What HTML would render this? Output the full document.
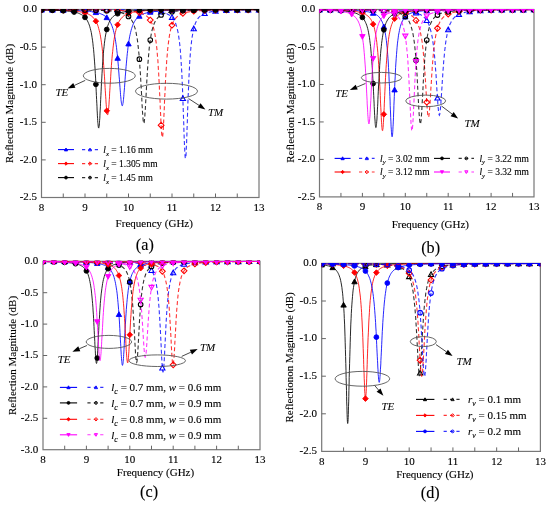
<!DOCTYPE html>
<html><head><meta charset="utf-8"><style>
html,body{margin:0;padding:0;background:#fff;}
svg{display:block;filter:blur(0.3px);}
text{stroke:#000;stroke-width:0.12px;}
</style></head><body>
<svg width="550" height="505" viewBox="0 0 550 505" font-family="'Liberation Serif','Times New Roman',serif">
<rect width="550" height="505" fill="#fff"/>
<rect x="41.5" y="9.5" width="217.5" height="188" fill="none" stroke="#777777" stroke-width="1.2"/>
<clipPath id="clipa"><rect x="41.5" y="9" width="217.5" height="188.5"/></clipPath>
<g clip-path="url(#clipa)">
<path d="M41.5,9.8 L41.8,9.8 L45.8,9.9 L49.5,9.9 L53.0,9.9 L56.4,10.0 L59.6,10.0 L62.7,10.1 L65.6,10.1 L68.4,10.2 L71.0,10.3 L73.6,10.4 L76.0,10.5 L78.2,10.6 L80.4,10.7 L82.5,10.8 L84.5,10.9 L86.4,11.1 L88.1,11.3 L89.8,11.4 L91.5,11.7 L93.0,11.9 L94.5,12.1 L95.9,12.4 L97.2,12.7 L98.5,13.1 L99.7,13.4 L100.9,13.9 L102.0,14.3 L103.0,14.8 L104.0,15.4 L105.0,16.0 L105.9,16.7 L106.7,17.5 L107.6,18.3 L108.3,19.2 L109.1,20.2 L109.8,21.3 L110.5,22.5 L111.1,23.9 L111.7,25.3 L112.3,26.9 L112.9,28.6 L113.4,30.4 L113.9,32.4 L114.4,34.5 L114.8,36.8 L115.3,39.2 L115.7,41.8 L116.1,44.5 L116.5,47.4 L116.8,50.4 L117.2,53.5 L117.5,56.6 L117.8,59.9 L118.1,63.1 L118.4,66.4 L118.6,69.7 L118.9,73.0 L119.1,76.1 L119.4,79.2 L119.6,82.2 L119.8,85.0 L120.0,87.6 L120.2,90.1 L120.4,92.3 L120.5,94.4 L120.7,96.3 L120.9,98.0 L121.0,99.5 L121.1,100.8 L121.3,101.9 L121.4,102.9 L121.5,103.6 L121.6,104.3 L121.8,104.8 L121.9,105.2 L122.0,105.5 L122.1,105.7 L122.1,105.8 L122.2,105.8 L122.2,105.8 L122.3,105.8 L122.4,105.7 L122.5,105.5 L122.6,105.2 L122.7,104.8 L122.8,104.3 L122.9,103.6 L123.1,102.9 L123.2,101.9 L123.3,100.8 L123.5,99.5 L123.6,98.0 L123.8,96.3 L123.9,94.4 L124.1,92.3 L124.3,90.1 L124.5,87.6 L124.7,85.0 L124.9,82.2 L125.1,79.2 L125.3,76.1 L125.6,73.0 L125.8,69.7 L126.1,66.4 L126.4,63.1 L126.7,59.9 L127.0,56.6 L127.3,53.5 L127.7,50.4 L128.0,47.4 L128.4,44.5 L128.8,41.8 L129.2,39.2 L129.6,36.8 L130.1,34.5 L130.6,32.4 L131.1,30.4 L131.6,28.6 L132.2,26.9 L132.7,25.3 L133.4,23.9 L134.0,22.5 L134.7,21.3 L135.4,20.2 L136.1,19.2 L136.9,18.3 L137.7,17.5 L138.6,16.7 L139.5,16.0 L140.4,15.4 L141.4,14.8 L142.5,14.3 L143.6,13.9 L144.7,13.4 L146.0,13.1 L147.2,12.7 L148.6,12.4 L150.0,12.1 L151.5,11.9 L153.0,11.7 L154.6,11.4 L156.3,11.3 L158.1,11.1 L160.0,10.9 L162.0,10.8 L164.1,10.7 L166.2,10.6 L168.5,10.5 L170.9,10.4 L173.4,10.3 L176.1,10.2 L178.9,10.1 L181.8,10.1 L184.8,10.0 L188.1,10.0 L191.4,9.9 L195.0,9.9 L198.7,9.9 L202.6,9.8 L206.7,9.8 L211.0,9.8 L215.4,9.7 L219.7,9.7 L224.1,9.7 L228.4,9.7 L232.8,9.7 L237.1,9.7 L241.5,9.6 L245.8,9.6 L250.2,9.6 L254.5,9.6 L258.9,9.6 L259.0,9.6" fill="none" stroke="#0000ff" stroke-width="1.0" opacity="0.85"/>
<polygon points="41.5,7.18 44.2,11.98 38.8,11.98" fill="#0000ff" stroke="#0000ff" stroke-width="0.90" stroke-linejoin="miter"/>
<polygon points="52.38,7.29 55.08,12.09 49.67,12.09" fill="#0000ff" stroke="#0000ff" stroke-width="0.90" stroke-linejoin="miter"/>
<polygon points="63.25,7.46 65.95,12.26 60.55,12.26" fill="#0000ff" stroke="#0000ff" stroke-width="0.90" stroke-linejoin="miter"/>
<polygon points="74.12,7.75 76.83,12.55 71.42,12.55" fill="#0000ff" stroke="#0000ff" stroke-width="0.90" stroke-linejoin="miter"/>
<polygon points="85,8.34 87.7,13.14 82.3,13.14" fill="#0000ff" stroke="#0000ff" stroke-width="0.90" stroke-linejoin="miter"/>
<polygon points="95.88,9.77 98.58,14.57 93.17,14.57" fill="#0000ff" stroke="#0000ff" stroke-width="0.90" stroke-linejoin="miter"/>
<polygon points="106.75,14.84 109.45,19.64 104.05,19.64" fill="#0000ff" stroke="#0000ff" stroke-width="0.90" stroke-linejoin="miter"/>
<polygon points="117.62,55.47 120.33,60.27 114.92,60.27" fill="#0000ff" stroke="#0000ff" stroke-width="0.90" stroke-linejoin="miter"/>
<polygon points="128.5,41.13 131.2,45.93 125.8,45.93" fill="#0000ff" stroke="#0000ff" stroke-width="0.90" stroke-linejoin="miter"/>
<polygon points="139.38,13.48 142.07,18.28 136.68,18.28" fill="#0000ff" stroke="#0000ff" stroke-width="0.90" stroke-linejoin="miter"/>
<polygon points="150.25,9.45 152.95,14.25 147.55,14.25" fill="#0000ff" stroke="#0000ff" stroke-width="0.90" stroke-linejoin="miter"/>
<polygon points="161.12,8.22 163.82,13.02 158.43,13.02" fill="#0000ff" stroke="#0000ff" stroke-width="0.90" stroke-linejoin="miter"/>
<polygon points="172,7.7 174.7,12.5 169.3,12.5" fill="#0000ff" stroke="#0000ff" stroke-width="0.90" stroke-linejoin="miter"/>
<polygon points="182.88,7.42 185.57,12.22 180.18,12.22" fill="#0000ff" stroke="#0000ff" stroke-width="0.90" stroke-linejoin="miter"/>
<polygon points="193.75,7.27 196.45,12.07 191.05,12.07" fill="#0000ff" stroke="#0000ff" stroke-width="0.90" stroke-linejoin="miter"/>
<polygon points="204.62,7.17 207.32,11.97 201.93,11.97" fill="#0000ff" stroke="#0000ff" stroke-width="0.90" stroke-linejoin="miter"/>
<polygon points="215.5,7.1 218.2,11.9 212.8,11.9" fill="#0000ff" stroke="#0000ff" stroke-width="0.90" stroke-linejoin="miter"/>
<polygon points="226.38,7.05 229.07,11.85 223.68,11.85" fill="#0000ff" stroke="#0000ff" stroke-width="0.90" stroke-linejoin="miter"/>
<polygon points="237.25,7.02 239.95,11.82 234.55,11.82" fill="#0000ff" stroke="#0000ff" stroke-width="0.90" stroke-linejoin="miter"/>
<polygon points="248.12,6.99 250.82,11.79 245.43,11.79" fill="#0000ff" stroke="#0000ff" stroke-width="0.90" stroke-linejoin="miter"/>
<polygon points="259,6.97 261.7,11.77 256.3,11.77" fill="#0000ff" stroke="#0000ff" stroke-width="0.90" stroke-linejoin="miter"/>
<path d="M41.5,9.6 L44.5,9.6 L48.8,9.6 L53.2,9.6 L57.5,9.6 L61.9,9.6 L66.2,9.6 L70.6,9.6 L74.9,9.6 L79.3,9.6 L83.6,9.6 L88.0,9.7 L92.3,9.7 L96.7,9.7 L101.0,9.7 L105.1,9.7 L109.0,9.8 L112.7,9.8 L116.3,9.8 L119.7,9.8 L122.9,9.9 L125.9,9.9 L128.9,10.0 L131.6,10.0 L134.3,10.1 L136.8,10.1 L139.2,10.2 L141.5,10.3 L143.7,10.4 L145.7,10.4 L147.7,10.5 L149.6,10.7 L151.4,10.8 L153.1,10.9 L154.7,11.1 L156.3,11.2 L157.7,11.4 L159.1,11.6 L160.5,11.9 L161.8,12.1 L163.0,12.4 L164.1,12.7 L165.2,13.1 L166.3,13.5 L167.3,13.9 L168.2,14.4 L169.1,14.9 L170.0,15.5 L170.8,16.2 L171.6,16.9 L172.3,17.7 L173.0,18.6 L173.7,19.6 L174.4,20.7 L175.0,22.0 L175.6,23.3 L176.1,24.8 L176.6,26.5 L177.1,28.4 L177.6,30.4 L178.1,32.7 L178.5,35.1 L178.9,37.8 L179.3,40.8 L179.7,44.0 L180.1,47.5 L180.4,51.3 L180.7,55.4 L181.0,59.8 L181.3,64.5 L181.6,69.4 L181.9,74.6 L182.1,80.0 L182.4,85.6 L182.6,91.3 L182.8,97.1 L183.0,103.0 L183.2,108.7 L183.4,114.4 L183.6,119.9 L183.8,125.1 L183.9,130.1 L184.1,134.7 L184.2,138.9 L184.4,142.7 L184.5,146.0 L184.7,148.9 L184.8,151.4 L184.9,153.5 L185.0,155.1 L185.1,156.4 L185.2,157.4 L185.3,158.0 L185.4,158.4 L185.5,158.5 L185.5,158.5 L185.6,158.4 L185.7,158.0 L185.8,157.4 L185.9,156.4 L186.0,155.1 L186.1,153.5 L186.2,151.4 L186.3,148.9 L186.4,146.0 L186.6,142.7 L186.7,138.9 L186.9,134.7 L187.0,130.1 L187.2,125.1 L187.4,119.9 L187.5,114.4 L187.7,108.7 L187.9,103.0 L188.1,97.1 L188.4,91.3 L188.6,85.6 L188.8,80.0 L189.1,74.6 L189.4,69.4 L189.6,64.5 L189.9,59.8 L190.2,55.4 L190.6,51.3 L190.9,47.5 L191.3,44.0 L191.6,40.8 L192.0,37.8 L192.5,35.1 L192.9,32.7 L193.3,30.4 L193.8,28.4 L194.3,26.5 L194.9,24.8 L195.4,23.3 L196.0,22.0 L196.6,20.7 L197.3,19.6 L197.9,18.6 L198.6,17.7 L199.4,16.9 L200.2,16.2 L201.0,15.5 L201.8,14.9 L202.7,14.4 L203.7,13.9 L204.7,13.5 L205.7,13.1 L206.8,12.7 L208.0,12.4 L209.2,12.1 L210.5,11.9 L211.8,11.6 L213.2,11.4 L214.7,11.2 L216.2,11.1 L217.9,10.9 L219.6,10.8 L221.4,10.7 L223.3,10.5 L225.2,10.4 L227.3,10.4 L229.5,10.3 L231.8,10.2 L234.2,10.1 L236.7,10.1 L239.3,10.0 L242.1,10.0 L245.0,9.9 L248.1,9.9 L251.3,9.8 L254.7,9.8 L258.2,9.8 L259.0,9.8" fill="none" stroke="#0000ff" stroke-width="1.1" stroke-dasharray="4 2.6" opacity="0.8"/>
<polygon points="41.5,7.04 44.1,11.64 38.9,11.64" fill="none" stroke="#0000ff" stroke-width="1.08" stroke-linejoin="miter"/>
<polygon points="52.38,7.05 54.98,11.65 49.77,11.65" fill="none" stroke="#0000ff" stroke-width="1.08" stroke-linejoin="miter"/>
<polygon points="63.25,7.07 65.85,11.67 60.65,11.67" fill="none" stroke="#0000ff" stroke-width="1.08" stroke-linejoin="miter"/>
<polygon points="74.12,7.09 76.72,11.69 71.53,11.69" fill="none" stroke="#0000ff" stroke-width="1.08" stroke-linejoin="miter"/>
<polygon points="85,7.12 87.6,11.72 82.4,11.72" fill="none" stroke="#0000ff" stroke-width="1.08" stroke-linejoin="miter"/>
<polygon points="95.88,7.16 98.47,11.76 93.28,11.76" fill="none" stroke="#0000ff" stroke-width="1.08" stroke-linejoin="miter"/>
<polygon points="106.75,7.21 109.35,11.81 104.15,11.81" fill="none" stroke="#0000ff" stroke-width="1.08" stroke-linejoin="miter"/>
<polygon points="117.62,7.3 120.22,11.9 115.03,11.9" fill="none" stroke="#0000ff" stroke-width="1.08" stroke-linejoin="miter"/>
<polygon points="128.5,7.43 131.1,12.03 125.9,12.03" fill="none" stroke="#0000ff" stroke-width="1.08" stroke-linejoin="miter"/>
<polygon points="139.38,7.67 141.97,12.27 136.78,12.27" fill="none" stroke="#0000ff" stroke-width="1.08" stroke-linejoin="miter"/>
<polygon points="150.25,8.17 152.85,12.77 147.65,12.77" fill="none" stroke="#0000ff" stroke-width="1.08" stroke-linejoin="miter"/>
<polygon points="161.12,9.46 163.72,14.06 158.53,14.06" fill="none" stroke="#0000ff" stroke-width="1.08" stroke-linejoin="miter"/>
<polygon points="172,14.8 174.6,19.4 169.4,19.4" fill="none" stroke="#0000ff" stroke-width="1.08" stroke-linejoin="miter"/>
<polygon points="182.88,95.88 185.47,100.48 180.28,100.48" fill="none" stroke="#0000ff" stroke-width="1.08" stroke-linejoin="miter"/>
<polygon points="193.75,26.13 196.35,30.73 191.15,30.73" fill="none" stroke="#0000ff" stroke-width="1.08" stroke-linejoin="miter"/>
<polygon points="204.62,10.96 207.22,15.56 202.03,15.56" fill="none" stroke="#0000ff" stroke-width="1.08" stroke-linejoin="miter"/>
<polygon points="215.5,8.62 218.1,13.22 212.9,13.22" fill="none" stroke="#0000ff" stroke-width="1.08" stroke-linejoin="miter"/>
<polygon points="226.38,7.86 228.97,12.46 223.78,12.46" fill="none" stroke="#0000ff" stroke-width="1.08" stroke-linejoin="miter"/>
<polygon points="237.25,7.53 239.85,12.13 234.65,12.13" fill="none" stroke="#0000ff" stroke-width="1.08" stroke-linejoin="miter"/>
<polygon points="248.12,7.35 250.72,11.95 245.53,11.95" fill="none" stroke="#0000ff" stroke-width="1.08" stroke-linejoin="miter"/>
<polygon points="259,7.25 261.6,11.85 256.4,11.85" fill="none" stroke="#0000ff" stroke-width="1.08" stroke-linejoin="miter"/>
<path d="M41.5,9.9 L41.7,9.9 L45.0,10.0 L48.0,10.0 L50.9,10.1 L53.7,10.1 L56.4,10.2 L58.9,10.3 L61.3,10.3 L63.6,10.4 L65.8,10.5 L67.8,10.6 L69.8,10.7 L71.7,10.9 L73.5,11.0 L75.2,11.2 L76.8,11.4 L78.4,11.6 L79.8,11.8 L81.2,12.0 L82.6,12.3 L83.9,12.6 L85.1,12.9 L86.2,13.3 L87.3,13.7 L88.4,14.2 L89.4,14.7 L90.3,15.2 L91.2,15.8 L92.1,16.5 L92.9,17.2 L93.7,18.1 L94.4,19.0 L95.1,20.0 L95.8,21.1 L96.5,22.3 L97.1,23.6 L97.7,25.1 L98.2,26.6 L98.7,28.4 L99.2,30.3 L99.7,32.3 L100.2,34.5 L100.6,36.9 L101.0,39.5 L101.4,42.2 L101.8,45.1 L102.2,48.2 L102.5,51.4 L102.8,54.8 L103.1,58.3 L103.4,61.9 L103.7,65.6 L104.0,69.3 L104.2,73.1 L104.5,76.8 L104.7,80.4 L104.9,84.0 L105.1,87.5 L105.3,90.8 L105.5,93.9 L105.7,96.8 L105.9,99.5 L106.0,102.0 L106.2,104.2 L106.3,106.2 L106.5,107.9 L106.6,109.4 L106.7,110.7 L106.9,111.8 L107.0,112.7 L107.1,113.4 L107.2,114.0 L107.3,114.4 L107.4,114.6 L107.5,114.8 L107.6,114.8 L107.6,114.8 L107.7,114.8 L107.8,114.6 L107.9,114.4 L108.0,114.0 L108.1,113.4 L108.2,112.7 L108.3,111.8 L108.4,110.7 L108.5,109.4 L108.7,107.9 L108.8,106.2 L109.0,104.2 L109.1,102.0 L109.3,99.5 L109.5,96.8 L109.6,93.9 L109.8,90.8 L110.0,87.5 L110.2,84.0 L110.5,80.4 L110.7,76.8 L110.9,73.1 L111.2,69.3 L111.4,65.6 L111.7,61.9 L112.0,58.3 L112.3,54.8 L112.7,51.4 L113.0,48.2 L113.4,45.1 L113.7,42.2 L114.1,39.5 L114.5,36.9 L115.0,34.5 L115.4,32.3 L115.9,30.3 L116.4,28.4 L116.9,26.6 L117.5,25.1 L118.1,23.6 L118.7,22.3 L119.3,21.1 L120.0,20.0 L120.7,19.0 L121.5,18.1 L122.3,17.2 L123.1,16.5 L123.9,15.8 L124.8,15.2 L125.8,14.7 L126.8,14.2 L127.8,13.7 L128.9,13.3 L130.1,12.9 L131.3,12.6 L132.6,12.3 L133.9,12.0 L135.3,11.8 L136.8,11.6 L138.3,11.4 L140.0,11.2 L141.7,11.0 L143.5,10.9 L145.3,10.7 L147.3,10.6 L149.4,10.5 L151.6,10.4 L153.9,10.3 L156.3,10.3 L158.8,10.2 L161.4,10.1 L164.2,10.1 L167.1,10.0 L170.2,10.0 L173.4,9.9 L176.8,9.9 L180.3,9.8 L184.1,9.8 L188.0,9.8 L192.1,9.8 L196.4,9.7 L200.7,9.7 L205.1,9.7 L209.4,9.7 L213.8,9.7 L218.1,9.6 L222.5,9.6 L226.8,9.6 L231.2,9.6 L235.5,9.6 L239.9,9.6 L244.2,9.6 L248.6,9.6 L252.9,9.6 L257.3,9.6 L259.0,9.6" fill="none" stroke="#ff0000" stroke-width="1.0" opacity="0.85"/>
<polygon points="41.5,7.11 44.3,9.91 41.5,12.71 38.7,9.91" fill="#ff0000" stroke="#ff0000" stroke-width="0.90" stroke-linejoin="miter"/>
<polygon points="52.38,7.29 55.17,10.09 52.38,12.89 49.58,10.09" fill="#ff0000" stroke="#ff0000" stroke-width="0.90" stroke-linejoin="miter"/>
<polygon points="63.25,7.61 66.05,10.41 63.25,13.21 60.45,10.41" fill="#ff0000" stroke="#ff0000" stroke-width="0.90" stroke-linejoin="miter"/>
<polygon points="74.12,8.28 76.92,11.08 74.12,13.88 71.33,11.08" fill="#ff0000" stroke="#ff0000" stroke-width="0.90" stroke-linejoin="miter"/>
<polygon points="85,10.11 87.8,12.91 85,15.71 82.2,12.91" fill="#ff0000" stroke="#ff0000" stroke-width="0.90" stroke-linejoin="miter"/>
<polygon points="95.88,18.38 98.67,21.18 95.88,23.98 93.08,21.18" fill="#ff0000" stroke="#ff0000" stroke-width="0.90" stroke-linejoin="miter"/>
<polygon points="106.75,107.97 109.55,110.77 106.75,113.57 103.95,110.77" fill="#ff0000" stroke="#ff0000" stroke-width="0.90" stroke-linejoin="miter"/>
<polygon points="117.62,21.94 120.42,24.74 117.62,27.54 114.83,24.74" fill="#ff0000" stroke="#ff0000" stroke-width="0.90" stroke-linejoin="miter"/>
<polygon points="128.5,10.65 131.3,13.45 128.5,16.25 125.7,13.45" fill="#ff0000" stroke="#ff0000" stroke-width="0.90" stroke-linejoin="miter"/>
<polygon points="139.38,8.45 142.18,11.25 139.38,14.05 136.57,11.25" fill="#ff0000" stroke="#ff0000" stroke-width="0.90" stroke-linejoin="miter"/>
<polygon points="150.25,7.68 153.05,10.48 150.25,13.28 147.45,10.48" fill="#ff0000" stroke="#ff0000" stroke-width="0.90" stroke-linejoin="miter"/>
<polygon points="161.12,7.32 163.93,10.12 161.12,12.92 158.32,10.12" fill="#ff0000" stroke="#ff0000" stroke-width="0.90" stroke-linejoin="miter"/>
<polygon points="172,7.13 174.8,9.93 172,12.73 169.2,9.93" fill="#ff0000" stroke="#ff0000" stroke-width="0.90" stroke-linejoin="miter"/>
<polygon points="182.88,7.02 185.68,9.82 182.88,12.62 180.07,9.82" fill="#ff0000" stroke="#ff0000" stroke-width="0.90" stroke-linejoin="miter"/>
<polygon points="193.75,6.94 196.55,9.74 193.75,12.54 190.95,9.74" fill="#ff0000" stroke="#ff0000" stroke-width="0.90" stroke-linejoin="miter"/>
<polygon points="204.62,6.89 207.43,9.69 204.62,12.49 201.82,9.69" fill="#ff0000" stroke="#ff0000" stroke-width="0.90" stroke-linejoin="miter"/>
<polygon points="215.5,6.85 218.3,9.65 215.5,12.45 212.7,9.65" fill="#ff0000" stroke="#ff0000" stroke-width="0.90" stroke-linejoin="miter"/>
<polygon points="226.38,6.83 229.18,9.63 226.38,12.43 223.57,9.63" fill="#ff0000" stroke="#ff0000" stroke-width="0.90" stroke-linejoin="miter"/>
<polygon points="237.25,6.81 240.05,9.61 237.25,12.41 234.45,9.61" fill="#ff0000" stroke="#ff0000" stroke-width="0.90" stroke-linejoin="miter"/>
<polygon points="248.12,6.79 250.93,9.59 248.12,12.39 245.32,9.59" fill="#ff0000" stroke="#ff0000" stroke-width="0.90" stroke-linejoin="miter"/>
<polygon points="259,6.78 261.8,9.58 259,12.38 256.2,9.58" fill="#ff0000" stroke="#ff0000" stroke-width="0.90" stroke-linejoin="miter"/>
<path d="M41.5,9.6 L43.0,9.6 L47.4,9.6 L51.7,9.6 L56.1,9.6 L60.4,9.7 L64.8,9.7 L69.1,9.7 L73.5,9.7 L77.8,9.7 L81.9,9.8 L85.8,9.8 L89.5,9.8 L93.1,9.8 L96.5,9.9 L99.7,9.9 L102.8,10.0 L105.7,10.0 L108.5,10.1 L111.1,10.1 L113.6,10.2 L116.0,10.3 L118.3,10.4 L120.5,10.5 L122.6,10.6 L124.5,10.7 L126.4,10.8 L128.2,10.9 L129.9,11.1 L131.5,11.3 L133.1,11.4 L134.6,11.6 L136.0,11.9 L137.3,12.1 L138.6,12.4 L139.8,12.7 L140.9,13.1 L142.0,13.5 L143.1,13.9 L144.1,14.4 L145.0,14.9 L145.9,15.5 L146.8,16.1 L147.6,16.8 L148.4,17.6 L149.2,18.5 L149.9,19.5 L150.5,20.6 L151.2,21.8 L151.8,23.1 L152.4,24.5 L152.9,26.1 L153.5,27.9 L154.0,29.8 L154.4,31.9 L154.9,34.2 L155.3,36.7 L155.7,39.5 L156.1,42.4 L156.5,45.6 L156.9,49.0 L157.2,52.6 L157.5,56.5 L157.9,60.5 L158.1,64.8 L158.4,69.2 L158.7,73.8 L158.9,78.5 L159.2,83.2 L159.4,88.0 L159.6,92.7 L159.9,97.3 L160.1,101.9 L160.2,106.2 L160.4,110.3 L160.6,114.2 L160.8,117.8 L160.9,121.1 L161.1,124.1 L161.2,126.7 L161.3,129.0 L161.5,131.0 L161.6,132.7 L161.7,134.1 L161.8,135.2 L161.9,136.0 L162.0,136.7 L162.1,137.1 L162.2,137.3 L162.3,137.4 L162.3,137.4 L162.4,137.3 L162.5,137.1 L162.6,136.7 L162.7,136.0 L162.8,135.2 L162.9,134.1 L163.0,132.7 L163.1,131.0 L163.3,129.0 L163.4,126.7 L163.5,124.1 L163.7,121.1 L163.8,117.8 L164.0,114.2 L164.2,110.3 L164.4,106.2 L164.5,101.9 L164.7,97.3 L165.0,92.7 L165.2,88.0 L165.4,83.2 L165.6,78.5 L165.9,73.8 L166.2,69.2 L166.5,64.8 L166.7,60.5 L167.1,56.5 L167.4,52.6 L167.7,49.0 L168.1,45.6 L168.5,42.4 L168.9,39.5 L169.3,36.7 L169.7,34.2 L170.2,31.9 L170.6,29.8 L171.1,27.9 L171.7,26.1 L172.2,24.5 L172.8,23.1 L173.4,21.8 L174.1,20.6 L174.7,19.5 L175.4,18.5 L176.2,17.6 L177.0,16.8 L177.8,16.1 L178.7,15.5 L179.6,14.9 L180.5,14.4 L181.5,13.9 L182.6,13.5 L183.7,13.1 L184.8,12.7 L186.0,12.4 L187.3,12.1 L188.6,11.9 L190.0,11.6 L191.5,11.4 L193.1,11.3 L194.7,11.1 L196.4,10.9 L198.2,10.8 L200.1,10.7 L202.0,10.6 L204.1,10.5 L206.3,10.4 L208.6,10.3 L211.0,10.2 L213.5,10.1 L216.1,10.1 L218.9,10.0 L221.8,10.0 L224.9,9.9 L228.1,9.9 L231.5,9.8 L235.1,9.8 L238.8,9.8 L242.7,9.8 L246.8,9.7 L251.1,9.7 L255.5,9.7 L259.0,9.7" fill="none" stroke="#ff0000" stroke-width="1.1" stroke-dasharray="4 2.6" opacity="0.8"/>
<polygon points="41.5,6.71 44.4,9.61 41.5,12.51 38.6,9.61" fill="none" stroke="#ff0000" stroke-width="1.08" stroke-linejoin="miter"/>
<polygon points="52.38,6.74 55.27,9.64 52.38,12.54 49.48,9.64" fill="none" stroke="#ff0000" stroke-width="1.08" stroke-linejoin="miter"/>
<polygon points="63.25,6.77 66.15,9.67 63.25,12.57 60.35,9.67" fill="none" stroke="#ff0000" stroke-width="1.08" stroke-linejoin="miter"/>
<polygon points="74.12,6.82 77.03,9.72 74.12,12.62 71.22,9.72" fill="none" stroke="#ff0000" stroke-width="1.08" stroke-linejoin="miter"/>
<polygon points="85,6.88 87.9,9.78 85,12.68 82.1,9.78" fill="none" stroke="#ff0000" stroke-width="1.08" stroke-linejoin="miter"/>
<polygon points="95.88,6.98 98.78,9.88 95.88,12.78 92.97,9.88" fill="none" stroke="#ff0000" stroke-width="1.08" stroke-linejoin="miter"/>
<polygon points="106.75,7.14 109.65,10.04 106.75,12.94 103.85,10.04" fill="none" stroke="#ff0000" stroke-width="1.08" stroke-linejoin="miter"/>
<polygon points="117.62,7.44 120.53,10.34 117.62,13.24 114.72,10.34" fill="none" stroke="#ff0000" stroke-width="1.08" stroke-linejoin="miter"/>
<polygon points="128.5,8.05 131.4,10.95 128.5,13.85 125.6,10.95" fill="none" stroke="#ff0000" stroke-width="1.08" stroke-linejoin="miter"/>
<polygon points="139.38,9.72 142.28,12.62 139.38,15.52 136.47,12.62" fill="none" stroke="#ff0000" stroke-width="1.08" stroke-linejoin="miter"/>
<polygon points="150.25,17.21 153.15,20.11 150.25,23.01 147.35,20.11" fill="none" stroke="#ff0000" stroke-width="1.08" stroke-linejoin="miter"/>
<polygon points="161.12,122.34 164.03,125.24 161.12,128.14 158.22,125.24" fill="none" stroke="#ff0000" stroke-width="1.08" stroke-linejoin="miter"/>
<polygon points="172,22.26 174.9,25.16 172,28.06 169.1,25.16" fill="none" stroke="#ff0000" stroke-width="1.08" stroke-linejoin="miter"/>
<polygon points="182.88,10.45 185.78,13.35 182.88,16.25 179.97,13.35" fill="none" stroke="#ff0000" stroke-width="1.08" stroke-linejoin="miter"/>
<polygon points="193.75,8.28 196.65,11.18 193.75,14.08 190.85,11.18" fill="none" stroke="#ff0000" stroke-width="1.08" stroke-linejoin="miter"/>
<polygon points="204.62,7.53 207.53,10.43 204.62,13.33 201.72,10.43" fill="none" stroke="#ff0000" stroke-width="1.08" stroke-linejoin="miter"/>
<polygon points="215.5,7.19 218.4,10.09 215.5,12.99 212.6,10.09" fill="none" stroke="#ff0000" stroke-width="1.08" stroke-linejoin="miter"/>
<polygon points="226.38,7.01 229.28,9.91 226.38,12.81 223.47,9.91" fill="none" stroke="#ff0000" stroke-width="1.08" stroke-linejoin="miter"/>
<polygon points="237.25,6.9 240.15,9.8 237.25,12.7 234.35,9.8" fill="none" stroke="#ff0000" stroke-width="1.08" stroke-linejoin="miter"/>
<polygon points="248.12,6.83 251.03,9.73 248.12,12.63 245.22,9.73" fill="none" stroke="#ff0000" stroke-width="1.08" stroke-linejoin="miter"/>
<polygon points="259,6.78 261.9,9.68 259,12.58 256.1,9.68" fill="none" stroke="#ff0000" stroke-width="1.08" stroke-linejoin="miter"/>
<path d="M41.5,10.0 L42.0,10.0 L44.8,10.0 L47.5,10.1 L50.0,10.2 L52.4,10.2 L54.7,10.3 L56.8,10.4 L58.9,10.5 L60.9,10.6 L62.8,10.7 L64.6,10.8 L66.3,11.0 L67.9,11.1 L69.4,11.3 L70.9,11.5 L72.3,11.7 L73.7,12.0 L74.9,12.2 L76.1,12.5 L77.3,12.8 L78.4,13.2 L79.4,13.6 L80.4,14.1 L81.4,14.6 L82.3,15.1 L83.2,15.7 L84.0,16.4 L84.8,17.1 L85.5,17.9 L86.2,18.9 L86.9,19.9 L87.5,21.0 L88.1,22.2 L88.7,23.6 L89.3,25.1 L89.8,26.7 L90.3,28.5 L90.8,30.5 L91.3,32.6 L91.7,35.0 L92.1,37.5 L92.5,40.2 L92.9,43.2 L93.2,46.4 L93.6,49.7 L93.9,53.3 L94.2,57.1 L94.5,61.1 L94.8,65.2 L95.1,69.4 L95.3,73.7 L95.6,78.1 L95.8,82.5 L96.0,86.9 L96.2,91.2 L96.4,95.4 L96.6,99.4 L96.8,103.2 L97.0,106.8 L97.1,110.1 L97.3,113.1 L97.4,115.8 L97.6,118.3 L97.7,120.4 L97.8,122.2 L98.0,123.8 L98.1,125.0 L98.2,126.1 L98.3,126.9 L98.4,127.4 L98.5,127.8 L98.6,128.0 L98.7,128.1 L98.7,128.1 L98.7,128.0 L98.8,127.8 L98.9,127.4 L99.0,126.9 L99.1,126.1 L99.3,125.0 L99.4,123.8 L99.5,122.2 L99.6,120.4 L99.8,118.3 L99.9,115.8 L100.0,113.1 L100.2,110.1 L100.4,106.8 L100.5,103.2 L100.7,99.4 L100.9,95.4 L101.1,91.2 L101.3,86.9 L101.5,82.5 L101.8,78.1 L102.0,73.7 L102.3,69.4 L102.5,65.2 L102.8,61.1 L103.1,57.1 L103.4,53.3 L103.7,49.7 L104.1,46.4 L104.4,43.2 L104.8,40.2 L105.2,37.5 L105.6,35.0 L106.1,32.6 L106.5,30.5 L107.0,28.5 L107.5,26.7 L108.0,25.1 L108.6,23.6 L109.2,22.2 L109.8,21.0 L110.4,19.9 L111.1,18.9 L111.8,17.9 L112.6,17.1 L113.3,16.4 L114.2,15.7 L115.0,15.1 L115.9,14.6 L116.9,14.1 L117.9,13.6 L118.9,13.2 L120.0,12.8 L121.2,12.5 L122.4,12.2 L123.7,12.0 L125.0,11.7 L126.4,11.5 L127.9,11.3 L129.4,11.1 L131.0,11.0 L132.8,10.8 L134.5,10.7 L136.4,10.6 L138.4,10.5 L140.5,10.4 L142.7,10.3 L144.9,10.2 L147.3,10.2 L149.9,10.1 L152.5,10.0 L155.3,10.0 L158.2,9.9 L161.3,9.9 L164.5,9.9 L167.9,9.8 L171.4,9.8 L175.1,9.8 L179.0,9.7 L183.2,9.7 L187.5,9.7 L191.8,9.7 L196.2,9.7 L200.5,9.7 L204.9,9.6 L209.2,9.6 L213.6,9.6 L217.9,9.6 L222.3,9.6 L226.6,9.6 L231.0,9.6 L235.3,9.6 L239.7,9.6 L244.0,9.6 L248.4,9.6 L252.7,9.6 L257.1,9.6 L259.0,9.6" fill="none" stroke="#000000" stroke-width="1.0" opacity="0.85"/>
<circle cx="41.5" cy="9.98" r="2.4" fill="#000000" stroke="#000000" stroke-width="0.90"/>
<circle cx="52.38" cy="10.23" r="2.4" fill="#000000" stroke="#000000" stroke-width="0.90"/>
<circle cx="63.25" cy="10.74" r="2.4" fill="#000000" stroke="#000000" stroke-width="0.90"/>
<circle cx="74.12" cy="12.06" r="2.4" fill="#000000" stroke="#000000" stroke-width="0.90"/>
<circle cx="85" cy="17.37" r="2.4" fill="#000000" stroke="#000000" stroke-width="0.90"/>
<circle cx="95.88" cy="84.34" r="2.4" fill="#000000" stroke="#000000" stroke-width="0.90"/>
<circle cx="106.75" cy="29.47" r="2.4" fill="#000000" stroke="#000000" stroke-width="0.90"/>
<circle cx="117.62" cy="13.72" r="2.4" fill="#000000" stroke="#000000" stroke-width="0.90"/>
<circle cx="128.5" cy="11.24" r="2.4" fill="#000000" stroke="#000000" stroke-width="0.90"/>
<circle cx="139.38" cy="10.44" r="2.4" fill="#000000" stroke="#000000" stroke-width="0.90"/>
<circle cx="150.25" cy="10.09" r="2.4" fill="#000000" stroke="#000000" stroke-width="0.90"/>
<circle cx="161.12" cy="9.9" r="2.4" fill="#000000" stroke="#000000" stroke-width="0.90"/>
<circle cx="172" cy="9.79" r="2.4" fill="#000000" stroke="#000000" stroke-width="0.90"/>
<circle cx="182.88" cy="9.72" r="2.4" fill="#000000" stroke="#000000" stroke-width="0.90"/>
<circle cx="193.75" cy="9.67" r="2.4" fill="#000000" stroke="#000000" stroke-width="0.90"/>
<circle cx="204.62" cy="9.64" r="2.4" fill="#000000" stroke="#000000" stroke-width="0.90"/>
<circle cx="215.5" cy="9.62" r="2.4" fill="#000000" stroke="#000000" stroke-width="0.90"/>
<circle cx="226.38" cy="9.6" r="2.4" fill="#000000" stroke="#000000" stroke-width="0.90"/>
<circle cx="237.25" cy="9.58" r="2.4" fill="#000000" stroke="#000000" stroke-width="0.90"/>
<circle cx="248.12" cy="9.57" r="2.4" fill="#000000" stroke="#000000" stroke-width="0.90"/>
<circle cx="259" cy="9.56" r="2.4" fill="#000000" stroke="#000000" stroke-width="0.90"/>
<path d="M41.5,9.7 L42.0,9.7 L46.3,9.7 L50.7,9.7 L55.0,9.7 L59.3,9.7 L63.4,9.8 L67.3,9.8 L71.1,9.8 L74.6,9.9 L78.0,9.9 L81.2,9.9 L84.3,10.0 L87.2,10.0 L90.0,10.1 L92.6,10.2 L95.1,10.2 L97.5,10.3 L99.8,10.4 L102.0,10.5 L104.1,10.6 L106.0,10.7 L107.9,10.8 L109.7,11.0 L111.4,11.1 L113.1,11.3 L114.6,11.5 L116.1,11.7 L117.5,11.9 L118.8,12.2 L120.1,12.5 L121.3,12.8 L122.5,13.2 L123.6,13.6 L124.6,14.0 L125.6,14.5 L126.5,15.0 L127.5,15.6 L128.3,16.3 L129.1,17.0 L129.9,17.8 L130.7,18.7 L131.4,19.7 L132.0,20.8 L132.7,22.0 L133.3,23.3 L133.9,24.7 L134.4,26.3 L135.0,28.1 L135.5,30.0 L136.0,32.0 L136.4,34.3 L136.8,36.7 L137.3,39.3 L137.7,42.1 L138.0,45.1 L138.4,48.4 L138.7,51.7 L139.1,55.3 L139.4,59.0 L139.7,62.9 L139.9,66.9 L140.2,70.9 L140.5,75.1 L140.7,79.2 L140.9,83.3 L141.2,87.3 L141.4,91.2 L141.6,95.0 L141.8,98.6 L141.9,102.0 L142.1,105.1 L142.3,108.0 L142.4,110.6 L142.6,113.0 L142.7,115.1 L142.9,116.9 L143.0,118.4 L143.1,119.7 L143.2,120.8 L143.3,121.7 L143.4,122.3 L143.5,122.8 L143.6,123.1 L143.7,123.3 L143.8,123.4 L143.8,123.4 L143.9,123.3 L144.0,123.1 L144.1,122.8 L144.2,122.3 L144.3,121.7 L144.4,120.8 L144.5,119.7 L144.6,118.4 L144.8,116.9 L144.9,115.1 L145.0,113.0 L145.2,110.6 L145.4,108.0 L145.5,105.1 L145.7,102.0 L145.9,98.6 L146.1,95.0 L146.3,91.2 L146.5,87.3 L146.7,83.3 L146.9,79.2 L147.2,75.1 L147.4,70.9 L147.7,66.9 L148.0,62.9 L148.3,59.0 L148.6,55.3 L148.9,51.7 L149.2,48.4 L149.6,45.1 L150.0,42.1 L150.4,39.3 L150.8,36.7 L151.2,34.3 L151.7,32.0 L152.1,30.0 L152.7,28.1 L153.2,26.3 L153.7,24.7 L154.3,23.3 L154.9,22.0 L155.6,20.8 L156.3,19.7 L157.0,18.7 L157.7,17.8 L158.5,17.0 L159.3,16.3 L160.2,15.6 L161.1,15.0 L162.0,14.5 L163.0,14.0 L164.1,13.6 L165.2,13.2 L166.3,12.8 L167.5,12.5 L168.8,12.2 L170.1,11.9 L171.6,11.7 L173.0,11.5 L174.6,11.3 L176.2,11.1 L177.9,11.0 L179.7,10.8 L181.6,10.7 L183.6,10.6 L185.6,10.5 L187.8,10.4 L190.1,10.3 L192.5,10.2 L195.0,10.2 L197.7,10.1 L200.4,10.0 L203.4,10.0 L206.4,9.9 L209.6,9.9 L213.0,9.9 L216.6,9.8 L220.3,9.8 L224.2,9.8 L228.3,9.7 L232.6,9.7 L237.0,9.7 L241.3,9.7 L245.7,9.7 L250.0,9.7 L254.4,9.6 L258.7,9.6 L259.0,9.6" fill="none" stroke="#000000" stroke-width="1.1" stroke-dasharray="4 2.6" opacity="0.8"/>
<circle cx="41.5" cy="9.67" r="2.3" fill="none" stroke="#000000" stroke-width="1.08"/>
<circle cx="52.38" cy="9.71" r="2.3" fill="none" stroke="#000000" stroke-width="1.08"/>
<circle cx="63.25" cy="9.77" r="2.3" fill="none" stroke="#000000" stroke-width="1.08"/>
<circle cx="74.12" cy="9.86" r="2.3" fill="none" stroke="#000000" stroke-width="1.08"/>
<circle cx="85" cy="10" r="2.3" fill="none" stroke="#000000" stroke-width="1.08"/>
<circle cx="95.88" cy="10.25" r="2.3" fill="none" stroke="#000000" stroke-width="1.08"/>
<circle cx="106.75" cy="10.75" r="2.3" fill="none" stroke="#000000" stroke-width="1.08"/>
<circle cx="117.62" cy="11.97" r="2.3" fill="none" stroke="#000000" stroke-width="1.08"/>
<circle cx="128.5" cy="16.44" r="2.3" fill="none" stroke="#000000" stroke-width="1.08"/>
<circle cx="139.38" cy="59.16" r="2.3" fill="none" stroke="#000000" stroke-width="1.08"/>
<circle cx="150.25" cy="40.09" r="2.3" fill="none" stroke="#000000" stroke-width="1.08"/>
<circle cx="161.12" cy="15" r="2.3" fill="none" stroke="#000000" stroke-width="1.08"/>
<circle cx="172" cy="11.64" r="2.3" fill="none" stroke="#000000" stroke-width="1.08"/>
<circle cx="182.88" cy="10.62" r="2.3" fill="none" stroke="#000000" stroke-width="1.08"/>
<circle cx="193.75" cy="10.19" r="2.3" fill="none" stroke="#000000" stroke-width="1.08"/>
<circle cx="204.62" cy="9.97" r="2.3" fill="none" stroke="#000000" stroke-width="1.08"/>
<circle cx="215.5" cy="9.84" r="2.3" fill="none" stroke="#000000" stroke-width="1.08"/>
<circle cx="226.38" cy="9.75" r="2.3" fill="none" stroke="#000000" stroke-width="1.08"/>
<circle cx="237.25" cy="9.7" r="2.3" fill="none" stroke="#000000" stroke-width="1.08"/>
<circle cx="248.12" cy="9.66" r="2.3" fill="none" stroke="#000000" stroke-width="1.08"/>
<circle cx="259" cy="9.63" r="2.3" fill="none" stroke="#000000" stroke-width="1.08"/>
</g>
<text x="41.5" y="210.6" font-size="11" text-anchor="middle" fill="#000">8</text>
<line x1="63.25" y1="197.5" x2="63.25" y2="193.5" stroke="#666" stroke-width="1"/>
<line x1="85" y1="197.5" x2="85" y2="193.5" stroke="#666" stroke-width="1"/>
<text x="85" y="210.6" font-size="11" text-anchor="middle" fill="#000">9</text>
<line x1="106.75" y1="197.5" x2="106.75" y2="193.5" stroke="#666" stroke-width="1"/>
<line x1="128.5" y1="197.5" x2="128.5" y2="193.5" stroke="#666" stroke-width="1"/>
<text x="128.5" y="210.6" font-size="11" text-anchor="middle" fill="#000">10</text>
<line x1="150.25" y1="197.5" x2="150.25" y2="193.5" stroke="#666" stroke-width="1"/>
<line x1="172" y1="197.5" x2="172" y2="193.5" stroke="#666" stroke-width="1"/>
<text x="172" y="210.6" font-size="11" text-anchor="middle" fill="#000">11</text>
<line x1="193.75" y1="197.5" x2="193.75" y2="193.5" stroke="#666" stroke-width="1"/>
<line x1="215.5" y1="197.5" x2="215.5" y2="193.5" stroke="#666" stroke-width="1"/>
<text x="215.5" y="210.6" font-size="11" text-anchor="middle" fill="#000">12</text>
<line x1="237.25" y1="197.5" x2="237.25" y2="193.5" stroke="#666" stroke-width="1"/>
<text x="259" y="210.6" font-size="11" text-anchor="middle" fill="#000">13</text>
<text x="37.1" y="12.3" font-size="11" text-anchor="end" fill="#000">0.0</text>
<line x1="41.5" y1="47.1" x2="45.7" y2="47.1" stroke="#666" stroke-width="1"/>
<text x="37.1" y="49.9" font-size="11" text-anchor="end" fill="#000">-0.5</text>
<line x1="41.5" y1="84.7" x2="45.7" y2="84.7" stroke="#666" stroke-width="1"/>
<text x="37.1" y="87.5" font-size="11" text-anchor="end" fill="#000">-1.0</text>
<line x1="41.5" y1="122.3" x2="45.7" y2="122.3" stroke="#666" stroke-width="1"/>
<text x="37.1" y="125.1" font-size="11" text-anchor="end" fill="#000">-1.5</text>
<line x1="41.5" y1="159.9" x2="45.7" y2="159.9" stroke="#666" stroke-width="1"/>
<text x="37.1" y="162.7" font-size="11" text-anchor="end" fill="#000">-2.0</text>
<text x="37.1" y="200.3" font-size="11" text-anchor="end" fill="#000">-2.5</text>
<text x="154.25" y="227.4" font-size="11" text-anchor="middle" fill="#000">Frequency (GHz)</text>
<text transform="translate(12.9,103.5) rotate(-90)" font-size="11" text-anchor="middle" fill="#000">Reflection Magnitude (dB)</text>
<text x="144.8" y="249.5" font-size="16.2" text-anchor="middle" fill="#000">(a)</text>
<ellipse cx="109.3" cy="75.8" rx="26" ry="7.4" fill="none" stroke="#555" stroke-width="0.9"/>
<line x1="85.2" y1="80.4" x2="74.31" y2="85.45" stroke="#333" stroke-width="0.9"/><polygon points="67.5,88.6 73.21,83.09 75.4,87.81" fill="#000"/>
<text x="55.5" y="96.4" font-size="11" font-style="italic" text-anchor="start" fill="#000" style="stroke-width:0.05px">TE</text>
<ellipse cx="166.5" cy="91.2" rx="31" ry="7.9" fill="none" stroke="#555" stroke-width="0.9"/>
<line x1="188.6" y1="98.6" x2="199.11" y2="105.42" stroke="#333" stroke-width="0.9"/><polygon points="205.4,109.5 197.69,107.6 200.52,103.24" fill="#000"/>
<text x="208" y="115.8" font-size="11" font-style="italic" text-anchor="start" fill="#000" style="stroke-width:0.05px">TM</text>
<line x1="58" y1="149.6" x2="74" y2="149.6" stroke="#0000ff" stroke-width="1.1"/>
<polygon points="66,148.02 67.62,150.9 64.38,150.9" fill="#0000ff" stroke="#0000ff" stroke-width="0.90" stroke-linejoin="miter"/>
<line x1="82" y1="149.6" x2="98" y2="149.6" stroke="#0000ff" stroke-width="1.1" stroke-dasharray="3.2 3.2" opacity="0.8"/>
<polygon points="90,148.08 91.56,150.84 88.44,150.84" fill="none" stroke="#0000ff" stroke-width="0.96" stroke-linejoin="miter"/>
<text x="103.3" y="152.83" font-size="9.5" fill="#000"><tspan font-style="italic">l</tspan><tspan font-style="italic" font-size="6.84" dy="2.85">x</tspan><tspan dy="-2.85"> = 1.16 mm</tspan></text>
<line x1="58" y1="163.6" x2="74" y2="163.6" stroke="#ff0000" stroke-width="1.1"/>
<polygon points="66,161.92 67.68,163.6 66,165.28 64.32,163.6" fill="#ff0000" stroke="#ff0000" stroke-width="0.90" stroke-linejoin="miter"/>
<line x1="82" y1="163.6" x2="98" y2="163.6" stroke="#ff0000" stroke-width="1.1" stroke-dasharray="3.2 3.2" opacity="0.8"/>
<polygon points="90,161.86 91.74,163.6 90,165.34 88.26,163.6" fill="none" stroke="#ff0000" stroke-width="0.96" stroke-linejoin="miter"/>
<text x="103.3" y="166.83" font-size="9.5" fill="#000"><tspan font-style="italic">l</tspan><tspan font-style="italic" font-size="6.84" dy="2.85">x</tspan><tspan dy="-2.85"> = 1.305 mm</tspan></text>
<line x1="58" y1="177.6" x2="74" y2="177.6" stroke="#000000" stroke-width="1.1"/>
<circle cx="66" cy="177.6" r="1.44" fill="#000000" stroke="#000000" stroke-width="0.90"/>
<line x1="82" y1="177.6" x2="98" y2="177.6" stroke="#000000" stroke-width="1.1" stroke-dasharray="3.2 3.2" opacity="0.8"/>
<circle cx="90" cy="177.6" r="1.38" fill="none" stroke="#000000" stroke-width="0.96"/>
<text x="103.3" y="180.83" font-size="9.5" fill="#000"><tspan font-style="italic">l</tspan><tspan font-style="italic" font-size="6.84" dy="2.85">x</tspan><tspan dy="-2.85"> = 1.45 mm</tspan></text>
<rect x="319.5" y="9.5" width="214.5" height="187.4" fill="none" stroke="#777777" stroke-width="1.2"/>
<clipPath id="clipb"><rect x="319.5" y="9" width="214.5" height="187.9"/></clipPath>
<g clip-path="url(#clipb)">
<path d="M319.5,9.8 L320.3,9.8 L323.8,9.8 L327.2,9.8 L330.3,9.9 L333.4,9.9 L336.2,9.9 L339.0,10.0 L341.6,10.0 L344.1,10.1 L346.4,10.1 L348.7,10.2 L350.8,10.3 L352.9,10.4 L354.8,10.5 L356.7,10.6 L358.5,10.7 L360.1,10.8 L361.7,10.9 L363.3,11.1 L364.7,11.3 L366.1,11.5 L367.4,11.7 L368.7,11.9 L369.9,12.2 L371.0,12.5 L372.1,12.8 L373.1,13.1 L374.1,13.5 L375.1,14.0 L376.0,14.5 L376.8,15.0 L377.6,15.6 L378.4,16.3 L379.1,17.0 L379.8,17.9 L380.5,18.8 L381.1,19.8 L381.7,20.9 L382.3,22.1 L382.8,23.5 L383.4,25.0 L383.9,26.7 L384.3,28.6 L384.8,30.6 L385.2,32.8 L385.6,35.2 L386.0,37.9 L386.4,40.7 L386.7,43.9 L387.1,47.2 L387.4,50.8 L387.7,54.6 L388.0,58.7 L388.3,63.0 L388.5,67.5 L388.8,72.1 L389.0,76.9 L389.2,81.8 L389.5,86.7 L389.7,91.6 L389.9,96.4 L390.1,101.1 L390.2,105.6 L390.4,109.9 L390.6,114.0 L390.7,117.7 L390.9,121.1 L391.0,124.1 L391.1,126.8 L391.3,129.2 L391.4,131.2 L391.5,132.8 L391.6,134.1 L391.7,135.1 L391.8,135.9 L391.9,136.4 L392.0,136.7 L392.1,136.8 L392.1,136.8 L392.2,136.7 L392.3,136.4 L392.4,135.9 L392.5,135.1 L392.6,134.1 L392.7,132.8 L392.8,131.2 L392.9,129.2 L393.0,126.8 L393.2,124.1 L393.3,121.1 L393.5,117.7 L393.6,114.0 L393.8,109.9 L393.9,105.6 L394.1,101.1 L394.3,96.4 L394.5,91.6 L394.7,86.7 L394.9,81.8 L395.2,76.9 L395.4,72.1 L395.6,67.5 L395.9,63.0 L396.2,58.7 L396.5,54.6 L396.8,50.8 L397.1,47.2 L397.4,43.9 L397.8,40.7 L398.2,37.9 L398.5,35.2 L399.0,32.8 L399.4,30.6 L399.8,28.6 L400.3,26.7 L400.8,25.0 L401.3,23.5 L401.9,22.1 L402.5,20.9 L403.1,19.8 L403.7,18.8 L404.4,17.9 L405.1,17.0 L405.8,16.3 L406.6,15.6 L407.4,15.0 L408.2,14.5 L409.1,14.0 L410.0,13.5 L411.0,13.1 L412.1,12.8 L413.2,12.5 L414.3,12.2 L415.5,11.9 L416.7,11.7 L418.1,11.5 L419.4,11.3 L420.9,11.1 L422.4,10.9 L424.0,10.8 L425.7,10.7 L427.5,10.6 L429.3,10.5 L431.3,10.4 L433.3,10.3 L435.5,10.2 L437.7,10.1 L440.1,10.1 L442.6,10.0 L445.2,10.0 L447.9,9.9 L450.8,9.9 L453.8,9.9 L457.0,9.8 L460.3,9.8 L463.8,9.8 L467.5,9.7 L471.4,9.7 L475.4,9.7 L479.7,9.7 L484.0,9.7 L488.3,9.6 L492.5,9.6 L496.8,9.6 L501.1,9.6 L505.4,9.6 L509.7,9.6 L514.0,9.6 L518.3,9.6 L522.6,9.6 L526.9,9.6 L531.2,9.6 L534.0,9.6" fill="none" stroke="#0000ff" stroke-width="1.0" opacity="0.85"/>
<polygon points="319.5,7.11 322.2,11.91 316.8,11.91" fill="#0000ff" stroke="#0000ff" stroke-width="0.90" stroke-linejoin="miter"/>
<polygon points="330.23,7.21 332.93,12.01 327.53,12.01" fill="#0000ff" stroke="#0000ff" stroke-width="0.90" stroke-linejoin="miter"/>
<polygon points="340.95,7.37 343.65,12.17 338.25,12.17" fill="#0000ff" stroke="#0000ff" stroke-width="0.90" stroke-linejoin="miter"/>
<polygon points="351.68,7.68 354.38,12.48 348.98,12.48" fill="#0000ff" stroke="#0000ff" stroke-width="0.90" stroke-linejoin="miter"/>
<polygon points="362.4,8.37 365.1,13.17 359.7,13.17" fill="#0000ff" stroke="#0000ff" stroke-width="0.90" stroke-linejoin="miter"/>
<polygon points="373.12,10.5 375.82,15.3 370.43,15.3" fill="#0000ff" stroke="#0000ff" stroke-width="0.90" stroke-linejoin="miter"/>
<polygon points="383.85,24.02 386.55,28.82 381.15,28.82" fill="#0000ff" stroke="#0000ff" stroke-width="0.90" stroke-linejoin="miter"/>
<polygon points="394.57,87.13 397.27,91.93 391.88,91.93" fill="#0000ff" stroke="#0000ff" stroke-width="0.90" stroke-linejoin="miter"/>
<polygon points="405.3,14.13 408,18.93 402.6,18.93" fill="#0000ff" stroke="#0000ff" stroke-width="0.90" stroke-linejoin="miter"/>
<polygon points="416.02,9.17 418.72,13.97 413.32,13.97" fill="#0000ff" stroke="#0000ff" stroke-width="0.90" stroke-linejoin="miter"/>
<polygon points="426.75,7.97 429.45,12.77 424.05,12.77" fill="#0000ff" stroke="#0000ff" stroke-width="0.90" stroke-linejoin="miter"/>
<polygon points="437.48,7.51 440.18,12.31 434.78,12.31" fill="#0000ff" stroke="#0000ff" stroke-width="0.90" stroke-linejoin="miter"/>
<polygon points="448.2,7.29 450.9,12.09 445.5,12.09" fill="#0000ff" stroke="#0000ff" stroke-width="0.90" stroke-linejoin="miter"/>
<polygon points="458.93,7.16 461.62,11.96 456.23,11.96" fill="#0000ff" stroke="#0000ff" stroke-width="0.90" stroke-linejoin="miter"/>
<polygon points="469.65,7.08 472.35,11.88 466.95,11.88" fill="#0000ff" stroke="#0000ff" stroke-width="0.90" stroke-linejoin="miter"/>
<polygon points="480.38,7.03 483.07,11.83 477.68,11.83" fill="#0000ff" stroke="#0000ff" stroke-width="0.90" stroke-linejoin="miter"/>
<polygon points="491.1,7 493.8,11.8 488.4,11.8" fill="#0000ff" stroke="#0000ff" stroke-width="0.90" stroke-linejoin="miter"/>
<polygon points="501.82,6.97 504.52,11.77 499.12,11.77" fill="#0000ff" stroke="#0000ff" stroke-width="0.90" stroke-linejoin="miter"/>
<polygon points="512.55,6.95 515.25,11.75 509.85,11.75" fill="#0000ff" stroke="#0000ff" stroke-width="0.90" stroke-linejoin="miter"/>
<polygon points="523.27,6.94 525.98,11.74 520.57,11.74" fill="#0000ff" stroke="#0000ff" stroke-width="0.90" stroke-linejoin="miter"/>
<polygon points="534,6.93 536.7,11.73 531.3,11.73" fill="#0000ff" stroke="#0000ff" stroke-width="0.90" stroke-linejoin="miter"/>
<path d="M319.5,9.6 L321.7,9.6 L326.0,9.7 L330.3,9.7 L334.6,9.7 L338.9,9.7 L343.2,9.7 L347.5,9.7 L351.8,9.8 L356.0,9.8 L360.1,9.8 L363.9,9.8 L367.6,9.9 L371.1,9.9 L374.4,10.0 L377.6,10.0 L380.6,10.1 L383.5,10.1 L386.3,10.2 L388.9,10.3 L391.4,10.3 L393.7,10.4 L396.0,10.5 L398.1,10.6 L400.2,10.7 L402.1,10.9 L404.0,11.0 L405.7,11.2 L407.4,11.4 L409.0,11.6 L410.6,11.8 L412.0,12.0 L413.4,12.3 L414.7,12.6 L416.0,12.9 L417.2,13.3 L418.3,13.7 L419.4,14.2 L420.4,14.6 L421.4,15.2 L422.3,15.8 L423.2,16.5 L424.1,17.2 L424.9,18.0 L425.7,18.9 L426.4,19.9 L427.1,21.0 L427.8,22.2 L428.4,23.5 L429.0,24.9 L429.6,26.5 L430.1,28.2 L430.6,30.1 L431.1,32.1 L431.6,34.3 L432.1,36.6 L432.5,39.1 L432.9,41.8 L433.3,44.7 L433.7,47.7 L434.0,50.8 L434.4,54.2 L434.7,57.6 L435.0,61.1 L435.3,64.7 L435.5,68.4 L435.8,72.1 L436.1,75.8 L436.3,79.4 L436.5,83.0 L436.7,86.4 L436.9,89.7 L437.1,92.8 L437.3,95.8 L437.5,98.5 L437.7,101.0 L437.8,103.3 L438.0,105.4 L438.1,107.2 L438.3,108.8 L438.4,110.2 L438.5,111.4 L438.7,112.4 L438.8,113.2 L438.9,113.8 L439.0,114.3 L439.1,114.7 L439.2,114.9 L439.3,115.0 L439.4,115.1 L439.4,115.1 L439.4,115.0 L439.5,114.9 L439.6,114.7 L439.7,114.3 L439.8,113.8 L439.9,113.2 L440.1,112.4 L440.2,111.4 L440.3,110.2 L440.4,108.8 L440.6,107.2 L440.7,105.4 L440.9,103.3 L441.0,101.0 L441.2,98.5 L441.4,95.8 L441.6,92.8 L441.8,89.7 L442.0,86.4 L442.2,83.0 L442.4,79.4 L442.7,75.8 L442.9,72.1 L443.2,68.4 L443.5,64.7 L443.7,61.1 L444.1,57.6 L444.4,54.2 L444.7,50.8 L445.1,47.7 L445.4,44.7 L445.8,41.8 L446.2,39.1 L446.7,36.6 L447.1,34.3 L447.6,32.1 L448.1,30.1 L448.6,28.2 L449.2,26.5 L449.7,24.9 L450.3,23.5 L451.0,22.2 L451.6,21.0 L452.3,19.9 L453.1,18.9 L453.8,18.0 L454.6,17.2 L455.5,16.5 L456.4,15.8 L457.3,15.2 L458.3,14.6 L459.3,14.2 L460.4,13.7 L461.6,13.3 L462.8,12.9 L464.0,12.6 L465.3,12.3 L466.7,12.0 L468.2,11.8 L469.7,11.6 L471.3,11.4 L473.0,11.2 L474.8,11.0 L476.6,10.9 L478.6,10.7 L480.6,10.6 L482.7,10.5 L485.0,10.4 L487.4,10.3 L489.9,10.3 L492.5,10.2 L495.2,10.1 L498.1,10.1 L501.1,10.0 L504.3,10.0 L507.6,9.9 L511.1,9.9 L514.8,9.8 L518.6,9.8 L522.7,9.8 L526.9,9.8 L531.2,9.7 L534.0,9.7" fill="none" stroke="#0000ff" stroke-width="1.1" stroke-dasharray="4 2.6" opacity="0.8"/>
<polygon points="319.5,7.11 322.1,11.71 316.9,11.71" fill="none" stroke="#0000ff" stroke-width="1.08" stroke-linejoin="miter"/>
<polygon points="330.23,7.13 332.83,11.73 327.62,11.73" fill="none" stroke="#0000ff" stroke-width="1.08" stroke-linejoin="miter"/>
<polygon points="340.95,7.17 343.55,11.77 338.35,11.77" fill="none" stroke="#0000ff" stroke-width="1.08" stroke-linejoin="miter"/>
<polygon points="351.68,7.22 354.28,11.82 349.07,11.82" fill="none" stroke="#0000ff" stroke-width="1.08" stroke-linejoin="miter"/>
<polygon points="362.4,7.3 365,11.9 359.8,11.9" fill="none" stroke="#0000ff" stroke-width="1.08" stroke-linejoin="miter"/>
<polygon points="373.12,7.41 375.73,12.01 370.52,12.01" fill="none" stroke="#0000ff" stroke-width="1.08" stroke-linejoin="miter"/>
<polygon points="383.85,7.6 386.45,12.2 381.25,12.2" fill="none" stroke="#0000ff" stroke-width="1.08" stroke-linejoin="miter"/>
<polygon points="394.57,7.93 397.18,12.53 391.97,12.53" fill="none" stroke="#0000ff" stroke-width="1.08" stroke-linejoin="miter"/>
<polygon points="405.3,8.62 407.9,13.22 402.7,13.22" fill="none" stroke="#0000ff" stroke-width="1.08" stroke-linejoin="miter"/>
<polygon points="416.02,10.42 418.62,15.02 413.42,15.02" fill="none" stroke="#0000ff" stroke-width="1.08" stroke-linejoin="miter"/>
<polygon points="426.75,17.92 429.35,22.52 424.15,22.52" fill="none" stroke="#0000ff" stroke-width="1.08" stroke-linejoin="miter"/>
<polygon points="437.48,95.43 440.08,100.03 434.88,100.03" fill="none" stroke="#0000ff" stroke-width="1.08" stroke-linejoin="miter"/>
<polygon points="448.2,27.11 450.8,31.71 445.6,31.71" fill="none" stroke="#0000ff" stroke-width="1.08" stroke-linejoin="miter"/>
<polygon points="458.93,11.81 461.53,16.41 456.32,16.41" fill="none" stroke="#0000ff" stroke-width="1.08" stroke-linejoin="miter"/>
<polygon points="469.65,9.05 472.25,13.65 467.05,13.65" fill="none" stroke="#0000ff" stroke-width="1.08" stroke-linejoin="miter"/>
<polygon points="480.38,8.11 482.98,12.71 477.77,12.71" fill="none" stroke="#0000ff" stroke-width="1.08" stroke-linejoin="miter"/>
<polygon points="491.1,7.69 493.7,12.29 488.5,12.29" fill="none" stroke="#0000ff" stroke-width="1.08" stroke-linejoin="miter"/>
<polygon points="501.82,7.47 504.43,12.07 499.22,12.07" fill="none" stroke="#0000ff" stroke-width="1.08" stroke-linejoin="miter"/>
<polygon points="512.55,7.33 515.15,11.93 509.95,11.93" fill="none" stroke="#0000ff" stroke-width="1.08" stroke-linejoin="miter"/>
<polygon points="523.27,7.25 525.88,11.85 520.67,11.85" fill="none" stroke="#0000ff" stroke-width="1.08" stroke-linejoin="miter"/>
<polygon points="534,7.19 536.6,11.79 531.4,11.79" fill="none" stroke="#0000ff" stroke-width="1.08" stroke-linejoin="miter"/>
<path d="M319.5,9.9 L320.7,9.9 L323.8,9.9 L326.6,10.0 L329.4,10.0 L332.0,10.1 L334.5,10.1 L336.8,10.2 L339.1,10.3 L341.2,10.4 L343.3,10.4 L345.2,10.5 L347.1,10.7 L348.9,10.8 L350.5,10.9 L352.1,11.1 L353.7,11.2 L355.1,11.4 L356.5,11.6 L357.8,11.9 L359.1,12.1 L360.3,12.4 L361.4,12.7 L362.5,13.1 L363.5,13.4 L364.5,13.9 L365.5,14.3 L366.3,14.9 L367.2,15.5 L368.0,16.1 L368.8,16.8 L369.5,17.6 L370.2,18.5 L370.9,19.5 L371.5,20.6 L372.1,21.7 L372.7,23.1 L373.2,24.5 L373.8,26.1 L374.3,27.9 L374.7,29.8 L375.2,31.9 L375.6,34.2 L376.0,36.7 L376.4,39.4 L376.8,42.3 L377.1,45.5 L377.5,48.9 L377.8,52.4 L378.1,56.2 L378.4,60.2 L378.7,64.4 L378.9,68.7 L379.2,73.2 L379.4,77.7 L379.6,82.2 L379.9,86.8 L380.1,91.2 L380.3,95.6 L380.4,99.9 L380.6,103.9 L380.8,107.7 L381.0,111.2 L381.1,114.5 L381.3,117.4 L381.4,120.0 L381.5,122.3 L381.7,124.3 L381.8,126.0 L381.9,127.4 L382.0,128.5 L382.1,129.3 L382.2,130.0 L382.3,130.4 L382.4,130.6 L382.5,130.7 L382.5,130.7 L382.6,130.6 L382.7,130.4 L382.7,130.0 L382.8,129.3 L383.0,128.5 L383.1,127.4 L383.2,126.0 L383.3,124.3 L383.4,122.3 L383.6,120.0 L383.7,117.4 L383.8,114.5 L384.0,111.2 L384.2,107.7 L384.3,103.9 L384.5,99.9 L384.7,95.6 L384.9,91.2 L385.1,86.8 L385.3,82.2 L385.5,77.7 L385.8,73.2 L386.0,68.7 L386.3,64.4 L386.6,60.2 L386.9,56.2 L387.2,52.4 L387.5,48.9 L387.8,45.5 L388.2,42.3 L388.5,39.4 L388.9,36.7 L389.3,34.2 L389.8,31.9 L390.2,29.8 L390.7,27.9 L391.2,26.1 L391.7,24.5 L392.3,23.1 L392.8,21.7 L393.4,20.6 L394.1,19.5 L394.7,18.5 L395.4,17.6 L396.2,16.8 L397.0,16.1 L397.8,15.5 L398.6,14.9 L399.5,14.3 L400.4,13.9 L401.4,13.4 L402.5,13.1 L403.5,12.7 L404.7,12.4 L405.9,12.1 L407.1,11.9 L408.5,11.6 L409.8,11.4 L411.3,11.2 L412.8,11.1 L414.4,10.9 L416.1,10.8 L417.9,10.7 L419.7,10.5 L421.7,10.4 L423.7,10.4 L425.9,10.3 L428.1,10.2 L430.5,10.1 L433.0,10.1 L435.6,10.0 L438.3,10.0 L441.2,9.9 L444.2,9.9 L447.4,9.8 L450.7,9.8 L454.2,9.8 L457.9,9.8 L461.8,9.7 L465.8,9.7 L470.1,9.7 L474.4,9.7 L478.6,9.7 L482.9,9.6 L487.2,9.6 L491.5,9.6 L495.8,9.6 L500.1,9.6 L504.4,9.6 L508.7,9.6 L513.0,9.6 L517.3,9.6 L521.5,9.6 L525.8,9.6 L530.1,9.6 L534.0,9.6" fill="none" stroke="#ff0000" stroke-width="1.0" opacity="0.85"/>
<polygon points="319.5,7.07 322.3,9.87 319.5,12.67 316.7,9.87" fill="#ff0000" stroke="#ff0000" stroke-width="0.90" stroke-linejoin="miter"/>
<polygon points="330.23,7.23 333.03,10.03 330.23,12.83 327.43,10.03" fill="#ff0000" stroke="#ff0000" stroke-width="0.90" stroke-linejoin="miter"/>
<polygon points="340.95,7.54 343.75,10.34 340.95,13.14 338.15,10.34" fill="#ff0000" stroke="#ff0000" stroke-width="0.90" stroke-linejoin="miter"/>
<polygon points="351.68,8.22 354.48,11.02 351.68,13.82 348.88,11.02" fill="#ff0000" stroke="#ff0000" stroke-width="0.90" stroke-linejoin="miter"/>
<polygon points="362.4,10.22 365.2,13.02 362.4,15.82 359.6,13.02" fill="#ff0000" stroke="#ff0000" stroke-width="0.90" stroke-linejoin="miter"/>
<polygon points="373.12,21.4 375.93,24.2 373.12,27 370.32,24.2" fill="#ff0000" stroke="#ff0000" stroke-width="0.90" stroke-linejoin="miter"/>
<polygon points="383.85,111.53 386.65,114.33 383.85,117.13 381.05,114.33" fill="#ff0000" stroke="#ff0000" stroke-width="0.90" stroke-linejoin="miter"/>
<polygon points="394.57,15.94 397.38,18.74 394.57,21.54 391.77,18.74" fill="#ff0000" stroke="#ff0000" stroke-width="0.90" stroke-linejoin="miter"/>
<polygon points="405.3,9.45 408.1,12.25 405.3,15.05 402.5,12.25" fill="#ff0000" stroke="#ff0000" stroke-width="0.90" stroke-linejoin="miter"/>
<polygon points="416.02,7.99 418.82,10.79 416.02,13.59 413.22,10.79" fill="#ff0000" stroke="#ff0000" stroke-width="0.90" stroke-linejoin="miter"/>
<polygon points="426.75,7.44 429.55,10.24 426.75,13.04 423.95,10.24" fill="#ff0000" stroke="#ff0000" stroke-width="0.90" stroke-linejoin="miter"/>
<polygon points="437.48,7.18 440.28,9.98 437.48,12.78 434.68,9.98" fill="#ff0000" stroke="#ff0000" stroke-width="0.90" stroke-linejoin="miter"/>
<polygon points="448.2,7.04 451,9.84 448.2,12.64 445.4,9.84" fill="#ff0000" stroke="#ff0000" stroke-width="0.90" stroke-linejoin="miter"/>
<polygon points="458.93,6.95 461.73,9.75 458.93,12.55 456.12,9.75" fill="#ff0000" stroke="#ff0000" stroke-width="0.90" stroke-linejoin="miter"/>
<polygon points="469.65,6.89 472.45,9.69 469.65,12.49 466.85,9.69" fill="#ff0000" stroke="#ff0000" stroke-width="0.90" stroke-linejoin="miter"/>
<polygon points="480.38,6.85 483.18,9.65 480.38,12.45 477.57,9.65" fill="#ff0000" stroke="#ff0000" stroke-width="0.90" stroke-linejoin="miter"/>
<polygon points="491.1,6.82 493.9,9.62 491.1,12.42 488.3,9.62" fill="#ff0000" stroke="#ff0000" stroke-width="0.90" stroke-linejoin="miter"/>
<polygon points="501.82,6.8 504.62,9.6 501.82,12.4 499.02,9.6" fill="#ff0000" stroke="#ff0000" stroke-width="0.90" stroke-linejoin="miter"/>
<polygon points="512.55,6.79 515.35,9.59 512.55,12.39 509.75,9.59" fill="#ff0000" stroke="#ff0000" stroke-width="0.90" stroke-linejoin="miter"/>
<polygon points="523.27,6.77 526.07,9.57 523.27,12.37 520.48,9.57" fill="#ff0000" stroke="#ff0000" stroke-width="0.90" stroke-linejoin="miter"/>
<polygon points="534,6.76 536.8,9.56 534,12.36 531.2,9.56" fill="#ff0000" stroke="#ff0000" stroke-width="0.90" stroke-linejoin="miter"/>
<path d="M319.5,9.7 L323.7,9.7 L328.0,9.7 L332.3,9.7 L336.5,9.7 L340.8,9.7 L345.1,9.8 L349.1,9.8 L353.0,9.8 L356.7,9.9 L360.2,9.9 L363.5,9.9 L366.7,10.0 L369.7,10.0 L372.6,10.1 L375.3,10.2 L377.9,10.2 L380.4,10.3 L382.8,10.4 L385.0,10.5 L387.2,10.6 L389.2,10.7 L391.2,10.8 L393.0,11.0 L394.8,11.1 L396.5,11.3 L398.1,11.5 L399.6,11.7 L401.1,11.9 L402.5,12.2 L403.8,12.5 L405.0,12.8 L406.2,13.1 L407.4,13.5 L408.4,14.0 L409.5,14.4 L410.5,15.0 L411.4,15.6 L412.3,16.2 L413.1,16.9 L413.9,17.7 L414.7,18.6 L415.5,19.5 L416.2,20.6 L416.8,21.7 L417.5,23.0 L418.1,24.4 L418.6,26.0 L419.2,27.6 L419.7,29.4 L420.2,31.4 L420.7,33.6 L421.1,35.9 L421.6,38.4 L422.0,41.0 L422.4,43.9 L422.7,46.9 L423.1,50.1 L423.4,53.4 L423.7,56.9 L424.0,60.5 L424.3,64.2 L424.6,67.9 L424.9,71.7 L425.1,75.5 L425.4,79.3 L425.6,83.0 L425.8,86.6 L426.0,90.0 L426.2,93.3 L426.4,96.5 L426.6,99.4 L426.7,102.0 L426.9,104.5 L427.1,106.7 L427.2,108.7 L427.3,110.4 L427.5,111.9 L427.6,113.2 L427.7,114.2 L427.8,115.1 L427.9,115.8 L428.1,116.3 L428.2,116.7 L428.2,117.0 L428.3,117.1 L428.4,117.2 L428.4,117.2 L428.5,117.1 L428.6,117.0 L428.7,116.7 L428.8,116.3 L428.9,115.8 L429.0,115.1 L429.1,114.2 L429.2,113.2 L429.4,111.9 L429.5,110.4 L429.6,108.7 L429.8,106.7 L429.9,104.5 L430.1,102.0 L430.3,99.4 L430.5,96.5 L430.6,93.3 L430.8,90.0 L431.0,86.6 L431.3,83.0 L431.5,79.3 L431.7,75.5 L432.0,71.7 L432.2,67.9 L432.5,64.2 L432.8,60.5 L433.1,56.9 L433.4,53.4 L433.8,50.1 L434.1,46.9 L434.5,43.9 L434.9,41.0 L435.3,38.4 L435.7,35.9 L436.2,33.6 L436.6,31.4 L437.1,29.4 L437.7,27.6 L438.2,26.0 L438.8,24.4 L439.4,23.0 L440.0,21.7 L440.7,20.6 L441.4,19.5 L442.1,18.6 L442.9,17.7 L443.7,16.9 L444.6,16.2 L445.4,15.6 L446.4,15.0 L447.4,14.4 L448.4,14.0 L449.5,13.5 L450.6,13.1 L451.8,12.8 L453.1,12.5 L454.4,12.2 L455.8,11.9 L457.2,11.7 L458.8,11.5 L460.4,11.3 L462.0,11.1 L463.8,11.0 L465.7,10.8 L467.6,10.7 L469.7,10.6 L471.8,10.5 L474.1,10.4 L476.4,10.3 L478.9,10.2 L481.5,10.2 L484.3,10.1 L487.1,10.0 L490.2,10.0 L493.3,9.9 L496.7,9.9 L500.2,9.9 L503.8,9.8 L507.7,9.8 L511.8,9.8 L516.0,9.7 L520.3,9.7 L524.6,9.7 L528.9,9.7 L533.2,9.7 L534.0,9.7" fill="none" stroke="#ff0000" stroke-width="1.1" stroke-dasharray="4 2.6" opacity="0.8"/>
<polygon points="319.5,6.76 322.4,9.66 319.5,12.56 316.6,9.66" fill="none" stroke="#ff0000" stroke-width="1.08" stroke-linejoin="miter"/>
<polygon points="330.23,6.79 333.12,9.69 330.23,12.59 327.33,9.69" fill="none" stroke="#ff0000" stroke-width="1.08" stroke-linejoin="miter"/>
<polygon points="340.95,6.84 343.85,9.74 340.95,12.64 338.05,9.74" fill="none" stroke="#ff0000" stroke-width="1.08" stroke-linejoin="miter"/>
<polygon points="351.68,6.91 354.57,9.81 351.68,12.71 348.78,9.81" fill="none" stroke="#ff0000" stroke-width="1.08" stroke-linejoin="miter"/>
<polygon points="362.4,7.03 365.3,9.93 362.4,12.83 359.5,9.93" fill="none" stroke="#ff0000" stroke-width="1.08" stroke-linejoin="miter"/>
<polygon points="373.12,7.21 376.02,10.11 373.12,13.01 370.23,10.11" fill="none" stroke="#ff0000" stroke-width="1.08" stroke-linejoin="miter"/>
<polygon points="383.85,7.53 386.75,10.43 383.85,13.33 380.95,10.43" fill="none" stroke="#ff0000" stroke-width="1.08" stroke-linejoin="miter"/>
<polygon points="394.57,8.2 397.47,11.1 394.57,14 391.68,11.1" fill="none" stroke="#ff0000" stroke-width="1.08" stroke-linejoin="miter"/>
<polygon points="405.3,9.97 408.2,12.87 405.3,15.77 402.4,12.87" fill="none" stroke="#ff0000" stroke-width="1.08" stroke-linejoin="miter"/>
<polygon points="416.02,17.48 418.92,20.38 416.02,23.28 413.12,20.38" fill="none" stroke="#ff0000" stroke-width="1.08" stroke-linejoin="miter"/>
<polygon points="426.75,99.27 429.65,102.17 426.75,105.07 423.85,102.17" fill="none" stroke="#ff0000" stroke-width="1.08" stroke-linejoin="miter"/>
<polygon points="437.48,25.36 440.38,28.26 437.48,31.16 434.58,28.26" fill="none" stroke="#ff0000" stroke-width="1.08" stroke-linejoin="miter"/>
<polygon points="448.2,11.16 451.1,14.06 448.2,16.96 445.3,14.06" fill="none" stroke="#ff0000" stroke-width="1.08" stroke-linejoin="miter"/>
<polygon points="458.93,8.56 461.82,11.46 458.93,14.36 456.03,11.46" fill="none" stroke="#ff0000" stroke-width="1.08" stroke-linejoin="miter"/>
<polygon points="469.65,7.68 472.55,10.58 469.65,13.48 466.75,10.58" fill="none" stroke="#ff0000" stroke-width="1.08" stroke-linejoin="miter"/>
<polygon points="480.38,7.29 483.27,10.19 480.38,13.09 477.48,10.19" fill="none" stroke="#ff0000" stroke-width="1.08" stroke-linejoin="miter"/>
<polygon points="491.1,7.07 494,9.97 491.1,12.87 488.2,9.97" fill="none" stroke="#ff0000" stroke-width="1.08" stroke-linejoin="miter"/>
<polygon points="501.82,6.94 504.72,9.84 501.82,12.74 498.93,9.84" fill="none" stroke="#ff0000" stroke-width="1.08" stroke-linejoin="miter"/>
<polygon points="512.55,6.86 515.45,9.76 512.55,12.66 509.65,9.76" fill="none" stroke="#ff0000" stroke-width="1.08" stroke-linejoin="miter"/>
<polygon points="523.27,6.81 526.17,9.71 523.27,12.61 520.38,9.71" fill="none" stroke="#ff0000" stroke-width="1.08" stroke-linejoin="miter"/>
<polygon points="534,6.77 536.9,9.67 534,12.57 531.1,9.67" fill="none" stroke="#ff0000" stroke-width="1.08" stroke-linejoin="miter"/>
<path d="M319.5,10.0 L320.1,10.0 L322.8,10.0 L325.4,10.1 L327.9,10.2 L330.3,10.2 L332.5,10.3 L334.7,10.4 L336.7,10.5 L338.7,10.6 L340.5,10.7 L342.3,10.9 L344.0,11.0 L345.6,11.2 L347.1,11.3 L348.6,11.5 L349.9,11.7 L351.3,12.0 L352.5,12.3 L353.7,12.6 L354.8,12.9 L355.9,13.2 L357.0,13.7 L358.0,14.1 L358.9,14.6 L359.8,15.2 L360.6,15.8 L361.4,16.4 L362.2,17.2 L362.9,18.0 L363.6,18.9 L364.3,20.0 L364.9,21.1 L365.5,22.3 L366.1,23.7 L366.7,25.2 L367.2,26.8 L367.7,28.6 L368.2,30.6 L368.6,32.8 L369.0,35.1 L369.5,37.7 L369.8,40.4 L370.2,43.4 L370.6,46.6 L370.9,50.0 L371.2,53.5 L371.5,57.3 L371.8,61.3 L372.1,65.4 L372.4,69.6 L372.6,73.9 L372.8,78.2 L373.1,82.6 L373.3,87.0 L373.5,91.2 L373.7,95.3 L373.9,99.3 L374.1,103.1 L374.2,106.6 L374.4,109.9 L374.5,112.9 L374.7,115.6 L374.8,118.0 L375.0,120.0 L375.1,121.8 L375.2,123.4 L375.3,124.6 L375.4,125.6 L375.5,126.4 L375.6,127.0 L375.7,127.3 L375.8,127.5 L375.9,127.6 L375.9,127.6 L376.0,127.5 L376.1,127.3 L376.2,127.0 L376.3,126.4 L376.4,125.6 L376.5,124.6 L376.6,123.4 L376.7,121.8 L376.9,120.0 L377.0,118.0 L377.1,115.6 L377.3,112.9 L377.4,109.9 L377.6,106.6 L377.8,103.1 L377.9,99.3 L378.1,95.3 L378.3,91.2 L378.5,87.0 L378.8,82.6 L379.0,78.2 L379.2,73.9 L379.5,69.6 L379.7,65.4 L380.0,61.3 L380.3,57.3 L380.6,53.5 L380.9,50.0 L381.3,46.6 L381.6,43.4 L382.0,40.4 L382.4,37.7 L382.8,35.1 L383.2,32.8 L383.7,30.6 L384.1,28.6 L384.6,26.8 L385.2,25.2 L385.7,23.7 L386.3,22.3 L386.9,21.1 L387.5,20.0 L388.2,18.9 L388.9,18.0 L389.6,17.2 L390.4,16.4 L391.2,15.8 L392.0,15.2 L392.9,14.6 L393.9,14.1 L394.9,13.7 L395.9,13.2 L397.0,12.9 L398.1,12.6 L399.3,12.3 L400.6,12.0 L401.9,11.7 L403.3,11.5 L404.7,11.3 L406.3,11.2 L407.9,11.0 L409.5,10.9 L411.3,10.7 L413.2,10.6 L415.1,10.5 L417.2,10.4 L419.3,10.3 L421.6,10.2 L423.9,10.2 L426.4,10.1 L429.0,10.0 L431.8,10.0 L434.6,9.9 L437.7,9.9 L440.8,9.9 L444.2,9.8 L447.7,9.8 L451.3,9.8 L455.2,9.7 L459.2,9.7 L463.5,9.7 L467.8,9.7 L472.1,9.7 L476.4,9.7 L480.7,9.6 L484.9,9.6 L489.2,9.6 L493.5,9.6 L497.8,9.6 L502.1,9.6 L506.4,9.6 L510.7,9.6 L515.0,9.6 L519.3,9.6 L523.6,9.6 L527.8,9.6 L532.1,9.6 L534.0,9.6" fill="none" stroke="#000000" stroke-width="1.0" opacity="0.85"/>
<circle cx="319.5" cy="9.98" r="2.4" fill="#000000" stroke="#000000" stroke-width="0.90"/>
<circle cx="330.23" cy="10.24" r="2.4" fill="#000000" stroke="#000000" stroke-width="0.90"/>
<circle cx="340.95" cy="10.75" r="2.4" fill="#000000" stroke="#000000" stroke-width="0.90"/>
<circle cx="351.68" cy="12.07" r="2.4" fill="#000000" stroke="#000000" stroke-width="0.90"/>
<circle cx="362.4" cy="17.39" r="2.4" fill="#000000" stroke="#000000" stroke-width="0.90"/>
<circle cx="373.12" cy="83.57" r="2.4" fill="#000000" stroke="#000000" stroke-width="0.90"/>
<circle cx="383.85" cy="29.81" r="2.4" fill="#000000" stroke="#000000" stroke-width="0.90"/>
<circle cx="394.57" cy="13.78" r="2.4" fill="#000000" stroke="#000000" stroke-width="0.90"/>
<circle cx="405.3" cy="11.26" r="2.4" fill="#000000" stroke="#000000" stroke-width="0.90"/>
<circle cx="416.02" cy="10.45" r="2.4" fill="#000000" stroke="#000000" stroke-width="0.90"/>
<circle cx="426.75" cy="10.09" r="2.4" fill="#000000" stroke="#000000" stroke-width="0.90"/>
<circle cx="437.48" cy="9.91" r="2.4" fill="#000000" stroke="#000000" stroke-width="0.90"/>
<circle cx="448.2" cy="9.79" r="2.4" fill="#000000" stroke="#000000" stroke-width="0.90"/>
<circle cx="458.93" cy="9.72" r="2.4" fill="#000000" stroke="#000000" stroke-width="0.90"/>
<circle cx="469.65" cy="9.68" r="2.4" fill="#000000" stroke="#000000" stroke-width="0.90"/>
<circle cx="480.38" cy="9.64" r="2.4" fill="#000000" stroke="#000000" stroke-width="0.90"/>
<circle cx="491.1" cy="9.62" r="2.4" fill="#000000" stroke="#000000" stroke-width="0.90"/>
<circle cx="501.82" cy="9.6" r="2.4" fill="#000000" stroke="#000000" stroke-width="0.90"/>
<circle cx="512.55" cy="9.58" r="2.4" fill="#000000" stroke="#000000" stroke-width="0.90"/>
<circle cx="523.27" cy="9.57" r="2.4" fill="#000000" stroke="#000000" stroke-width="0.90"/>
<circle cx="534" cy="9.56" r="2.4" fill="#000000" stroke="#000000" stroke-width="0.90"/>
<path d="M319.5,9.7 L319.9,9.7 L324.2,9.7 L328.5,9.7 L332.8,9.7 L337.0,9.7 L341.1,9.8 L344.9,9.8 L348.6,9.8 L352.1,9.9 L355.4,9.9 L358.6,9.9 L361.6,10.0 L364.5,10.0 L367.3,10.1 L369.9,10.2 L372.3,10.2 L374.7,10.3 L377.0,10.4 L379.1,10.5 L381.2,10.6 L383.1,10.7 L385.0,10.8 L386.7,11.0 L388.4,11.1 L390.0,11.3 L391.5,11.5 L393.0,11.7 L394.4,12.0 L395.7,12.2 L397.0,12.5 L398.2,12.9 L399.3,13.2 L400.4,13.6 L401.4,14.1 L402.4,14.5 L403.3,15.1 L404.2,15.7 L405.1,16.4 L405.9,17.1 L406.7,17.9 L407.4,18.8 L408.1,19.8 L408.8,20.9 L409.4,22.1 L410.0,23.4 L410.6,24.9 L411.1,26.5 L411.6,28.2 L412.1,30.2 L412.6,32.2 L413.1,34.5 L413.5,37.0 L413.9,39.6 L414.3,42.4 L414.7,45.5 L415.0,48.7 L415.3,52.1 L415.7,55.7 L416.0,59.5 L416.3,63.4 L416.5,67.4 L416.8,71.5 L417.1,75.6 L417.3,79.7 L417.5,83.9 L417.7,87.9 L417.9,91.8 L418.1,95.6 L418.3,99.2 L418.5,102.6 L418.7,105.8 L418.8,108.7 L419.0,111.3 L419.1,113.7 L419.3,115.8 L419.4,117.6 L419.5,119.1 L419.7,120.4 L419.8,121.5 L419.9,122.4 L420.0,123.0 L420.1,123.5 L420.2,123.8 L420.3,124.0 L420.4,124.1 L420.4,124.1 L420.4,124.0 L420.5,123.8 L420.6,123.5 L420.7,123.0 L420.8,122.4 L420.9,121.5 L421.1,120.4 L421.2,119.1 L421.3,117.6 L421.4,115.8 L421.6,113.7 L421.7,111.3 L421.9,108.7 L422.0,105.8 L422.2,102.6 L422.4,99.2 L422.6,95.6 L422.8,91.8 L423.0,87.9 L423.2,83.9 L423.4,79.7 L423.7,75.6 L423.9,71.5 L424.2,67.4 L424.5,63.4 L424.7,59.5 L425.0,55.7 L425.4,52.1 L425.7,48.7 L426.1,45.5 L426.4,42.4 L426.8,39.6 L427.2,37.0 L427.7,34.5 L428.1,32.2 L428.6,30.2 L429.1,28.2 L429.6,26.5 L430.1,24.9 L430.7,23.4 L431.3,22.1 L432.0,20.9 L432.6,19.8 L433.3,18.8 L434.1,17.9 L434.8,17.1 L435.6,16.4 L436.5,15.7 L437.4,15.1 L438.3,14.5 L439.3,14.1 L440.3,13.6 L441.4,13.2 L442.6,12.9 L443.8,12.5 L445.0,12.2 L446.3,12.0 L447.7,11.7 L449.2,11.5 L450.7,11.3 L452.3,11.1 L454.0,11.0 L455.7,10.8 L457.6,10.7 L459.6,10.6 L461.6,10.5 L463.7,10.4 L466.0,10.3 L468.4,10.2 L470.9,10.2 L473.5,10.1 L476.2,10.0 L479.1,10.0 L482.1,9.9 L485.3,9.9 L488.6,9.9 L492.1,9.8 L495.8,9.8 L499.6,9.8 L503.7,9.7 L507.9,9.7 L512.2,9.7 L516.5,9.7 L520.8,9.7 L525.1,9.7 L529.4,9.6 L533.7,9.6 L534.0,9.6" fill="none" stroke="#000000" stroke-width="1.1" stroke-dasharray="4 2.6" opacity="0.8"/>
<circle cx="319.5" cy="9.67" r="2.3" fill="none" stroke="#000000" stroke-width="1.08"/>
<circle cx="330.23" cy="9.71" r="2.3" fill="none" stroke="#000000" stroke-width="1.08"/>
<circle cx="340.95" cy="9.77" r="2.3" fill="none" stroke="#000000" stroke-width="1.08"/>
<circle cx="351.68" cy="9.86" r="2.3" fill="none" stroke="#000000" stroke-width="1.08"/>
<circle cx="362.4" cy="10.01" r="2.3" fill="none" stroke="#000000" stroke-width="1.08"/>
<circle cx="373.12" cy="10.26" r="2.3" fill="none" stroke="#000000" stroke-width="1.08"/>
<circle cx="383.85" cy="10.76" r="2.3" fill="none" stroke="#000000" stroke-width="1.08"/>
<circle cx="394.57" cy="12.01" r="2.3" fill="none" stroke="#000000" stroke-width="1.08"/>
<circle cx="405.3" cy="16.55" r="2.3" fill="none" stroke="#000000" stroke-width="1.08"/>
<circle cx="416.02" cy="60.15" r="2.3" fill="none" stroke="#000000" stroke-width="1.08"/>
<circle cx="426.75" cy="40.08" r="2.3" fill="none" stroke="#000000" stroke-width="1.08"/>
<circle cx="437.48" cy="15.04" r="2.3" fill="none" stroke="#000000" stroke-width="1.08"/>
<circle cx="448.2" cy="11.66" r="2.3" fill="none" stroke="#000000" stroke-width="1.08"/>
<circle cx="458.93" cy="10.63" r="2.3" fill="none" stroke="#000000" stroke-width="1.08"/>
<circle cx="469.65" cy="10.2" r="2.3" fill="none" stroke="#000000" stroke-width="1.08"/>
<circle cx="480.38" cy="9.97" r="2.3" fill="none" stroke="#000000" stroke-width="1.08"/>
<circle cx="491.1" cy="9.84" r="2.3" fill="none" stroke="#000000" stroke-width="1.08"/>
<circle cx="501.82" cy="9.76" r="2.3" fill="none" stroke="#000000" stroke-width="1.08"/>
<circle cx="512.55" cy="9.7" r="2.3" fill="none" stroke="#000000" stroke-width="1.08"/>
<circle cx="523.27" cy="9.66" r="2.3" fill="none" stroke="#000000" stroke-width="1.08"/>
<circle cx="534" cy="9.63" r="2.3" fill="none" stroke="#000000" stroke-width="1.08"/>
<path d="M319.5,10.1 L320.9,10.2 L323.3,10.2 L325.5,10.3 L327.7,10.4 L329.7,10.5 L331.7,10.6 L333.5,10.7 L335.3,10.8 L337.0,11.0 L338.6,11.1 L340.1,11.3 L341.6,11.5 L342.9,11.7 L344.3,11.9 L345.5,12.2 L346.7,12.5 L347.9,12.8 L348.9,13.2 L350.0,13.6 L351.0,14.0 L351.9,14.5 L352.8,15.1 L353.6,15.7 L354.4,16.3 L355.2,17.1 L356.0,17.9 L356.7,18.8 L357.3,19.8 L358.0,20.9 L358.6,22.1 L359.1,23.4 L359.7,24.9 L360.2,26.5 L360.7,28.3 L361.2,30.2 L361.6,32.3 L362.1,34.6 L362.5,37.1 L362.8,39.8 L363.2,42.7 L363.6,45.8 L363.9,49.1 L364.2,52.6 L364.5,56.2 L364.8,60.1 L365.1,64.1 L365.4,68.1 L365.6,72.3 L365.9,76.5 L366.1,80.8 L366.3,85.0 L366.5,89.1 L366.7,93.1 L366.9,96.9 L367.1,100.5 L367.2,103.9 L367.4,107.0 L367.6,109.9 L367.7,112.5 L367.8,114.8 L368.0,116.8 L368.1,118.5 L368.2,119.9 L368.3,121.1 L368.4,122.1 L368.6,122.8 L368.7,123.4 L368.7,123.7 L368.8,123.9 L368.9,124.0 L368.9,124.0 L369.0,123.9 L369.1,123.7 L369.2,123.4 L369.3,122.8 L369.4,122.1 L369.5,121.1 L369.6,119.9 L369.7,118.5 L369.9,116.8 L370.0,114.8 L370.1,112.5 L370.3,109.9 L370.4,107.0 L370.6,103.9 L370.8,100.5 L371.0,96.9 L371.1,93.1 L371.3,89.1 L371.5,85.0 L371.8,80.8 L372.0,76.5 L372.2,72.3 L372.5,68.1 L372.7,64.1 L373.0,60.1 L373.3,56.2 L373.6,52.6 L373.9,49.1 L374.3,45.8 L374.6,42.7 L375.0,39.8 L375.4,37.1 L375.8,34.6 L376.2,32.3 L376.7,30.2 L377.1,28.3 L377.6,26.5 L378.2,24.9 L378.7,23.4 L379.3,22.1 L379.9,20.9 L380.5,19.8 L381.2,18.8 L381.9,17.9 L382.6,17.1 L383.4,16.3 L384.2,15.7 L385.1,15.1 L385.9,14.5 L386.9,14.0 L387.9,13.6 L388.9,13.2 L390.0,12.8 L391.1,12.5 L392.3,12.2 L393.6,11.9 L394.9,11.7 L396.3,11.5 L397.7,11.3 L399.3,11.1 L400.9,11.0 L402.5,10.8 L404.3,10.7 L406.2,10.6 L408.1,10.5 L410.2,10.4 L412.3,10.3 L414.6,10.2 L416.9,10.2 L419.4,10.1 L422.0,10.0 L424.8,10.0 L427.6,9.9 L430.7,9.9 L433.8,9.9 L437.2,9.8 L440.7,9.8 L444.3,9.8 L448.2,9.7 L452.3,9.7 L456.5,9.7 L460.8,9.7 L465.1,9.7 L469.4,9.7 L473.7,9.6 L478.0,9.6 L482.2,9.6 L486.5,9.6 L490.8,9.6 L495.1,9.6 L499.4,9.6 L503.7,9.6 L508.0,9.6 L512.3,9.6 L516.6,9.6 L520.9,9.6 L525.1,9.6 L529.4,9.6 L533.7,9.6 L534.0,9.6" fill="none" stroke="#ff00ff" stroke-width="1.0" opacity="0.85"/>
<polygon points="319.5,12.76 322.2,7.96 316.8,7.96" fill="#ff00ff" stroke="#ff00ff" stroke-width="0.90" stroke-linejoin="miter"/>
<polygon points="330.23,13.15 332.93,8.35 327.53,8.35" fill="#ff00ff" stroke="#ff00ff" stroke-width="0.90" stroke-linejoin="miter"/>
<polygon points="340.95,14.05 343.65,9.25 338.25,9.25" fill="#ff00ff" stroke="#ff00ff" stroke-width="0.90" stroke-linejoin="miter"/>
<polygon points="351.68,17.03 354.38,12.23 348.98,12.23" fill="#ff00ff" stroke="#ff00ff" stroke-width="0.90" stroke-linejoin="miter"/>
<polygon points="362.4,39.37 365.1,34.57 359.7,34.57" fill="#ff00ff" stroke="#ff00ff" stroke-width="0.90" stroke-linejoin="miter"/>
<polygon points="373.12,61.24 375.82,56.44 370.43,56.44" fill="#ff00ff" stroke="#ff00ff" stroke-width="0.90" stroke-linejoin="miter"/>
<polygon points="383.85,18.57 386.55,13.77 381.15,13.77" fill="#ff00ff" stroke="#ff00ff" stroke-width="0.90" stroke-linejoin="miter"/>
<polygon points="394.57,14.4 397.27,9.6 391.88,9.6" fill="#ff00ff" stroke="#ff00ff" stroke-width="0.90" stroke-linejoin="miter"/>
<polygon points="405.3,13.28 408,8.48 402.6,8.48" fill="#ff00ff" stroke="#ff00ff" stroke-width="0.90" stroke-linejoin="miter"/>
<polygon points="416.02,12.82 418.72,8.02 413.32,8.02" fill="#ff00ff" stroke="#ff00ff" stroke-width="0.90" stroke-linejoin="miter"/>
<polygon points="426.75,12.59 429.45,7.79 424.05,7.79" fill="#ff00ff" stroke="#ff00ff" stroke-width="0.90" stroke-linejoin="miter"/>
<polygon points="437.48,12.46 440.18,7.66 434.78,7.66" fill="#ff00ff" stroke="#ff00ff" stroke-width="0.90" stroke-linejoin="miter"/>
<polygon points="448.2,12.38 450.9,7.58 445.5,7.58" fill="#ff00ff" stroke="#ff00ff" stroke-width="0.90" stroke-linejoin="miter"/>
<polygon points="458.93,12.33 461.62,7.53 456.23,7.53" fill="#ff00ff" stroke="#ff00ff" stroke-width="0.90" stroke-linejoin="miter"/>
<polygon points="469.65,12.29 472.35,7.49 466.95,7.49" fill="#ff00ff" stroke="#ff00ff" stroke-width="0.90" stroke-linejoin="miter"/>
<polygon points="480.38,12.26 483.07,7.46 477.68,7.46" fill="#ff00ff" stroke="#ff00ff" stroke-width="0.90" stroke-linejoin="miter"/>
<polygon points="491.1,12.24 493.8,7.44 488.4,7.44" fill="#ff00ff" stroke="#ff00ff" stroke-width="0.90" stroke-linejoin="miter"/>
<polygon points="501.82,12.23 504.52,7.43 499.12,7.43" fill="#ff00ff" stroke="#ff00ff" stroke-width="0.90" stroke-linejoin="miter"/>
<polygon points="512.55,12.21 515.25,7.41 509.85,7.41" fill="#ff00ff" stroke="#ff00ff" stroke-width="0.90" stroke-linejoin="miter"/>
<polygon points="523.27,12.2 525.98,7.4 520.57,7.4" fill="#ff00ff" stroke="#ff00ff" stroke-width="0.90" stroke-linejoin="miter"/>
<polygon points="534,12.2 536.7,7.4 531.3,7.4" fill="#ff00ff" stroke="#ff00ff" stroke-width="0.90" stroke-linejoin="miter"/>
<path d="M319.5,9.7 L320.1,9.7 L324.4,9.7 L328.6,9.7 L332.7,9.7 L336.5,9.8 L340.2,9.8 L343.7,9.8 L347.0,9.9 L350.2,9.9 L353.2,9.9 L356.1,10.0 L358.8,10.0 L361.5,10.1 L363.9,10.2 L366.3,10.2 L368.6,10.3 L370.7,10.4 L372.8,10.5 L374.7,10.6 L376.6,10.7 L378.3,10.8 L380.0,11.0 L381.6,11.1 L383.1,11.3 L384.6,11.5 L386.0,11.7 L387.3,11.9 L388.6,12.2 L389.7,12.5 L390.9,12.8 L392.0,13.2 L393.0,13.6 L394.0,14.0 L394.9,14.5 L395.8,15.0 L396.7,15.7 L397.5,16.3 L398.2,17.1 L399.0,17.9 L399.7,18.8 L400.3,19.8 L401.0,20.9 L401.6,22.1 L402.2,23.5 L402.7,25.0 L403.2,26.6 L403.7,28.4 L404.2,30.4 L404.7,32.5 L405.1,34.9 L405.5,37.4 L405.9,40.2 L406.2,43.2 L406.6,46.4 L406.9,49.8 L407.3,53.4 L407.6,57.2 L407.9,61.3 L408.1,65.5 L408.4,69.8 L408.6,74.2 L408.9,78.7 L409.1,83.3 L409.3,87.8 L409.5,92.2 L409.7,96.6 L409.9,100.8 L410.1,104.7 L410.3,108.5 L410.4,111.9 L410.6,115.1 L410.7,118.0 L410.9,120.5 L411.0,122.8 L411.1,124.7 L411.3,126.3 L411.4,127.7 L411.5,128.8 L411.6,129.6 L411.7,130.2 L411.8,130.6 L411.9,130.8 L411.9,130.9 L411.9,130.9 L412.0,130.8 L412.1,130.6 L412.2,130.2 L412.3,129.6 L412.4,128.8 L412.5,127.7 L412.6,126.3 L412.8,124.7 L412.9,122.8 L413.0,120.5 L413.2,118.0 L413.3,115.1 L413.5,111.9 L413.6,108.5 L413.8,104.7 L414.0,100.8 L414.2,96.6 L414.4,92.2 L414.6,87.8 L414.8,83.3 L415.0,78.7 L415.3,74.2 L415.5,69.8 L415.8,65.5 L416.0,61.3 L416.3,57.2 L416.6,53.4 L417.0,49.8 L417.3,46.4 L417.6,43.2 L418.0,40.2 L418.4,37.4 L418.8,34.9 L419.2,32.5 L419.7,30.4 L420.2,28.4 L420.7,26.6 L421.2,25.0 L421.7,23.5 L422.3,22.1 L422.9,20.9 L423.6,19.8 L424.2,18.8 L424.9,17.9 L425.7,17.1 L426.4,16.3 L427.2,15.7 L428.1,15.0 L429.0,14.5 L429.9,14.0 L430.9,13.6 L431.9,13.2 L433.0,12.8 L434.2,12.5 L435.3,12.2 L436.6,11.9 L437.9,11.7 L439.3,11.5 L440.8,11.3 L442.3,11.1 L443.9,11.0 L445.6,10.8 L447.3,10.7 L449.2,10.6 L451.1,10.5 L453.2,10.4 L455.3,10.3 L457.6,10.2 L460.0,10.2 L462.4,10.1 L465.1,10.0 L467.8,10.0 L470.7,9.9 L473.7,9.9 L476.9,9.9 L480.2,9.8 L483.7,9.8 L487.4,9.8 L491.2,9.7 L495.3,9.7 L499.5,9.7 L503.8,9.7 L508.1,9.7 L512.4,9.6 L516.7,9.6 L521.0,9.6 L525.3,9.6 L529.6,9.6 L533.9,9.6 L534.0,9.6" fill="none" stroke="#ff00ff" stroke-width="1.1" stroke-dasharray="4 2.6" opacity="0.8"/>
<polygon points="319.5,12.21 322.1,7.61 316.9,7.61" fill="none" stroke="#ff00ff" stroke-width="1.08" stroke-linejoin="miter"/>
<polygon points="330.23,12.26 332.83,7.66 327.62,7.66" fill="none" stroke="#ff00ff" stroke-width="1.08" stroke-linejoin="miter"/>
<polygon points="340.95,12.33 343.55,7.73 338.35,7.73" fill="none" stroke="#ff00ff" stroke-width="1.08" stroke-linejoin="miter"/>
<polygon points="351.68,12.45 354.28,7.85 349.07,7.85" fill="none" stroke="#ff00ff" stroke-width="1.08" stroke-linejoin="miter"/>
<polygon points="362.4,12.64 365,8.04 359.8,8.04" fill="none" stroke="#ff00ff" stroke-width="1.08" stroke-linejoin="miter"/>
<polygon points="373.12,13.03 375.73,8.43 370.52,8.43" fill="none" stroke="#ff00ff" stroke-width="1.08" stroke-linejoin="miter"/>
<polygon points="383.85,13.92 386.45,9.32 381.25,9.32" fill="none" stroke="#ff00ff" stroke-width="1.08" stroke-linejoin="miter"/>
<polygon points="394.57,16.84 397.18,12.24 391.97,12.24" fill="none" stroke="#ff00ff" stroke-width="1.08" stroke-linejoin="miter"/>
<polygon points="405.3,38.73 407.9,34.13 402.7,34.13" fill="none" stroke="#ff00ff" stroke-width="1.08" stroke-linejoin="miter"/>
<polygon points="416.02,64.08 418.62,59.48 413.42,59.48" fill="none" stroke="#ff00ff" stroke-width="1.08" stroke-linejoin="miter"/>
<polygon points="426.75,18.57 429.35,13.97 424.15,13.97" fill="none" stroke="#ff00ff" stroke-width="1.08" stroke-linejoin="miter"/>
<polygon points="437.48,14.31 440.08,9.71 434.88,9.71" fill="none" stroke="#ff00ff" stroke-width="1.08" stroke-linejoin="miter"/>
<polygon points="448.2,13.17 450.8,8.57 445.6,8.57" fill="none" stroke="#ff00ff" stroke-width="1.08" stroke-linejoin="miter"/>
<polygon points="458.93,12.71 461.53,8.11 456.32,8.11" fill="none" stroke="#ff00ff" stroke-width="1.08" stroke-linejoin="miter"/>
<polygon points="469.65,12.48 472.25,7.88 467.05,7.88" fill="none" stroke="#ff00ff" stroke-width="1.08" stroke-linejoin="miter"/>
<polygon points="480.38,12.35 482.98,7.75 477.77,7.75" fill="none" stroke="#ff00ff" stroke-width="1.08" stroke-linejoin="miter"/>
<polygon points="491.1,12.27 493.7,7.67 488.5,7.67" fill="none" stroke="#ff00ff" stroke-width="1.08" stroke-linejoin="miter"/>
<polygon points="501.82,12.22 504.43,7.62 499.22,7.62" fill="none" stroke="#ff00ff" stroke-width="1.08" stroke-linejoin="miter"/>
<polygon points="512.55,12.18 515.15,7.58 509.95,7.58" fill="none" stroke="#ff00ff" stroke-width="1.08" stroke-linejoin="miter"/>
<polygon points="523.27,12.15 525.88,7.55 520.67,7.55" fill="none" stroke="#ff00ff" stroke-width="1.08" stroke-linejoin="miter"/>
<polygon points="534,12.13 536.6,7.53 531.4,7.53" fill="none" stroke="#ff00ff" stroke-width="1.08" stroke-linejoin="miter"/>
</g>
<text x="319.5" y="210" font-size="11" text-anchor="middle" fill="#000">8</text>
<line x1="340.95" y1="196.9" x2="340.95" y2="192.9" stroke="#666" stroke-width="1"/>
<line x1="362.4" y1="196.9" x2="362.4" y2="192.9" stroke="#666" stroke-width="1"/>
<text x="362.4" y="210" font-size="11" text-anchor="middle" fill="#000">9</text>
<line x1="383.85" y1="196.9" x2="383.85" y2="192.9" stroke="#666" stroke-width="1"/>
<line x1="405.3" y1="196.9" x2="405.3" y2="192.9" stroke="#666" stroke-width="1"/>
<text x="405.3" y="210" font-size="11" text-anchor="middle" fill="#000">10</text>
<line x1="426.75" y1="196.9" x2="426.75" y2="192.9" stroke="#666" stroke-width="1"/>
<line x1="448.2" y1="196.9" x2="448.2" y2="192.9" stroke="#666" stroke-width="1"/>
<text x="448.2" y="210" font-size="11" text-anchor="middle" fill="#000">11</text>
<line x1="469.65" y1="196.9" x2="469.65" y2="192.9" stroke="#666" stroke-width="1"/>
<line x1="491.1" y1="196.9" x2="491.1" y2="192.9" stroke="#666" stroke-width="1"/>
<text x="491.1" y="210" font-size="11" text-anchor="middle" fill="#000">12</text>
<line x1="512.55" y1="196.9" x2="512.55" y2="192.9" stroke="#666" stroke-width="1"/>
<text x="534" y="210" font-size="11" text-anchor="middle" fill="#000">13</text>
<text x="315.2" y="12.3" font-size="11" text-anchor="end" fill="#000">0.0</text>
<line x1="319.5" y1="46.98" x2="323.7" y2="46.98" stroke="#666" stroke-width="1"/>
<text x="315.2" y="49.78" font-size="11" text-anchor="end" fill="#000">-0.5</text>
<line x1="319.5" y1="84.46" x2="323.7" y2="84.46" stroke="#666" stroke-width="1"/>
<text x="315.2" y="87.26" font-size="11" text-anchor="end" fill="#000">-1.0</text>
<line x1="319.5" y1="121.94" x2="323.7" y2="121.94" stroke="#666" stroke-width="1"/>
<text x="315.2" y="124.74" font-size="11" text-anchor="end" fill="#000">-1.5</text>
<line x1="319.5" y1="159.42" x2="323.7" y2="159.42" stroke="#666" stroke-width="1"/>
<text x="315.2" y="162.22" font-size="11" text-anchor="end" fill="#000">-2.0</text>
<text x="315.2" y="199.7" font-size="11" text-anchor="end" fill="#000">-2.5</text>
<text x="430.35" y="228.4" font-size="11" text-anchor="middle" fill="#000">Frequency (GHz)</text>
<text transform="translate(294,103.2) rotate(-90)" font-size="11" text-anchor="middle" fill="#000">Reflection Magnitude (dB)</text>
<text x="430.6" y="253" font-size="16.2" text-anchor="middle" fill="#000">(b)</text>
<ellipse cx="381.5" cy="77.7" rx="20.2" ry="5.3" fill="none" stroke="#555" stroke-width="0.9"/>
<line x1="365.4" y1="83.5" x2="356.71" y2="87.18" stroke="#333" stroke-width="0.9"/><polygon points="349.8,90.1 355.69,84.78 357.72,89.57" fill="#000"/>
<text x="348" y="97.2" font-size="11" font-style="italic" text-anchor="end" fill="#000" style="stroke-width:0.05px">TE</text>
<ellipse cx="425.7" cy="100.9" rx="20" ry="5.8" fill="none" stroke="#555" stroke-width="0.9"/>
<line x1="441.5" y1="106" x2="452.13" y2="114.07" stroke="#333" stroke-width="0.9"/><polygon points="458.1,118.6 450.55,116.14 453.7,111.99" fill="#000"/>
<text x="464.5" y="126.5" font-size="11" font-style="italic" text-anchor="start" fill="#000" style="stroke-width:0.05px">TM</text>
<line x1="334.6" y1="158.4" x2="350.6" y2="158.4" stroke="#0000ff" stroke-width="1.1"/>
<polygon points="342.6,156.82 344.22,159.7 340.98,159.7" fill="#0000ff" stroke="#0000ff" stroke-width="0.90" stroke-linejoin="miter"/>
<line x1="359" y1="158.4" x2="374.6" y2="158.4" stroke="#0000ff" stroke-width="1.1" stroke-dasharray="3.2 3.2" opacity="0.8"/>
<polygon points="366.8,156.88 368.36,159.64 365.24,159.64" fill="none" stroke="#0000ff" stroke-width="0.96" stroke-linejoin="miter"/>
<text x="380" y="161.63" font-size="9.5" fill="#000"><tspan font-style="italic">l</tspan><tspan font-style="italic" font-size="6.84" dy="2.85">y</tspan><tspan dy="-2.85"> = 3.02 mm</tspan></text>
<line x1="334.6" y1="172" x2="350.6" y2="172" stroke="#ff0000" stroke-width="1.1"/>
<polygon points="342.6,170.32 344.28,172 342.6,173.68 340.92,172" fill="#ff0000" stroke="#ff0000" stroke-width="0.90" stroke-linejoin="miter"/>
<line x1="359" y1="172" x2="374.6" y2="172" stroke="#ff0000" stroke-width="1.1" stroke-dasharray="3.2 3.2" opacity="0.8"/>
<polygon points="366.8,170.26 368.54,172 366.8,173.74 365.06,172" fill="none" stroke="#ff0000" stroke-width="0.96" stroke-linejoin="miter"/>
<text x="380" y="175.23" font-size="9.5" fill="#000"><tspan font-style="italic">l</tspan><tspan font-style="italic" font-size="6.84" dy="2.85">y</tspan><tspan dy="-2.85"> = 3.12 mm</tspan></text>
<line x1="434" y1="158.4" x2="450" y2="158.4" stroke="#000000" stroke-width="1.1"/>
<circle cx="442" cy="158.4" r="1.44" fill="#000000" stroke="#000000" stroke-width="0.90"/>
<line x1="458.6" y1="158.4" x2="474" y2="158.4" stroke="#000000" stroke-width="1.1" stroke-dasharray="3.2 3.2" opacity="0.8"/>
<circle cx="466.3" cy="158.4" r="1.38" fill="none" stroke="#000000" stroke-width="0.96"/>
<text x="479.4" y="161.63" font-size="9.5" fill="#000"><tspan font-style="italic">l</tspan><tspan font-style="italic" font-size="6.84" dy="2.85">y</tspan><tspan dy="-2.85"> = 3.22 mm</tspan></text>
<line x1="434" y1="172" x2="450" y2="172" stroke="#ff00ff" stroke-width="1.1"/>
<polygon points="442,173.58 443.62,170.7 440.38,170.7" fill="#ff00ff" stroke="#ff00ff" stroke-width="0.90" stroke-linejoin="miter"/>
<line x1="458.6" y1="172" x2="474" y2="172" stroke="#ff00ff" stroke-width="1.1" stroke-dasharray="3.2 3.2" opacity="0.8"/>
<polygon points="466.3,173.52 467.86,170.76 464.74,170.76" fill="none" stroke="#ff00ff" stroke-width="0.96" stroke-linejoin="miter"/>
<text x="479.4" y="175.23" font-size="9.5" fill="#000"><tspan font-style="italic">l</tspan><tspan font-style="italic" font-size="6.84" dy="2.85">y</tspan><tspan dy="-2.85"> = 3.32 mm</tspan></text>
<rect x="43" y="261.3" width="217" height="188.4" fill="none" stroke="#777777" stroke-width="1.2"/>
<clipPath id="clipc"><rect x="43" y="260.8" width="217" height="188.9"/></clipPath>
<g clip-path="url(#clipc)">
<path d="M43.0,261.5 L46.2,261.5 L49.9,261.6 L53.4,261.6 L56.8,261.6 L60.0,261.6 L63.1,261.7 L66.0,261.7 L68.8,261.8 L71.4,261.8 L73.9,261.9 L76.3,261.9 L78.6,262.0 L80.8,262.1 L82.8,262.1 L84.8,262.2 L86.7,262.3 L88.5,262.5 L90.2,262.6 L91.8,262.7 L93.3,262.9 L94.8,263.0 L96.2,263.2 L97.5,263.4 L98.8,263.6 L100.0,263.9 L101.2,264.2 L102.3,264.5 L103.3,264.8 L104.3,265.2 L105.3,265.6 L106.2,266.1 L107.0,266.6 L107.8,267.2 L108.6,267.9 L109.4,268.6 L110.1,269.4 L110.7,270.2 L111.4,271.2 L112.0,272.3 L112.6,273.4 L113.1,274.7 L113.7,276.1 L114.2,277.7 L114.6,279.4 L115.1,281.3 L115.5,283.3 L115.9,285.5 L116.3,287.9 L116.7,290.4 L117.1,293.2 L117.4,296.1 L117.7,299.3 L118.0,302.6 L118.3,306.0 L118.6,309.6 L118.9,313.3 L119.1,317.1 L119.4,321.0 L119.6,324.9 L119.8,328.7 L120.0,332.5 L120.2,336.2 L120.4,339.8 L120.6,343.2 L120.8,346.4 L120.9,349.3 L121.1,352.0 L121.2,354.4 L121.4,356.6 L121.5,358.5 L121.6,360.1 L121.8,361.5 L121.9,362.7 L122.0,363.6 L122.1,364.3 L122.2,364.8 L122.3,365.1 L122.4,365.3 L122.5,365.4 L122.5,365.4 L122.6,365.3 L122.7,365.1 L122.7,364.8 L122.8,364.3 L123.0,363.6 L123.1,362.7 L123.2,361.5 L123.3,360.1 L123.4,358.5 L123.6,356.6 L123.7,354.4 L123.9,352.0 L124.0,349.3 L124.2,346.4 L124.3,343.2 L124.5,339.8 L124.7,336.2 L124.9,332.5 L125.1,328.7 L125.3,324.9 L125.6,321.0 L125.8,317.1 L126.1,313.3 L126.3,309.6 L126.6,306.0 L126.9,302.6 L127.2,299.3 L127.5,296.1 L127.9,293.2 L128.2,290.4 L128.6,287.9 L129.0,285.5 L129.4,283.3 L129.9,281.3 L130.3,279.4 L130.8,277.7 L131.3,276.1 L131.8,274.7 L132.4,273.4 L133.0,272.3 L133.6,271.2 L134.2,270.2 L134.9,269.4 L135.6,268.6 L136.3,267.9 L137.1,267.2 L137.9,266.6 L138.8,266.1 L139.7,265.6 L140.6,265.2 L141.6,264.8 L142.7,264.5 L143.8,264.2 L144.9,263.9 L146.1,263.6 L147.4,263.4 L148.8,263.2 L150.2,263.0 L151.6,262.9 L153.2,262.7 L154.8,262.6 L156.5,262.5 L158.3,262.3 L160.2,262.2 L162.1,262.1 L164.2,262.1 L166.4,262.0 L168.6,261.9 L171.0,261.9 L173.6,261.8 L176.2,261.8 L179.0,261.7 L181.9,261.7 L184.9,261.6 L188.2,261.6 L191.5,261.6 L195.1,261.6 L198.8,261.5 L202.7,261.5 L206.8,261.5 L211.1,261.5 L215.4,261.5 L219.8,261.4 L224.1,261.4 L228.4,261.4 L232.8,261.4 L237.1,261.4 L241.5,261.4 L245.8,261.4 L250.1,261.4 L254.5,261.4 L258.8,261.4 L260.0,261.4" fill="none" stroke="#0000ff" stroke-width="1.0" opacity="0.85"/>
<polygon points="43,258.87 45.7,263.67 40.3,263.67" fill="#0000ff" stroke="#0000ff" stroke-width="0.90" stroke-linejoin="miter"/>
<polygon points="53.85,258.94 56.55,263.74 51.15,263.74" fill="#0000ff" stroke="#0000ff" stroke-width="0.90" stroke-linejoin="miter"/>
<polygon points="64.7,259.06 67.4,263.86 62,263.86" fill="#0000ff" stroke="#0000ff" stroke-width="0.90" stroke-linejoin="miter"/>
<polygon points="75.55,259.27 78.25,264.07 72.85,264.07" fill="#0000ff" stroke="#0000ff" stroke-width="0.90" stroke-linejoin="miter"/>
<polygon points="86.4,259.68 89.1,264.48 83.7,264.48" fill="#0000ff" stroke="#0000ff" stroke-width="0.90" stroke-linejoin="miter"/>
<polygon points="97.25,260.73 99.95,265.53 94.55,265.53" fill="#0000ff" stroke="#0000ff" stroke-width="0.90" stroke-linejoin="miter"/>
<polygon points="108.1,264.79 110.8,269.59 105.4,269.59" fill="#0000ff" stroke="#0000ff" stroke-width="0.90" stroke-linejoin="miter"/>
<polygon points="118.95,311.73 121.65,316.53 116.25,316.53" fill="#0000ff" stroke="#0000ff" stroke-width="0.90" stroke-linejoin="miter"/>
<polygon points="129.8,278.87 132.5,283.67 127.1,283.67" fill="#0000ff" stroke="#0000ff" stroke-width="0.90" stroke-linejoin="miter"/>
<polygon points="140.65,262.58 143.35,267.38 137.95,267.38" fill="#0000ff" stroke="#0000ff" stroke-width="0.90" stroke-linejoin="miter"/>
<polygon points="151.5,260.23 154.2,265.03 148.8,265.03" fill="#0000ff" stroke="#0000ff" stroke-width="0.90" stroke-linejoin="miter"/>
<polygon points="162.35,259.5 165.05,264.3 159.65,264.3" fill="#0000ff" stroke="#0000ff" stroke-width="0.90" stroke-linejoin="miter"/>
<polygon points="173.2,259.18 175.9,263.98 170.5,263.98" fill="#0000ff" stroke="#0000ff" stroke-width="0.90" stroke-linejoin="miter"/>
<polygon points="184.05,259.01 186.75,263.81 181.35,263.81" fill="#0000ff" stroke="#0000ff" stroke-width="0.90" stroke-linejoin="miter"/>
<polygon points="194.9,258.92 197.6,263.72 192.2,263.72" fill="#0000ff" stroke="#0000ff" stroke-width="0.90" stroke-linejoin="miter"/>
<polygon points="205.75,258.85 208.45,263.65 203.05,263.65" fill="#0000ff" stroke="#0000ff" stroke-width="0.90" stroke-linejoin="miter"/>
<polygon points="216.6,258.81 219.3,263.61 213.9,263.61" fill="#0000ff" stroke="#0000ff" stroke-width="0.90" stroke-linejoin="miter"/>
<polygon points="227.45,258.78 230.15,263.58 224.75,263.58" fill="#0000ff" stroke="#0000ff" stroke-width="0.90" stroke-linejoin="miter"/>
<polygon points="238.3,258.76 241,263.56 235.6,263.56" fill="#0000ff" stroke="#0000ff" stroke-width="0.90" stroke-linejoin="miter"/>
<polygon points="249.15,258.74 251.85,263.54 246.45,263.54" fill="#0000ff" stroke="#0000ff" stroke-width="0.90" stroke-linejoin="miter"/>
<polygon points="260,258.73 262.7,263.53 257.3,263.53" fill="#0000ff" stroke="#0000ff" stroke-width="0.90" stroke-linejoin="miter"/>
<path d="M43.0,261.4 L44.0,261.4 L48.4,261.4 L52.7,261.4 L57.1,261.4 L61.4,261.4 L65.7,261.4 L70.1,261.5 L74.4,261.5 L78.7,261.5 L82.8,261.5 L86.7,261.5 L90.4,261.5 L94.0,261.6 L97.3,261.6 L100.6,261.6 L103.6,261.7 L106.5,261.7 L109.3,261.8 L111.9,261.8 L114.5,261.9 L116.8,261.9 L119.1,262.0 L121.3,262.0 L123.4,262.1 L125.3,262.2 L127.2,262.3 L129.0,262.4 L130.7,262.5 L132.3,262.7 L133.9,262.8 L135.3,263.0 L136.7,263.2 L138.1,263.4 L139.4,263.6 L140.6,263.8 L141.7,264.1 L142.8,264.4 L143.9,264.8 L144.9,265.1 L145.8,265.6 L146.7,266.0 L147.6,266.5 L148.4,267.1 L149.2,267.7 L149.9,268.4 L150.6,269.2 L151.3,270.1 L151.9,271.0 L152.5,272.1 L153.1,273.2 L153.7,274.5 L154.2,275.9 L154.7,277.5 L155.2,279.2 L155.6,281.1 L156.1,283.1 L156.5,285.3 L156.9,287.8 L157.3,290.4 L157.6,293.2 L158.0,296.2 L158.3,299.5 L158.6,302.9 L158.9,306.5 L159.2,310.3 L159.4,314.2 L159.7,318.3 L159.9,322.4 L160.2,326.6 L160.4,330.8 L160.6,334.9 L160.8,339.0 L161.0,342.9 L161.2,346.7 L161.3,350.2 L161.5,353.5 L161.6,356.6 L161.8,359.3 L161.9,361.8 L162.1,364.0 L162.2,365.9 L162.3,367.4 L162.4,368.8 L162.5,369.8 L162.6,370.6 L162.7,371.2 L162.8,371.6 L162.9,371.8 L163.0,371.9 L163.0,371.9 L163.1,371.8 L163.2,371.6 L163.3,371.2 L163.4,370.6 L163.5,369.8 L163.6,368.8 L163.7,367.4 L163.9,365.9 L164.0,364.0 L164.1,361.8 L164.3,359.3 L164.4,356.6 L164.6,353.5 L164.7,350.2 L164.9,346.7 L165.1,342.9 L165.3,339.0 L165.5,334.9 L165.7,330.8 L165.9,326.6 L166.1,322.4 L166.4,318.3 L166.6,314.2 L166.9,310.3 L167.2,306.5 L167.5,302.9 L167.8,299.5 L168.1,296.2 L168.4,293.2 L168.8,290.4 L169.2,287.8 L169.6,285.3 L170.0,283.1 L170.4,281.1 L170.9,279.2 L171.3,277.5 L171.8,275.9 L172.4,274.5 L172.9,273.2 L173.5,272.1 L174.1,271.0 L174.8,270.1 L175.4,269.2 L176.1,268.4 L176.9,267.7 L177.7,267.1 L178.5,266.5 L179.3,266.0 L180.2,265.6 L181.2,265.1 L182.2,264.8 L183.2,264.4 L184.3,264.1 L185.5,263.8 L186.7,263.6 L188.0,263.4 L189.3,263.2 L190.7,263.0 L192.2,262.8 L193.7,262.7 L195.3,262.5 L197.0,262.4 L198.8,262.3 L200.7,262.2 L202.7,262.1 L204.7,262.0 L206.9,262.0 L209.2,261.9 L211.6,261.9 L214.1,261.8 L216.7,261.8 L219.5,261.7 L222.4,261.7 L225.5,261.6 L228.7,261.6 L232.1,261.6 L235.6,261.5 L239.3,261.5 L243.2,261.5 L247.3,261.5 L251.6,261.5 L256.0,261.5 L260.0,261.4" fill="none" stroke="#0000ff" stroke-width="1.1" stroke-dasharray="4 2.6" opacity="0.8"/>
<polygon points="43,258.86 45.6,263.46 40.4,263.46" fill="none" stroke="#0000ff" stroke-width="1.08" stroke-linejoin="miter"/>
<polygon points="53.85,258.88 56.45,263.48 51.25,263.48" fill="none" stroke="#0000ff" stroke-width="1.08" stroke-linejoin="miter"/>
<polygon points="64.7,258.91 67.3,263.51 62.1,263.51" fill="none" stroke="#0000ff" stroke-width="1.08" stroke-linejoin="miter"/>
<polygon points="75.55,258.94 78.15,263.54 72.95,263.54" fill="none" stroke="#0000ff" stroke-width="1.08" stroke-linejoin="miter"/>
<polygon points="86.4,258.99 89,263.59 83.8,263.59" fill="none" stroke="#0000ff" stroke-width="1.08" stroke-linejoin="miter"/>
<polygon points="97.25,259.07 99.85,263.67 94.65,263.67" fill="none" stroke="#0000ff" stroke-width="1.08" stroke-linejoin="miter"/>
<polygon points="108.1,259.2 110.7,263.8 105.5,263.8" fill="none" stroke="#0000ff" stroke-width="1.08" stroke-linejoin="miter"/>
<polygon points="118.95,259.44 121.55,264.04 116.35,264.04" fill="none" stroke="#0000ff" stroke-width="1.08" stroke-linejoin="miter"/>
<polygon points="129.8,259.95 132.4,264.55 127.2,264.55" fill="none" stroke="#0000ff" stroke-width="1.08" stroke-linejoin="miter"/>
<polygon points="140.65,261.33 143.25,265.93 138.05,265.93" fill="none" stroke="#0000ff" stroke-width="1.08" stroke-linejoin="miter"/>
<polygon points="151.5,267.84 154.1,272.44 148.9,272.44" fill="none" stroke="#0000ff" stroke-width="1.08" stroke-linejoin="miter"/>
<polygon points="162.35,365.32 164.95,369.92 159.75,369.92" fill="none" stroke="#0000ff" stroke-width="1.08" stroke-linejoin="miter"/>
<polygon points="173.2,270.14 175.8,274.74 170.6,274.74" fill="none" stroke="#0000ff" stroke-width="1.08" stroke-linejoin="miter"/>
<polygon points="184.05,261.66 186.65,266.26 181.45,266.26" fill="none" stroke="#0000ff" stroke-width="1.08" stroke-linejoin="miter"/>
<polygon points="194.9,260.05 197.5,264.65 192.3,264.65" fill="none" stroke="#0000ff" stroke-width="1.08" stroke-linejoin="miter"/>
<polygon points="205.75,259.48 208.35,264.08 203.15,264.08" fill="none" stroke="#0000ff" stroke-width="1.08" stroke-linejoin="miter"/>
<polygon points="216.6,259.23 219.2,263.83 214,263.83" fill="none" stroke="#0000ff" stroke-width="1.08" stroke-linejoin="miter"/>
<polygon points="227.45,259.09 230.05,263.69 224.85,263.69" fill="none" stroke="#0000ff" stroke-width="1.08" stroke-linejoin="miter"/>
<polygon points="238.3,259 240.9,263.6 235.7,263.6" fill="none" stroke="#0000ff" stroke-width="1.08" stroke-linejoin="miter"/>
<polygon points="249.15,258.95 251.75,263.55 246.55,263.55" fill="none" stroke="#0000ff" stroke-width="1.08" stroke-linejoin="miter"/>
<polygon points="260,258.91 262.6,263.51 257.4,263.51" fill="none" stroke="#0000ff" stroke-width="1.08" stroke-linejoin="miter"/>
<path d="M43.0,261.7 L45.4,261.7 L47.9,261.8 L50.3,261.8 L52.6,261.9 L54.8,261.9 L56.8,262.0 L58.8,262.1 L60.7,262.1 L62.5,262.2 L64.2,262.3 L65.8,262.4 L67.3,262.6 L68.8,262.7 L70.2,262.8 L71.5,263.0 L72.8,263.2 L74.0,263.4 L75.2,263.6 L76.3,263.9 L77.3,264.2 L78.3,264.5 L79.3,264.8 L80.2,265.2 L81.0,265.6 L81.8,266.1 L82.6,266.6 L83.4,267.2 L84.1,267.9 L84.7,268.6 L85.4,269.4 L86.0,270.2 L86.6,271.2 L87.1,272.3 L87.7,273.5 L88.2,274.8 L88.6,276.3 L89.1,277.9 L89.5,279.6 L89.9,281.5 L90.3,283.6 L90.7,285.9 L91.1,288.4 L91.4,291.0 L91.7,293.9 L92.0,297.0 L92.3,300.2 L92.6,303.6 L92.9,307.2 L93.1,310.9 L93.4,314.8 L93.6,318.7 L93.8,322.6 L94.0,326.6 L94.2,330.5 L94.4,334.3 L94.6,338.0 L94.8,341.5 L94.9,344.8 L95.1,347.8 L95.3,350.6 L95.4,353.1 L95.5,355.3 L95.7,357.2 L95.8,358.8 L95.9,360.2 L96.0,361.3 L96.1,362.1 L96.2,362.7 L96.3,363.2 L96.4,363.4 L96.5,363.5 L96.5,363.5 L96.6,363.4 L96.7,363.2 L96.8,362.7 L96.9,362.1 L97.0,361.3 L97.1,360.2 L97.2,358.8 L97.3,357.2 L97.4,355.3 L97.6,353.1 L97.7,350.6 L97.9,347.8 L98.0,344.8 L98.2,341.5 L98.4,338.0 L98.5,334.3 L98.7,330.5 L98.9,326.6 L99.1,322.6 L99.4,318.7 L99.6,314.8 L99.8,310.9 L100.1,307.2 L100.3,303.6 L100.6,300.2 L100.9,297.0 L101.2,293.9 L101.6,291.0 L101.9,288.4 L102.3,285.9 L102.6,283.6 L103.0,281.5 L103.4,279.6 L103.9,277.9 L104.3,276.3 L104.8,274.8 L105.3,273.5 L105.8,272.3 L106.4,271.2 L107.0,270.2 L107.6,269.4 L108.2,268.6 L108.9,267.9 L109.6,267.2 L110.3,266.6 L111.1,266.1 L111.9,265.6 L112.8,265.2 L113.7,264.8 L114.7,264.5 L115.7,264.2 L116.7,263.9 L117.8,263.6 L118.9,263.4 L120.2,263.2 L121.4,263.0 L122.8,262.8 L124.2,262.7 L125.6,262.6 L127.2,262.4 L128.8,262.3 L130.5,262.2 L132.3,262.1 L134.2,262.1 L136.1,262.0 L138.2,261.9 L140.4,261.9 L142.7,261.8 L145.1,261.8 L147.6,261.7 L150.2,261.7 L153.0,261.6 L155.9,261.6 L159.0,261.6 L162.2,261.5 L165.5,261.5 L169.1,261.5 L172.8,261.5 L176.7,261.5 L180.8,261.5 L185.1,261.4 L189.4,261.4 L193.8,261.4 L198.1,261.4 L202.4,261.4 L206.8,261.4 L211.1,261.4 L215.5,261.4 L219.8,261.4 L224.1,261.4 L228.5,261.4 L232.8,261.4 L237.2,261.4 L241.5,261.4 L245.8,261.3 L250.2,261.3 L254.5,261.3 L258.9,261.3 L260.0,261.3" fill="none" stroke="#000000" stroke-width="1.0" opacity="0.85"/>
<circle cx="43" cy="261.68" r="2.4" fill="#000000" stroke="#000000" stroke-width="0.90"/>
<circle cx="53.85" cy="261.89" r="2.4" fill="#000000" stroke="#000000" stroke-width="0.90"/>
<circle cx="64.7" cy="262.36" r="2.4" fill="#000000" stroke="#000000" stroke-width="0.90"/>
<circle cx="75.55" cy="263.7" r="2.4" fill="#000000" stroke="#000000" stroke-width="0.90"/>
<circle cx="86.4" cy="270.91" r="2.4" fill="#000000" stroke="#000000" stroke-width="0.90"/>
<circle cx="97.25" cy="358.07" r="2.4" fill="#000000" stroke="#000000" stroke-width="0.90"/>
<circle cx="108.1" cy="268.71" r="2.4" fill="#000000" stroke="#000000" stroke-width="0.90"/>
<circle cx="118.95" cy="263.39" r="2.4" fill="#000000" stroke="#000000" stroke-width="0.90"/>
<circle cx="129.8" cy="262.26" r="2.4" fill="#000000" stroke="#000000" stroke-width="0.90"/>
<circle cx="140.65" cy="261.85" r="2.4" fill="#000000" stroke="#000000" stroke-width="0.90"/>
<circle cx="151.5" cy="261.66" r="2.4" fill="#000000" stroke="#000000" stroke-width="0.90"/>
<circle cx="162.35" cy="261.55" r="2.4" fill="#000000" stroke="#000000" stroke-width="0.90"/>
<circle cx="173.2" cy="261.48" r="2.4" fill="#000000" stroke="#000000" stroke-width="0.90"/>
<circle cx="184.05" cy="261.44" r="2.4" fill="#000000" stroke="#000000" stroke-width="0.90"/>
<circle cx="194.9" cy="261.41" r="2.4" fill="#000000" stroke="#000000" stroke-width="0.90"/>
<circle cx="205.75" cy="261.39" r="2.4" fill="#000000" stroke="#000000" stroke-width="0.90"/>
<circle cx="216.6" cy="261.37" r="2.4" fill="#000000" stroke="#000000" stroke-width="0.90"/>
<circle cx="227.45" cy="261.36" r="2.4" fill="#000000" stroke="#000000" stroke-width="0.90"/>
<circle cx="238.3" cy="261.35" r="2.4" fill="#000000" stroke="#000000" stroke-width="0.90"/>
<circle cx="249.15" cy="261.35" r="2.4" fill="#000000" stroke="#000000" stroke-width="0.90"/>
<circle cx="260" cy="261.34" r="2.4" fill="#000000" stroke="#000000" stroke-width="0.90"/>
<path d="M43.0,261.4 L43.7,261.4 L48.0,261.5 L52.3,261.5 L56.4,261.5 L60.3,261.5 L64.1,261.5 L67.6,261.6 L71.0,261.6 L74.2,261.6 L77.2,261.6 L80.1,261.7 L82.9,261.7 L85.6,261.8 L88.1,261.8 L90.5,261.9 L92.7,261.9 L94.9,262.0 L97.0,262.1 L99.0,262.1 L100.8,262.2 L102.6,262.3 L104.3,262.5 L106.0,262.6 L107.5,262.7 L109.0,262.9 L110.4,263.0 L111.7,263.2 L113.0,263.4 L114.2,263.7 L115.3,263.9 L116.4,264.2 L117.5,264.5 L118.5,264.9 L119.4,265.2 L120.3,265.7 L121.2,266.1 L122.0,266.7 L122.8,267.3 L123.5,267.9 L124.2,268.6 L124.9,269.4 L125.5,270.3 L126.2,271.3 L126.7,272.3 L127.3,273.5 L127.8,274.8 L128.3,276.3 L128.8,277.8 L129.3,279.6 L129.7,281.4 L130.1,283.5 L130.5,285.7 L130.9,288.1 L131.2,290.7 L131.6,293.5 L131.9,296.5 L132.2,299.6 L132.5,302.9 L132.8,306.4 L133.0,310.0 L133.3,313.7 L133.5,317.5 L133.8,321.3 L134.0,325.1 L134.2,328.9 L134.4,332.6 L134.6,336.2 L134.8,339.6 L134.9,342.8 L135.1,345.8 L135.3,348.6 L135.4,351.1 L135.5,353.3 L135.7,355.3 L135.8,357.0 L135.9,358.4 L136.1,359.6 L136.2,360.6 L136.3,361.3 L136.4,361.8 L136.5,362.2 L136.6,362.4 L136.6,362.5 L136.6,362.5 L136.7,362.4 L136.8,362.2 L136.9,361.8 L137.0,361.3 L137.1,360.6 L137.2,359.6 L137.3,358.4 L137.5,357.0 L137.6,355.3 L137.7,353.3 L137.9,351.1 L138.0,348.6 L138.2,345.8 L138.3,342.8 L138.5,339.6 L138.7,336.2 L138.9,332.6 L139.1,328.9 L139.3,325.1 L139.5,321.3 L139.7,317.5 L140.0,313.7 L140.2,310.0 L140.5,306.4 L140.8,302.9 L141.1,299.6 L141.4,296.5 L141.7,293.5 L142.1,290.7 L142.4,288.1 L142.8,285.7 L143.2,283.5 L143.6,281.4 L144.0,279.6 L144.5,277.8 L145.0,276.3 L145.5,274.8 L146.0,273.5 L146.5,272.3 L147.1,271.3 L147.7,270.3 L148.4,269.4 L149.1,268.6 L149.8,267.9 L150.5,267.3 L151.3,266.7 L152.1,266.1 L153.0,265.7 L153.9,265.2 L154.8,264.9 L155.8,264.5 L156.9,264.2 L158.0,263.9 L159.1,263.7 L160.3,263.4 L161.6,263.2 L162.9,263.0 L164.3,262.9 L165.8,262.7 L167.3,262.6 L169.0,262.5 L170.7,262.3 L172.4,262.2 L174.3,262.1 L176.3,262.1 L178.4,262.0 L180.5,261.9 L182.8,261.9 L185.2,261.8 L187.7,261.8 L190.4,261.7 L193.1,261.7 L196.1,261.6 L199.1,261.6 L202.3,261.6 L205.7,261.6 L209.2,261.5 L212.9,261.5 L216.8,261.5 L220.9,261.5 L225.2,261.5 L229.6,261.4 L233.9,261.4 L238.3,261.4 L242.6,261.4 L246.9,261.4 L251.3,261.4 L255.6,261.4 L260.0,261.4 L260.0,261.4" fill="none" stroke="#000000" stroke-width="1.1" stroke-dasharray="4 2.6" opacity="0.8"/>
<circle cx="43" cy="261.44" r="2.3" fill="none" stroke="#000000" stroke-width="1.08"/>
<circle cx="53.85" cy="261.48" r="2.3" fill="none" stroke="#000000" stroke-width="1.08"/>
<circle cx="64.7" cy="261.53" r="2.3" fill="none" stroke="#000000" stroke-width="1.08"/>
<circle cx="75.55" cy="261.62" r="2.3" fill="none" stroke="#000000" stroke-width="1.08"/>
<circle cx="86.4" cy="261.78" r="2.3" fill="none" stroke="#000000" stroke-width="1.08"/>
<circle cx="97.25" cy="262.08" r="2.3" fill="none" stroke="#000000" stroke-width="1.08"/>
<circle cx="108.1" cy="262.77" r="2.3" fill="none" stroke="#000000" stroke-width="1.08"/>
<circle cx="118.95" cy="265.04" r="2.3" fill="none" stroke="#000000" stroke-width="1.08"/>
<circle cx="129.8" cy="281.96" r="2.3" fill="none" stroke="#000000" stroke-width="1.08"/>
<circle cx="140.65" cy="304.57" r="2.3" fill="none" stroke="#000000" stroke-width="1.08"/>
<circle cx="151.5" cy="266.52" r="2.3" fill="none" stroke="#000000" stroke-width="1.08"/>
<circle cx="162.35" cy="263.11" r="2.3" fill="none" stroke="#000000" stroke-width="1.08"/>
<circle cx="173.2" cy="262.2" r="2.3" fill="none" stroke="#000000" stroke-width="1.08"/>
<circle cx="184.05" cy="261.84" r="2.3" fill="none" stroke="#000000" stroke-width="1.08"/>
<circle cx="194.9" cy="261.66" r="2.3" fill="none" stroke="#000000" stroke-width="1.08"/>
<circle cx="205.75" cy="261.55" r="2.3" fill="none" stroke="#000000" stroke-width="1.08"/>
<circle cx="216.6" cy="261.49" r="2.3" fill="none" stroke="#000000" stroke-width="1.08"/>
<circle cx="227.45" cy="261.45" r="2.3" fill="none" stroke="#000000" stroke-width="1.08"/>
<circle cx="238.3" cy="261.42" r="2.3" fill="none" stroke="#000000" stroke-width="1.08"/>
<circle cx="249.15" cy="261.4" r="2.3" fill="none" stroke="#000000" stroke-width="1.08"/>
<circle cx="260" cy="261.38" r="2.3" fill="none" stroke="#000000" stroke-width="1.08"/>
<path d="M43.0,261.5 L43.3,261.5 L47.4,261.5 L51.3,261.5 L55.0,261.5 L58.6,261.6 L62.0,261.6 L65.2,261.6 L68.2,261.7 L71.1,261.7 L73.9,261.7 L76.5,261.8 L79.1,261.8 L81.5,261.9 L83.7,261.9 L85.9,262.0 L88.0,262.1 L90.0,262.2 L91.8,262.3 L93.6,262.4 L95.3,262.5 L96.9,262.6 L98.5,262.8 L100.0,262.9 L101.4,263.1 L102.7,263.3 L104.0,263.5 L105.2,263.7 L106.3,264.0 L107.4,264.3 L108.5,264.6 L109.5,265.0 L110.4,265.3 L111.3,265.8 L112.2,266.3 L113.0,266.8 L113.8,267.4 L114.5,268.1 L115.2,268.8 L115.9,269.6 L116.5,270.5 L117.1,271.5 L117.7,272.6 L118.3,273.8 L118.8,275.2 L119.3,276.6 L119.8,278.3 L120.2,280.0 L120.7,281.9 L121.1,284.0 L121.5,286.3 L121.9,288.7 L122.2,291.4 L122.6,294.2 L122.9,297.2 L123.2,300.4 L123.5,303.7 L123.8,307.2 L124.0,310.8 L124.3,314.6 L124.5,318.4 L124.8,322.2 L125.0,326.0 L125.2,329.7 L125.4,333.4 L125.6,337.0 L125.8,340.4 L125.9,343.6 L126.1,346.5 L126.2,349.3 L126.4,351.7 L126.5,353.9 L126.7,355.9 L126.8,357.5 L126.9,358.9 L127.0,360.1 L127.2,361.0 L127.3,361.8 L127.4,362.3 L127.5,362.6 L127.5,362.8 L127.6,362.9 L127.6,362.9 L127.7,362.8 L127.8,362.6 L127.9,362.3 L128.0,361.8 L128.1,361.0 L128.2,360.1 L128.3,358.9 L128.5,357.5 L128.6,355.9 L128.7,353.9 L128.9,351.7 L129.0,349.3 L129.2,346.5 L129.3,343.6 L129.5,340.4 L129.7,337.0 L129.9,333.4 L130.1,329.7 L130.3,326.0 L130.5,322.2 L130.7,318.4 L131.0,314.6 L131.2,310.8 L131.5,307.2 L131.8,303.7 L132.1,300.4 L132.4,297.2 L132.7,294.2 L133.0,291.4 L133.4,288.7 L133.8,286.3 L134.2,284.0 L134.6,281.9 L135.0,280.0 L135.5,278.3 L135.9,276.6 L136.5,275.2 L137.0,273.8 L137.5,272.6 L138.1,271.5 L138.7,270.5 L139.4,269.6 L140.0,268.8 L140.7,268.1 L141.5,267.4 L142.3,266.8 L143.1,266.3 L144.0,265.8 L144.9,265.3 L145.8,265.0 L146.8,264.6 L147.8,264.3 L148.9,264.0 L150.1,263.7 L151.3,263.5 L152.6,263.3 L153.9,263.1 L155.3,262.9 L156.8,262.8 L158.3,262.6 L159.9,262.5 L161.6,262.4 L163.4,262.3 L165.3,262.2 L167.3,262.1 L169.4,262.0 L171.5,261.9 L173.8,261.9 L176.2,261.8 L178.7,261.8 L181.4,261.7 L184.1,261.7 L187.0,261.7 L190.1,261.6 L193.3,261.6 L196.7,261.6 L200.2,261.5 L203.9,261.5 L207.8,261.5 L211.9,261.5 L216.2,261.5 L220.6,261.4 L224.9,261.4 L229.3,261.4 L233.6,261.4 L237.9,261.4 L242.3,261.4 L246.6,261.4 L251.0,261.4 L255.3,261.4 L259.6,261.4 L260.0,261.4" fill="none" stroke="#ff0000" stroke-width="1.0" opacity="0.85"/>
<polygon points="43,258.67 45.8,261.47 43,264.27 40.2,261.47" fill="#ff0000" stroke="#ff0000" stroke-width="0.90" stroke-linejoin="miter"/>
<polygon points="53.85,258.73 56.65,261.53 53.85,264.33 51.05,261.53" fill="#ff0000" stroke="#ff0000" stroke-width="0.90" stroke-linejoin="miter"/>
<polygon points="64.7,258.81 67.5,261.61 64.7,264.41 61.9,261.61" fill="#ff0000" stroke="#ff0000" stroke-width="0.90" stroke-linejoin="miter"/>
<polygon points="75.55,258.96 78.35,261.76 75.55,264.56 72.75,261.76" fill="#ff0000" stroke="#ff0000" stroke-width="0.90" stroke-linejoin="miter"/>
<polygon points="86.4,259.23 89.2,262.03 86.4,264.83 83.6,262.03" fill="#ff0000" stroke="#ff0000" stroke-width="0.90" stroke-linejoin="miter"/>
<polygon points="97.25,259.84 100.05,262.64 97.25,265.44 94.45,262.64" fill="#ff0000" stroke="#ff0000" stroke-width="0.90" stroke-linejoin="miter"/>
<polygon points="108.1,261.68 110.9,264.48 108.1,267.28 105.3,264.48" fill="#ff0000" stroke="#ff0000" stroke-width="0.90" stroke-linejoin="miter"/>
<polygon points="118.95,272.77 121.75,275.57 118.95,278.37 116.15,275.57" fill="#ff0000" stroke="#ff0000" stroke-width="0.90" stroke-linejoin="miter"/>
<polygon points="129.8,332 132.6,334.8 129.8,337.6 127,334.8" fill="#ff0000" stroke="#ff0000" stroke-width="0.90" stroke-linejoin="miter"/>
<polygon points="140.65,265.38 143.45,268.18 140.65,270.98 137.85,268.18" fill="#ff0000" stroke="#ff0000" stroke-width="0.90" stroke-linejoin="miter"/>
<polygon points="151.5,260.65 154.3,263.45 151.5,266.25 148.7,263.45" fill="#ff0000" stroke="#ff0000" stroke-width="0.90" stroke-linejoin="miter"/>
<polygon points="162.35,259.53 165.15,262.33 162.35,265.13 159.55,262.33" fill="#ff0000" stroke="#ff0000" stroke-width="0.90" stroke-linejoin="miter"/>
<polygon points="173.2,259.1 176,261.9 173.2,264.7 170.4,261.9" fill="#ff0000" stroke="#ff0000" stroke-width="0.90" stroke-linejoin="miter"/>
<polygon points="184.05,258.89 186.85,261.69 184.05,264.49 181.25,261.69" fill="#ff0000" stroke="#ff0000" stroke-width="0.90" stroke-linejoin="miter"/>
<polygon points="194.9,258.78 197.7,261.58 194.9,264.38 192.1,261.58" fill="#ff0000" stroke="#ff0000" stroke-width="0.90" stroke-linejoin="miter"/>
<polygon points="205.75,258.7 208.55,261.5 205.75,264.3 202.95,261.5" fill="#ff0000" stroke="#ff0000" stroke-width="0.90" stroke-linejoin="miter"/>
<polygon points="216.6,258.66 219.4,261.46 216.6,264.26 213.8,261.46" fill="#ff0000" stroke="#ff0000" stroke-width="0.90" stroke-linejoin="miter"/>
<polygon points="227.45,258.63 230.25,261.43 227.45,264.23 224.65,261.43" fill="#ff0000" stroke="#ff0000" stroke-width="0.90" stroke-linejoin="miter"/>
<polygon points="238.3,258.6 241.1,261.4 238.3,264.2 235.5,261.4" fill="#ff0000" stroke="#ff0000" stroke-width="0.90" stroke-linejoin="miter"/>
<polygon points="249.15,258.58 251.95,261.38 249.15,264.18 246.35,261.38" fill="#ff0000" stroke="#ff0000" stroke-width="0.90" stroke-linejoin="miter"/>
<polygon points="260,258.57 262.8,261.37 260,264.17 257.2,261.37" fill="#ff0000" stroke="#ff0000" stroke-width="0.90" stroke-linejoin="miter"/>
<path d="M43.0,261.4 L45.4,261.4 L49.7,261.4 L54.0,261.4 L58.4,261.4 L62.7,261.4 L67.1,261.4 L71.4,261.4 L75.7,261.4 L80.1,261.4 L84.4,261.5 L88.7,261.5 L92.8,261.5 L96.7,261.5 L100.4,261.5 L104.0,261.6 L107.4,261.6 L110.6,261.6 L113.6,261.7 L116.5,261.7 L119.3,261.7 L121.9,261.8 L124.5,261.8 L126.9,261.9 L129.1,262.0 L131.3,262.0 L133.4,262.1 L135.4,262.2 L137.2,262.3 L139.0,262.4 L140.7,262.5 L142.3,262.6 L143.9,262.8 L145.4,262.9 L146.8,263.1 L148.1,263.3 L149.4,263.5 L150.6,263.8 L151.7,264.0 L152.8,264.3 L153.9,264.6 L154.9,265.0 L155.8,265.4 L156.7,265.9 L157.6,266.3 L158.4,266.9 L159.2,267.5 L159.9,268.2 L160.6,268.9 L161.3,269.8 L161.9,270.7 L162.5,271.7 L163.1,272.8 L163.7,274.0 L164.2,275.4 L164.7,276.9 L165.2,278.5 L165.6,280.3 L166.1,282.3 L166.5,284.4 L166.9,286.7 L167.3,289.2 L167.6,291.9 L168.0,294.8 L168.3,297.8 L168.6,301.1 L168.9,304.5 L169.2,308.0 L169.4,311.7 L169.7,315.5 L169.9,319.4 L170.2,323.3 L170.4,327.2 L170.6,331.1 L170.8,334.8 L171.0,338.5 L171.2,341.9 L171.3,345.2 L171.5,348.3 L171.6,351.1 L171.8,353.6 L171.9,355.9 L172.1,357.8 L172.2,359.6 L172.3,361.0 L172.4,362.2 L172.6,363.2 L172.7,363.9 L172.8,364.5 L172.9,364.8 L172.9,365.0 L173.0,365.1 L173.0,365.1 L173.1,365.0 L173.2,364.8 L173.3,364.5 L173.4,363.9 L173.5,363.2 L173.6,362.2 L173.7,361.0 L173.9,359.6 L174.0,357.8 L174.1,355.9 L174.3,353.6 L174.4,351.1 L174.6,348.3 L174.7,345.2 L174.9,341.9 L175.1,338.5 L175.3,334.8 L175.5,331.1 L175.7,327.2 L175.9,323.3 L176.1,319.4 L176.4,315.5 L176.6,311.7 L176.9,308.0 L177.2,304.5 L177.5,301.1 L177.8,297.8 L178.1,294.8 L178.4,291.9 L178.8,289.2 L179.2,286.7 L179.6,284.4 L180.0,282.3 L180.4,280.3 L180.9,278.5 L181.3,276.9 L181.9,275.4 L182.4,274.0 L182.9,272.8 L183.5,271.7 L184.1,270.7 L184.8,269.8 L185.4,268.9 L186.1,268.2 L186.9,267.5 L187.7,266.9 L188.5,266.3 L189.4,265.9 L190.3,265.4 L191.2,265.0 L192.2,264.6 L193.2,264.3 L194.3,264.0 L195.5,263.8 L196.7,263.5 L198.0,263.3 L199.3,263.1 L200.7,262.9 L202.2,262.8 L203.7,262.6 L205.3,262.5 L207.0,262.4 L208.8,262.3 L210.7,262.2 L212.7,262.1 L214.7,262.0 L216.9,262.0 L219.2,261.9 L221.6,261.8 L224.1,261.8 L226.8,261.7 L229.5,261.7 L232.4,261.7 L235.5,261.6 L238.7,261.6 L242.1,261.6 L245.6,261.5 L249.3,261.5 L253.2,261.5 L257.3,261.5 L260.0,261.5" fill="none" stroke="#ff0000" stroke-width="1.1" stroke-dasharray="4 2.6" opacity="0.8"/>
<polygon points="43,258.47 45.9,261.37 43,264.27 40.1,261.37" fill="none" stroke="#ff0000" stroke-width="1.08" stroke-linejoin="miter"/>
<polygon points="53.85,258.49 56.75,261.39 53.85,264.29 50.95,261.39" fill="none" stroke="#ff0000" stroke-width="1.08" stroke-linejoin="miter"/>
<polygon points="64.7,258.51 67.6,261.41 64.7,264.31 61.8,261.41" fill="none" stroke="#ff0000" stroke-width="1.08" stroke-linejoin="miter"/>
<polygon points="75.55,258.53 78.45,261.43 75.55,264.33 72.65,261.43" fill="none" stroke="#ff0000" stroke-width="1.08" stroke-linejoin="miter"/>
<polygon points="86.4,258.57 89.3,261.47 86.4,264.37 83.5,261.47" fill="none" stroke="#ff0000" stroke-width="1.08" stroke-linejoin="miter"/>
<polygon points="97.25,258.62 100.15,261.52 97.25,264.42 94.35,261.52" fill="none" stroke="#ff0000" stroke-width="1.08" stroke-linejoin="miter"/>
<polygon points="108.1,258.7 111,261.6 108.1,264.5 105.2,261.6" fill="none" stroke="#ff0000" stroke-width="1.08" stroke-linejoin="miter"/>
<polygon points="118.95,258.83 121.85,261.73 118.95,264.63 116.05,261.73" fill="none" stroke="#ff0000" stroke-width="1.08" stroke-linejoin="miter"/>
<polygon points="129.8,259.07 132.7,261.97 129.8,264.87 126.9,261.97" fill="none" stroke="#ff0000" stroke-width="1.08" stroke-linejoin="miter"/>
<polygon points="140.65,259.6 143.55,262.5 140.65,265.4 137.75,262.5" fill="none" stroke="#ff0000" stroke-width="1.08" stroke-linejoin="miter"/>
<polygon points="151.5,261.07 154.4,263.97 151.5,266.87 148.6,263.97" fill="none" stroke="#ff0000" stroke-width="1.08" stroke-linejoin="miter"/>
<polygon points="162.35,268.44 165.25,271.34 162.35,274.24 159.45,271.34" fill="none" stroke="#ff0000" stroke-width="1.08" stroke-linejoin="miter"/>
<polygon points="173.2,361.94 176.1,364.84 173.2,367.74 170.3,364.84" fill="none" stroke="#ff0000" stroke-width="1.08" stroke-linejoin="miter"/>
<polygon points="184.05,267.89 186.95,270.79 184.05,273.69 181.15,270.79" fill="none" stroke="#ff0000" stroke-width="1.08" stroke-linejoin="miter"/>
<polygon points="194.9,260.99 197.8,263.89 194.9,266.79 192,263.89" fill="none" stroke="#ff0000" stroke-width="1.08" stroke-linejoin="miter"/>
<polygon points="205.75,259.57 208.65,262.47 205.75,265.37 202.85,262.47" fill="none" stroke="#ff0000" stroke-width="1.08" stroke-linejoin="miter"/>
<polygon points="216.6,259.06 219.5,261.96 216.6,264.86 213.7,261.96" fill="none" stroke="#ff0000" stroke-width="1.08" stroke-linejoin="miter"/>
<polygon points="227.45,258.83 230.35,261.73 227.45,264.63 224.55,261.73" fill="none" stroke="#ff0000" stroke-width="1.08" stroke-linejoin="miter"/>
<polygon points="238.3,258.7 241.2,261.6 238.3,264.5 235.4,261.6" fill="none" stroke="#ff0000" stroke-width="1.08" stroke-linejoin="miter"/>
<polygon points="249.15,258.62 252.05,261.52 249.15,264.42 246.25,261.52" fill="none" stroke="#ff0000" stroke-width="1.08" stroke-linejoin="miter"/>
<polygon points="260,258.57 262.9,261.47 260,264.37 257.1,261.47" fill="none" stroke="#ff0000" stroke-width="1.08" stroke-linejoin="miter"/>
<path d="M43.0,261.7 L43.5,261.7 L46.3,261.7 L48.9,261.8 L51.4,261.8 L53.8,261.9 L56.1,261.9 L58.3,262.0 L60.4,262.0 L62.3,262.1 L64.2,262.2 L66.0,262.3 L67.7,262.4 L69.3,262.5 L70.9,262.7 L72.3,262.8 L73.7,263.0 L75.1,263.2 L76.3,263.4 L77.6,263.6 L78.7,263.8 L79.8,264.1 L80.8,264.4 L81.8,264.8 L82.8,265.1 L83.7,265.6 L84.6,266.0 L85.4,266.5 L86.2,267.1 L86.9,267.7 L87.6,268.5 L88.3,269.2 L88.9,270.1 L89.5,271.0 L90.1,272.1 L90.7,273.2 L91.2,274.5 L91.7,275.9 L92.2,277.5 L92.6,279.2 L93.1,281.0 L93.5,283.0 L93.9,285.2 L94.2,287.6 L94.6,290.1 L94.9,292.8 L95.3,295.7 L95.6,298.8 L95.9,302.1 L96.2,305.5 L96.4,309.0 L96.7,312.6 L96.9,316.4 L97.1,320.1 L97.4,323.9 L97.6,327.6 L97.8,331.2 L98.0,334.7 L98.1,338.1 L98.3,341.3 L98.5,344.2 L98.6,347.0 L98.8,349.4 L98.9,351.6 L99.1,353.6 L99.2,355.2 L99.3,356.7 L99.4,357.8 L99.5,358.8 L99.6,359.5 L99.7,360.0 L99.8,360.4 L99.9,360.6 L100.0,360.6 L100.0,360.6 L100.1,360.6 L100.2,360.4 L100.3,360.0 L100.4,359.5 L100.5,358.8 L100.6,357.8 L100.7,356.7 L100.8,355.2 L101.0,353.6 L101.1,351.6 L101.2,349.4 L101.4,347.0 L101.6,344.2 L101.7,341.3 L101.9,338.1 L102.1,334.7 L102.3,331.2 L102.5,327.6 L102.7,323.9 L102.9,320.1 L103.1,316.4 L103.4,312.6 L103.6,309.0 L103.9,305.5 L104.2,302.1 L104.5,298.8 L104.8,295.7 L105.1,292.8 L105.4,290.1 L105.8,287.6 L106.2,285.2 L106.6,283.0 L107.0,281.0 L107.4,279.2 L107.9,277.5 L108.3,275.9 L108.8,274.5 L109.4,273.2 L109.9,272.1 L110.5,271.0 L111.1,270.1 L111.8,269.2 L112.4,268.5 L113.1,267.7 L113.9,267.1 L114.7,266.5 L115.5,266.0 L116.3,265.6 L117.2,265.1 L118.2,264.8 L119.2,264.4 L120.2,264.1 L121.3,263.8 L122.5,263.6 L123.7,263.4 L125.0,263.2 L126.3,263.0 L127.7,262.8 L129.2,262.7 L130.7,262.5 L132.3,262.4 L134.0,262.3 L135.8,262.2 L137.7,262.1 L139.7,262.0 L141.7,262.0 L143.9,261.9 L146.2,261.9 L148.6,261.8 L151.1,261.8 L153.7,261.7 L156.5,261.7 L159.4,261.6 L162.5,261.6 L165.7,261.6 L169.1,261.5 L172.6,261.5 L176.3,261.5 L180.2,261.5 L184.3,261.5 L188.6,261.5 L193.0,261.4 L197.3,261.4 L201.6,261.4 L206.0,261.4 L210.3,261.4 L214.7,261.4 L219.0,261.4 L223.3,261.4 L227.7,261.4 L232.0,261.4 L236.4,261.4 L240.7,261.4 L245.0,261.4 L249.4,261.4 L253.7,261.4 L258.1,261.3 L260.0,261.3" fill="none" stroke="#ff00ff" stroke-width="1.0" opacity="0.85"/>
<polygon points="43,264.3 45.7,259.5 40.3,259.5" fill="#ff00ff" stroke="#ff00ff" stroke-width="0.90" stroke-linejoin="miter"/>
<polygon points="53.85,264.49 56.55,259.69 51.15,259.69" fill="#ff00ff" stroke="#ff00ff" stroke-width="0.90" stroke-linejoin="miter"/>
<polygon points="64.7,264.88 67.4,260.08 62,260.08" fill="#ff00ff" stroke="#ff00ff" stroke-width="0.90" stroke-linejoin="miter"/>
<polygon points="75.55,265.88 78.25,261.08 72.85,261.08" fill="#ff00ff" stroke="#ff00ff" stroke-width="0.90" stroke-linejoin="miter"/>
<polygon points="86.4,269.96 89.1,265.16 83.7,265.16" fill="#ff00ff" stroke="#ff00ff" stroke-width="0.90" stroke-linejoin="miter"/>
<polygon points="97.25,324.53 99.95,319.73 94.55,319.73" fill="#ff00ff" stroke="#ff00ff" stroke-width="0.90" stroke-linejoin="miter"/>
<polygon points="108.1,279.29 110.8,274.49 105.4,274.49" fill="#ff00ff" stroke="#ff00ff" stroke-width="0.90" stroke-linejoin="miter"/>
<polygon points="118.95,267.14 121.65,262.34 116.25,262.34" fill="#ff00ff" stroke="#ff00ff" stroke-width="0.90" stroke-linejoin="miter"/>
<polygon points="129.8,265.26 132.5,260.46 127.1,260.46" fill="#ff00ff" stroke="#ff00ff" stroke-width="0.90" stroke-linejoin="miter"/>
<polygon points="140.65,264.65 143.35,259.85 137.95,259.85" fill="#ff00ff" stroke="#ff00ff" stroke-width="0.90" stroke-linejoin="miter"/>
<polygon points="151.5,264.39 154.2,259.59 148.8,259.59" fill="#ff00ff" stroke="#ff00ff" stroke-width="0.90" stroke-linejoin="miter"/>
<polygon points="162.35,264.24 165.05,259.44 159.65,259.44" fill="#ff00ff" stroke="#ff00ff" stroke-width="0.90" stroke-linejoin="miter"/>
<polygon points="173.2,264.16 175.9,259.36 170.5,259.36" fill="#ff00ff" stroke="#ff00ff" stroke-width="0.90" stroke-linejoin="miter"/>
<polygon points="184.05,264.11 186.75,259.31 181.35,259.31" fill="#ff00ff" stroke="#ff00ff" stroke-width="0.90" stroke-linejoin="miter"/>
<polygon points="194.9,264.07 197.6,259.27 192.2,259.27" fill="#ff00ff" stroke="#ff00ff" stroke-width="0.90" stroke-linejoin="miter"/>
<polygon points="205.75,264.05 208.45,259.25 203.05,259.25" fill="#ff00ff" stroke="#ff00ff" stroke-width="0.90" stroke-linejoin="miter"/>
<polygon points="216.6,264.03 219.3,259.23 213.9,259.23" fill="#ff00ff" stroke="#ff00ff" stroke-width="0.90" stroke-linejoin="miter"/>
<polygon points="227.45,264.01 230.15,259.21 224.75,259.21" fill="#ff00ff" stroke="#ff00ff" stroke-width="0.90" stroke-linejoin="miter"/>
<polygon points="238.3,264 241,259.2 235.6,259.2" fill="#ff00ff" stroke="#ff00ff" stroke-width="0.90" stroke-linejoin="miter"/>
<polygon points="249.15,263.99 251.85,259.19 246.45,259.19" fill="#ff00ff" stroke="#ff00ff" stroke-width="0.90" stroke-linejoin="miter"/>
<polygon points="260,263.99 262.7,259.19 257.3,259.19" fill="#ff00ff" stroke="#ff00ff" stroke-width="0.90" stroke-linejoin="miter"/>
<path d="M43.0,261.4 L43.6,261.4 L48.0,261.4 L52.3,261.5 L56.7,261.5 L61.0,261.5 L65.1,261.5 L69.0,261.5 L72.7,261.6 L76.2,261.6 L79.6,261.6 L82.8,261.7 L85.9,261.7 L88.8,261.7 L91.5,261.8 L94.2,261.8 L96.7,261.9 L99.1,262.0 L101.4,262.0 L103.5,262.1 L105.6,262.2 L107.6,262.3 L109.5,262.4 L111.2,262.5 L112.9,262.6 L114.6,262.8 L116.1,262.9 L117.6,263.1 L119.0,263.3 L120.3,263.5 L121.6,263.7 L122.8,264.0 L124.0,264.3 L125.1,264.6 L126.1,265.0 L127.1,265.3 L128.0,265.8 L128.9,266.3 L129.8,266.8 L130.6,267.4 L131.4,268.1 L132.1,268.8 L132.9,269.6 L133.5,270.5 L134.2,271.4 L134.8,272.5 L135.4,273.7 L135.9,275.0 L136.4,276.4 L136.9,278.0 L137.4,279.7 L137.9,281.5 L138.3,283.5 L138.7,285.7 L139.1,288.0 L139.5,290.5 L139.9,293.2 L140.2,296.0 L140.5,299.0 L140.8,302.1 L141.1,305.3 L141.4,308.7 L141.7,312.1 L141.9,315.6 L142.2,319.1 L142.4,322.6 L142.6,326.0 L142.8,329.4 L143.0,332.6 L143.2,335.7 L143.4,338.6 L143.6,341.4 L143.7,343.9 L143.9,346.2 L144.0,348.2 L144.2,350.0 L144.3,351.6 L144.4,353.0 L144.6,354.1 L144.7,355.1 L144.8,355.8 L144.9,356.4 L145.0,356.8 L145.1,357.1 L145.2,357.3 L145.3,357.3 L145.3,357.3 L145.3,357.3 L145.4,357.1 L145.5,356.8 L145.6,356.4 L145.7,355.8 L145.9,355.1 L146.0,354.1 L146.1,353.0 L146.2,351.6 L146.4,350.0 L146.5,348.2 L146.6,346.2 L146.8,343.9 L147.0,341.4 L147.1,338.6 L147.3,335.7 L147.5,332.6 L147.7,329.4 L147.9,326.0 L148.1,322.6 L148.4,319.1 L148.6,315.6 L148.9,312.1 L149.1,308.7 L149.4,305.3 L149.7,302.1 L150.0,299.0 L150.3,296.0 L150.7,293.2 L151.0,290.5 L151.4,288.0 L151.8,285.7 L152.2,283.5 L152.6,281.5 L153.1,279.7 L153.6,278.0 L154.1,276.4 L154.6,275.0 L155.2,273.7 L155.7,272.5 L156.4,271.4 L157.0,270.5 L157.7,269.6 L158.4,268.8 L159.1,268.1 L159.9,267.4 L160.7,266.8 L161.6,266.3 L162.5,265.8 L163.4,265.3 L164.4,265.0 L165.5,264.6 L166.6,264.3 L167.7,264.0 L168.9,263.7 L170.2,263.5 L171.5,263.3 L172.9,263.1 L174.4,262.9 L176.0,262.8 L177.6,262.6 L179.3,262.5 L181.1,262.4 L182.9,262.3 L184.9,262.2 L187.0,262.1 L189.2,262.0 L191.4,262.0 L193.8,261.9 L196.3,261.8 L199.0,261.8 L201.8,261.7 L204.7,261.7 L207.7,261.7 L210.9,261.6 L214.3,261.6 L217.8,261.6 L221.6,261.5 L225.5,261.5 L229.6,261.5 L233.9,261.5 L238.2,261.5 L242.5,261.4 L246.9,261.4 L251.2,261.4 L255.6,261.4 L259.9,261.4 L260.0,261.4" fill="none" stroke="#ff00ff" stroke-width="1.1" stroke-dasharray="4 2.6" opacity="0.8"/>
<polygon points="43,263.96 45.6,259.36 40.4,259.36" fill="none" stroke="#ff00ff" stroke-width="1.08" stroke-linejoin="miter"/>
<polygon points="53.85,264 56.45,259.4 51.25,259.4" fill="none" stroke="#ff00ff" stroke-width="1.08" stroke-linejoin="miter"/>
<polygon points="64.7,264.04 67.3,259.44 62.1,259.44" fill="none" stroke="#ff00ff" stroke-width="1.08" stroke-linejoin="miter"/>
<polygon points="75.55,264.12 78.15,259.52 72.95,259.52" fill="none" stroke="#ff00ff" stroke-width="1.08" stroke-linejoin="miter"/>
<polygon points="86.4,264.23 89,259.63 83.8,259.63" fill="none" stroke="#ff00ff" stroke-width="1.08" stroke-linejoin="miter"/>
<polygon points="97.25,264.43 99.85,259.83 94.65,259.83" fill="none" stroke="#ff00ff" stroke-width="1.08" stroke-linejoin="miter"/>
<polygon points="108.1,264.83 110.7,260.23 105.5,260.23" fill="none" stroke="#ff00ff" stroke-width="1.08" stroke-linejoin="miter"/>
<polygon points="118.95,265.8 121.55,261.2 116.35,261.2" fill="none" stroke="#ff00ff" stroke-width="1.08" stroke-linejoin="miter"/>
<polygon points="129.8,269.33 132.4,264.73 127.2,264.73" fill="none" stroke="#ff00ff" stroke-width="1.08" stroke-linejoin="miter"/>
<polygon points="140.65,302.8 143.25,298.2 138.05,298.2" fill="none" stroke="#ff00ff" stroke-width="1.08" stroke-linejoin="miter"/>
<polygon points="151.5,289.94 154.1,285.34 148.9,285.34" fill="none" stroke="#ff00ff" stroke-width="1.08" stroke-linejoin="miter"/>
<polygon points="162.35,268.38 164.95,263.78 159.75,263.78" fill="none" stroke="#ff00ff" stroke-width="1.08" stroke-linejoin="miter"/>
<polygon points="173.2,265.59 175.8,260.99 170.6,260.99" fill="none" stroke="#ff00ff" stroke-width="1.08" stroke-linejoin="miter"/>
<polygon points="184.05,264.75 186.65,260.15 181.45,260.15" fill="none" stroke="#ff00ff" stroke-width="1.08" stroke-linejoin="miter"/>
<polygon points="194.9,264.39 197.5,259.79 192.3,259.79" fill="none" stroke="#ff00ff" stroke-width="1.08" stroke-linejoin="miter"/>
<polygon points="205.75,264.21 208.35,259.61 203.15,259.61" fill="none" stroke="#ff00ff" stroke-width="1.08" stroke-linejoin="miter"/>
<polygon points="216.6,264.1 219.2,259.5 214,259.5" fill="none" stroke="#ff00ff" stroke-width="1.08" stroke-linejoin="miter"/>
<polygon points="227.45,264.04 230.05,259.44 224.85,259.44" fill="none" stroke="#ff00ff" stroke-width="1.08" stroke-linejoin="miter"/>
<polygon points="238.3,263.99 240.9,259.39 235.7,259.39" fill="none" stroke="#ff00ff" stroke-width="1.08" stroke-linejoin="miter"/>
<polygon points="249.15,263.96 251.75,259.36 246.55,259.36" fill="none" stroke="#ff00ff" stroke-width="1.08" stroke-linejoin="miter"/>
<polygon points="260,263.94 262.6,259.34 257.4,259.34" fill="none" stroke="#ff00ff" stroke-width="1.08" stroke-linejoin="miter"/>
</g>
<text x="43" y="463.1" font-size="11" text-anchor="middle" fill="#000">8</text>
<line x1="64.7" y1="449.7" x2="64.7" y2="445.7" stroke="#666" stroke-width="1"/>
<line x1="86.4" y1="449.7" x2="86.4" y2="445.7" stroke="#666" stroke-width="1"/>
<text x="86.4" y="463.1" font-size="11" text-anchor="middle" fill="#000">9</text>
<line x1="108.1" y1="449.7" x2="108.1" y2="445.7" stroke="#666" stroke-width="1"/>
<line x1="129.8" y1="449.7" x2="129.8" y2="445.7" stroke="#666" stroke-width="1"/>
<text x="129.8" y="463.1" font-size="11" text-anchor="middle" fill="#000">10</text>
<line x1="151.5" y1="449.7" x2="151.5" y2="445.7" stroke="#666" stroke-width="1"/>
<line x1="173.2" y1="449.7" x2="173.2" y2="445.7" stroke="#666" stroke-width="1"/>
<text x="173.2" y="463.1" font-size="11" text-anchor="middle" fill="#000">11</text>
<line x1="194.9" y1="449.7" x2="194.9" y2="445.7" stroke="#666" stroke-width="1"/>
<line x1="216.6" y1="449.7" x2="216.6" y2="445.7" stroke="#666" stroke-width="1"/>
<text x="216.6" y="463.1" font-size="11" text-anchor="middle" fill="#000">12</text>
<line x1="238.3" y1="449.7" x2="238.3" y2="445.7" stroke="#666" stroke-width="1"/>
<text x="260" y="463.1" font-size="11" text-anchor="middle" fill="#000">13</text>
<text x="38.2" y="264.1" font-size="11" text-anchor="end" fill="#000">0.0</text>
<line x1="43" y1="292.7" x2="47.2" y2="292.7" stroke="#666" stroke-width="1"/>
<text x="38.2" y="295.5" font-size="11" text-anchor="end" fill="#000">-0.5</text>
<line x1="43" y1="324.1" x2="47.2" y2="324.1" stroke="#666" stroke-width="1"/>
<text x="38.2" y="326.9" font-size="11" text-anchor="end" fill="#000">-1.0</text>
<line x1="43" y1="355.5" x2="47.2" y2="355.5" stroke="#666" stroke-width="1"/>
<text x="38.2" y="358.3" font-size="11" text-anchor="end" fill="#000">-1.5</text>
<line x1="43" y1="386.9" x2="47.2" y2="386.9" stroke="#666" stroke-width="1"/>
<text x="38.2" y="389.7" font-size="11" text-anchor="end" fill="#000">-2.0</text>
<line x1="43" y1="418.3" x2="47.2" y2="418.3" stroke="#666" stroke-width="1"/>
<text x="38.2" y="421.1" font-size="11" text-anchor="end" fill="#000">-2.5</text>
<text x="38.2" y="452.5" font-size="11" text-anchor="end" fill="#000">-3.0</text>
<text x="155.5" y="476.4" font-size="11" text-anchor="middle" fill="#000">Frequency (GHz)</text>
<text transform="translate(15.6,355.5) rotate(-90)" font-size="11" text-anchor="middle" fill="#000">Reflection Magnitude (dB)</text>
<text x="149.1" y="497" font-size="16.2" text-anchor="middle" fill="#000">(c)</text>
<ellipse cx="108.9" cy="341.9" rx="22.7" ry="6.5" fill="none" stroke="#555" stroke-width="0.9"/>
<line x1="86.9" y1="345.5" x2="79.3" y2="348.75" stroke="#333" stroke-width="0.9"/><polygon points="72.4,351.7 78.27,346.36 80.32,351.14" fill="#000"/>
<text x="70.5" y="363.2" font-size="11" font-style="italic" text-anchor="end" fill="#000" style="stroke-width:0.05px">TE</text>
<ellipse cx="157.3" cy="360.7" rx="28.2" ry="5.8" fill="none" stroke="#555" stroke-width="0.9"/>
<line x1="181.7" y1="356.4" x2="190.88" y2="352.21" stroke="#333" stroke-width="0.9"/><polygon points="197.7,349.1 191.96,354.58 189.8,349.85" fill="#000"/>
<text x="200" y="350.8" font-size="11" font-style="italic" text-anchor="start" fill="#000" style="stroke-width:0.05px">TM</text>
<line x1="59.9" y1="387.4" x2="77.1" y2="387.4" stroke="#0000ff" stroke-width="1.1"/>
<polygon points="68.5,385.82 70.12,388.7 66.88,388.7" fill="#0000ff" stroke="#0000ff" stroke-width="0.90" stroke-linejoin="miter"/>
<line x1="87.4" y1="387.4" x2="104.9" y2="387.4" stroke="#0000ff" stroke-width="1.1" stroke-dasharray="3.2 3.2" opacity="0.8"/>
<polygon points="96,385.88 97.56,388.64 94.44,388.64" fill="none" stroke="#0000ff" stroke-width="0.96" stroke-linejoin="miter"/>
<text x="111.3" y="391.14" font-size="11" fill="#000"><tspan font-style="italic">l</tspan><tspan font-style="italic" font-size="7.92" dy="3.3">c</tspan><tspan dy="-3.3"> = 0.7 mm, </tspan><tspan font-style="italic">w</tspan><tspan> = 0.6 mm</tspan></text>
<line x1="59.9" y1="402.9" x2="77.1" y2="402.9" stroke="#000000" stroke-width="1.1"/>
<circle cx="68.5" cy="402.9" r="1.44" fill="#000000" stroke="#000000" stroke-width="0.90"/>
<line x1="87.4" y1="402.9" x2="104.9" y2="402.9" stroke="#000000" stroke-width="1.1" stroke-dasharray="3.2 3.2" opacity="0.8"/>
<circle cx="96" cy="402.9" r="1.38" fill="none" stroke="#000000" stroke-width="0.96"/>
<text x="111.3" y="406.64" font-size="11" fill="#000"><tspan font-style="italic">l</tspan><tspan font-style="italic" font-size="7.92" dy="3.3">c</tspan><tspan dy="-3.3"> = 0.7 mm, </tspan><tspan font-style="italic">w</tspan><tspan> = 0.9 mm</tspan></text>
<line x1="59.9" y1="419.3" x2="77.1" y2="419.3" stroke="#ff0000" stroke-width="1.1"/>
<polygon points="68.5,417.62 70.18,419.3 68.5,420.98 66.82,419.3" fill="#ff0000" stroke="#ff0000" stroke-width="0.90" stroke-linejoin="miter"/>
<line x1="87.4" y1="419.3" x2="104.9" y2="419.3" stroke="#ff0000" stroke-width="1.1" stroke-dasharray="3.2 3.2" opacity="0.8"/>
<polygon points="96,417.56 97.74,419.3 96,421.04 94.26,419.3" fill="none" stroke="#ff0000" stroke-width="0.96" stroke-linejoin="miter"/>
<text x="111.3" y="423.04" font-size="11" fill="#000"><tspan font-style="italic">l</tspan><tspan font-style="italic" font-size="7.92" dy="3.3">c</tspan><tspan dy="-3.3"> = 0.8 mm, </tspan><tspan font-style="italic">w</tspan><tspan> = 0.6 mm</tspan></text>
<line x1="59.9" y1="434.8" x2="77.1" y2="434.8" stroke="#ff00ff" stroke-width="1.1"/>
<polygon points="68.5,436.38 70.12,433.5 66.88,433.5" fill="#ff00ff" stroke="#ff00ff" stroke-width="0.90" stroke-linejoin="miter"/>
<line x1="87.4" y1="434.8" x2="104.9" y2="434.8" stroke="#ff00ff" stroke-width="1.1" stroke-dasharray="3.2 3.2" opacity="0.8"/>
<polygon points="96,436.32 97.56,433.56 94.44,433.56" fill="none" stroke="#ff00ff" stroke-width="0.96" stroke-linejoin="miter"/>
<text x="111.3" y="438.54" font-size="11" fill="#000"><tspan font-style="italic">l</tspan><tspan font-style="italic" font-size="7.92" dy="3.3">c</tspan><tspan dy="-3.3"> = 0.8 mm, </tspan><tspan font-style="italic">w</tspan><tspan> = 0.9 mm</tspan></text>
<rect x="321.7" y="263.4" width="218.7" height="188" fill="none" stroke="#777777" stroke-width="1.2"/>
<clipPath id="clipd"><rect x="321.7" y="262.9" width="218.7" height="188.5"/></clipPath>
<g clip-path="url(#clipd)">
<path d="M321.7,264.8 L322.6,264.9 L323.8,265.1 L325.1,265.2 L326.2,265.4 L327.3,265.7 L328.4,265.9 L329.4,266.2 L330.3,266.5 L331.2,266.9 L332.1,267.2 L332.9,267.7 L333.7,268.1 L334.5,268.7 L335.2,269.3 L335.9,269.9 L336.5,270.7 L337.1,271.5 L337.7,272.4 L338.3,273.5 L338.8,274.6 L339.3,275.9 L339.8,277.4 L340.3,279.0 L340.7,280.7 L341.1,282.7 L341.5,285.0 L341.9,287.4 L342.2,290.1 L342.6,293.2 L342.9,296.5 L343.2,300.2 L343.5,304.2 L343.8,308.6 L344.1,313.4 L344.3,318.5 L344.6,324.1 L344.8,330.0 L345.0,336.3 L345.2,342.8 L345.4,349.6 L345.6,356.6 L345.8,363.6 L346.0,370.6 L346.1,377.5 L346.3,384.2 L346.5,390.5 L346.6,396.5 L346.7,401.9 L346.9,406.7 L347.0,410.9 L347.1,414.5 L347.2,417.4 L347.3,419.7 L347.4,421.5 L347.5,422.6 L347.6,423.3 L347.7,423.5 L347.7,423.5 L347.8,423.3 L347.9,422.6 L348.0,421.5 L348.1,419.7 L348.2,417.4 L348.3,414.5 L348.4,410.9 L348.5,406.7 L348.7,401.9 L348.8,396.5 L348.9,390.5 L349.1,384.2 L349.2,377.5 L349.4,370.6 L349.6,363.6 L349.8,356.6 L350.0,349.6 L350.2,342.8 L350.4,336.3 L350.6,330.0 L350.8,324.1 L351.1,318.5 L351.3,313.4 L351.6,308.6 L351.9,304.2 L352.2,300.2 L352.5,296.5 L352.8,293.2 L353.1,290.1 L353.5,287.4 L353.9,285.0 L354.3,282.7 L354.7,280.7 L355.1,279.0 L355.6,277.4 L356.1,275.9 L356.6,274.6 L357.1,273.5 L357.7,272.4 L358.3,271.5 L358.9,270.7 L359.5,269.9 L360.2,269.3 L360.9,268.7 L361.7,268.1 L362.5,267.7 L363.3,267.2 L364.1,266.9 L365.1,266.5 L366.0,266.2 L367.0,265.9 L368.1,265.7 L369.2,265.4 L370.3,265.2 L371.6,265.1 L372.8,264.9 L374.2,264.7 L375.6,264.6 L377.1,264.5 L378.6,264.4 L380.3,264.3 L382.0,264.2 L383.8,264.1 L385.7,264.1 L387.7,264.0 L389.7,263.9 L391.9,263.9 L394.2,263.8 L396.6,263.8 L399.2,263.8 L401.8,263.7 L404.6,263.7 L407.6,263.7 L410.7,263.6 L413.9,263.6 L417.3,263.6 L420.8,263.6 L424.6,263.6 L428.5,263.5 L432.7,263.5 L437.0,263.5 L441.4,263.5 L445.7,263.5 L450.1,263.5 L454.5,263.5 L458.9,263.5 L463.2,263.5 L467.6,263.5 L472.0,263.5 L476.4,263.5 L480.7,263.5 L485.1,263.5 L489.5,263.4 L493.9,263.4 L498.2,263.4 L502.6,263.4 L507.0,263.4 L511.4,263.4 L515.7,263.4 L520.1,263.4 L524.5,263.4 L528.8,263.4 L533.2,263.4 L537.6,263.4 L540.4,263.4" fill="none" stroke="#000000" stroke-width="1.0" opacity="0.85"/>
<polygon points="321.7,262.16 324.4,266.96 319,266.96" fill="#000000" stroke="#000000" stroke-width="0.90" stroke-linejoin="miter"/>
<polygon points="332.63,264.86 335.33,269.66 329.94,269.66" fill="#000000" stroke="#000000" stroke-width="0.90" stroke-linejoin="miter"/>
<polygon points="343.57,302.32 346.27,307.12 340.87,307.12" fill="#000000" stroke="#000000" stroke-width="0.90" stroke-linejoin="miter"/>
<polygon points="354.5,278.99 357.2,283.79 351.81,283.79" fill="#000000" stroke="#000000" stroke-width="0.90" stroke-linejoin="miter"/>
<polygon points="365.44,263.73 368.14,268.53 362.74,268.53" fill="#000000" stroke="#000000" stroke-width="0.90" stroke-linejoin="miter"/>
<polygon points="376.38,261.91 379.07,266.71 373.68,266.71" fill="#000000" stroke="#000000" stroke-width="0.90" stroke-linejoin="miter"/>
<polygon points="387.31,261.37 390.01,266.17 384.61,266.17" fill="#000000" stroke="#000000" stroke-width="0.90" stroke-linejoin="miter"/>
<polygon points="398.25,261.13 400.94,265.93 395.55,265.93" fill="#000000" stroke="#000000" stroke-width="0.90" stroke-linejoin="miter"/>
<polygon points="409.18,261.01 411.88,265.81 406.48,265.81" fill="#000000" stroke="#000000" stroke-width="0.90" stroke-linejoin="miter"/>
<polygon points="420.12,260.94 422.81,265.74 417.42,265.74" fill="#000000" stroke="#000000" stroke-width="0.90" stroke-linejoin="miter"/>
<polygon points="431.05,260.9 433.75,265.7 428.35,265.7" fill="#000000" stroke="#000000" stroke-width="0.90" stroke-linejoin="miter"/>
<polygon points="441.99,260.87 444.69,265.67 439.29,265.67" fill="#000000" stroke="#000000" stroke-width="0.90" stroke-linejoin="miter"/>
<polygon points="452.92,260.85 455.62,265.65 450.22,265.65" fill="#000000" stroke="#000000" stroke-width="0.90" stroke-linejoin="miter"/>
<polygon points="463.86,260.83 466.56,265.63 461.16,265.63" fill="#000000" stroke="#000000" stroke-width="0.90" stroke-linejoin="miter"/>
<polygon points="474.79,260.82 477.49,265.62 472.09,265.62" fill="#000000" stroke="#000000" stroke-width="0.90" stroke-linejoin="miter"/>
<polygon points="485.72,260.81 488.42,265.61 483.02,265.61" fill="#000000" stroke="#000000" stroke-width="0.90" stroke-linejoin="miter"/>
<polygon points="496.66,260.8 499.36,265.6 493.96,265.6" fill="#000000" stroke="#000000" stroke-width="0.90" stroke-linejoin="miter"/>
<polygon points="507.59,260.8 510.29,265.6 504.89,265.6" fill="#000000" stroke="#000000" stroke-width="0.90" stroke-linejoin="miter"/>
<polygon points="518.53,260.79 521.23,265.59 515.83,265.59" fill="#000000" stroke="#000000" stroke-width="0.90" stroke-linejoin="miter"/>
<polygon points="529.46,260.79 532.16,265.59 526.76,265.59" fill="#000000" stroke="#000000" stroke-width="0.90" stroke-linejoin="miter"/>
<polygon points="540.4,260.79 543.1,265.59 537.7,265.59" fill="#000000" stroke="#000000" stroke-width="0.90" stroke-linejoin="miter"/>
<path d="M321.7,263.6 L325.9,263.6 L330.2,263.6 L334.6,263.6 L338.7,263.6 L342.6,263.7 L346.4,263.7 L350.0,263.7 L353.4,263.8 L356.6,263.8 L359.7,263.8 L362.6,263.9 L365.4,263.9 L368.1,264.0 L370.6,264.1 L373.0,264.1 L375.3,264.2 L377.5,264.3 L379.6,264.4 L381.6,264.5 L383.5,264.6 L385.3,264.8 L387.0,264.9 L388.6,265.1 L390.2,265.2 L391.7,265.4 L393.1,265.6 L394.4,265.9 L395.7,266.2 L396.9,266.5 L398.1,266.8 L399.2,267.1 L400.2,267.5 L401.2,268.0 L402.2,268.5 L403.1,269.0 L404.0,269.6 L404.8,270.3 L405.6,271.1 L406.3,271.9 L407.0,272.8 L407.7,273.8 L408.4,274.9 L409.0,276.2 L409.6,277.5 L410.1,279.0 L410.7,280.6 L411.2,282.4 L411.6,284.3 L412.1,286.4 L412.5,288.7 L413.0,291.2 L413.4,293.9 L413.7,296.8 L414.1,299.9 L414.4,303.1 L414.8,306.6 L415.1,310.2 L415.4,313.9 L415.7,317.8 L415.9,321.8 L416.2,325.9 L416.4,330.0 L416.7,334.1 L416.9,338.2 L417.1,342.1 L417.3,345.9 L417.5,349.6 L417.7,353.1 L417.8,356.3 L418.0,359.3 L418.2,362.0 L418.3,364.4 L418.4,366.6 L418.6,368.5 L418.7,370.1 L418.8,371.5 L419.0,372.6 L419.1,373.5 L419.2,374.2 L419.3,374.7 L419.4,375.1 L419.5,375.2 L419.5,375.3 L419.5,375.3 L419.6,375.2 L419.7,375.1 L419.8,374.7 L419.9,374.2 L420.0,373.5 L420.1,372.6 L420.3,371.5 L420.4,370.1 L420.5,368.5 L420.6,366.6 L420.8,364.4 L420.9,362.0 L421.1,359.3 L421.3,356.3 L421.4,353.1 L421.6,349.6 L421.8,345.9 L422.0,342.1 L422.2,338.2 L422.4,334.1 L422.7,330.0 L422.9,325.9 L423.2,321.8 L423.4,317.8 L423.7,313.9 L424.0,310.2 L424.3,306.6 L424.7,303.1 L425.0,299.9 L425.4,296.8 L425.7,293.9 L426.1,291.2 L426.6,288.7 L427.0,286.4 L427.4,284.3 L427.9,282.4 L428.4,280.6 L429.0,279.0 L429.5,277.5 L430.1,276.2 L430.7,274.9 L431.4,273.8 L432.1,272.8 L432.8,271.9 L433.5,271.1 L434.3,270.3 L435.1,269.6 L436.0,269.0 L436.9,268.5 L437.9,268.0 L438.9,267.5 L439.9,267.1 L441.0,266.8 L442.2,266.5 L443.4,266.2 L444.7,265.9 L446.0,265.6 L447.4,265.4 L448.9,265.2 L450.5,265.1 L452.1,264.9 L453.8,264.8 L455.6,264.6 L457.5,264.5 L459.5,264.4 L461.6,264.3 L463.8,264.2 L466.1,264.1 L468.5,264.1 L471.0,264.0 L473.7,263.9 L476.5,263.9 L479.4,263.8 L482.5,263.8 L485.7,263.8 L489.1,263.7 L492.7,263.7 L496.4,263.7 L500.4,263.6 L504.5,263.6 L508.8,263.6 L513.2,263.6 L517.6,263.6 L522.0,263.6 L526.3,263.5 L530.7,263.5 L535.1,263.5 L539.5,263.5 L540.4,263.5" fill="none" stroke="#000000" stroke-width="1.1" stroke-dasharray="4 2.6" opacity="0.8"/>
<polygon points="321.7,261.04 324.3,265.64 319.1,265.64" fill="none" stroke="#000000" stroke-width="1.08" stroke-linejoin="miter"/>
<polygon points="332.63,261.08 335.24,265.68 330.03,265.68" fill="none" stroke="#000000" stroke-width="1.08" stroke-linejoin="miter"/>
<polygon points="343.57,261.15 346.17,265.75 340.97,265.75" fill="none" stroke="#000000" stroke-width="1.08" stroke-linejoin="miter"/>
<polygon points="354.5,261.25 357.11,265.85 351.9,265.85" fill="none" stroke="#000000" stroke-width="1.08" stroke-linejoin="miter"/>
<polygon points="365.44,261.42 368.04,266.02 362.84,266.02" fill="none" stroke="#000000" stroke-width="1.08" stroke-linejoin="miter"/>
<polygon points="376.38,261.73 378.98,266.33 373.77,266.33" fill="none" stroke="#000000" stroke-width="1.08" stroke-linejoin="miter"/>
<polygon points="387.31,262.4 389.91,267 384.71,267" fill="none" stroke="#000000" stroke-width="1.08" stroke-linejoin="miter"/>
<polygon points="398.25,264.3 400.85,268.9 395.64,268.9" fill="none" stroke="#000000" stroke-width="1.08" stroke-linejoin="miter"/>
<polygon points="409.18,274.06 411.78,278.66 406.58,278.66" fill="none" stroke="#000000" stroke-width="1.08" stroke-linejoin="miter"/>
<polygon points="420.12,370.32 422.72,374.92 417.51,374.92" fill="none" stroke="#000000" stroke-width="1.08" stroke-linejoin="miter"/>
<polygon points="431.05,271.83 433.65,276.43 428.45,276.43" fill="none" stroke="#000000" stroke-width="1.08" stroke-linejoin="miter"/>
<polygon points="441.99,263.97 444.59,268.57 439.38,268.57" fill="none" stroke="#000000" stroke-width="1.08" stroke-linejoin="miter"/>
<polygon points="452.92,262.29 455.52,266.89 450.32,266.89" fill="none" stroke="#000000" stroke-width="1.08" stroke-linejoin="miter"/>
<polygon points="463.86,261.68 466.46,266.28 461.25,266.28" fill="none" stroke="#000000" stroke-width="1.08" stroke-linejoin="miter"/>
<polygon points="474.79,261.39 477.39,265.99 472.19,265.99" fill="none" stroke="#000000" stroke-width="1.08" stroke-linejoin="miter"/>
<polygon points="485.72,261.24 488.32,265.84 483.12,265.84" fill="none" stroke="#000000" stroke-width="1.08" stroke-linejoin="miter"/>
<polygon points="496.66,261.14 499.26,265.74 494.06,265.74" fill="none" stroke="#000000" stroke-width="1.08" stroke-linejoin="miter"/>
<polygon points="507.59,261.08 510.19,265.68 504.99,265.68" fill="none" stroke="#000000" stroke-width="1.08" stroke-linejoin="miter"/>
<polygon points="518.53,261.03 521.13,265.63 515.93,265.63" fill="none" stroke="#000000" stroke-width="1.08" stroke-linejoin="miter"/>
<polygon points="529.46,261 532.06,265.6 526.86,265.6" fill="none" stroke="#000000" stroke-width="1.08" stroke-linejoin="miter"/>
<polygon points="540.4,260.98 543,265.58 537.8,265.58" fill="none" stroke="#000000" stroke-width="1.08" stroke-linejoin="miter"/>
<path d="M321.7,264.0 L323.4,264.1 L325.5,264.1 L327.5,264.2 L329.4,264.3 L331.2,264.4 L332.9,264.5 L334.5,264.6 L336.1,264.7 L337.6,264.9 L339.0,265.1 L340.3,265.2 L341.6,265.4 L342.8,265.7 L344.0,265.9 L345.1,266.2 L346.1,266.5 L347.1,266.8 L348.1,267.2 L349.0,267.6 L349.9,268.1 L350.7,268.6 L351.5,269.2 L352.2,269.8 L353.0,270.5 L353.6,271.3 L354.3,272.2 L354.9,273.1 L355.5,274.2 L356.0,275.4 L356.6,276.8 L357.1,278.3 L357.6,279.9 L358.0,281.7 L358.5,283.7 L358.9,285.9 L359.3,288.4 L359.6,291.0 L360.0,293.9 L360.4,297.1 L360.7,300.6 L361.0,304.3 L361.3,308.3 L361.6,312.6 L361.8,317.2 L362.1,322.0 L362.3,327.0 L362.6,332.2 L362.8,337.6 L363.0,343.0 L363.2,348.5 L363.4,353.9 L363.6,359.3 L363.7,364.4 L363.9,369.3 L364.1,373.9 L364.2,378.2 L364.4,382.1 L364.5,385.5 L364.6,388.6 L364.7,391.2 L364.9,393.3 L365.0,395.1 L365.1,396.5 L365.2,397.5 L365.3,398.1 L365.4,398.5 L365.5,398.6 L365.5,398.6 L365.5,398.5 L365.6,398.1 L365.7,397.5 L365.8,396.5 L365.9,395.1 L366.1,393.3 L366.2,391.2 L366.3,388.6 L366.4,385.5 L366.6,382.1 L366.7,378.2 L366.9,373.9 L367.0,369.3 L367.2,364.4 L367.3,359.3 L367.5,353.9 L367.7,348.5 L367.9,343.0 L368.1,337.6 L368.4,332.2 L368.6,327.0 L368.8,322.0 L369.1,317.2 L369.4,312.6 L369.6,308.3 L369.9,304.3 L370.2,300.6 L370.6,297.1 L370.9,293.9 L371.3,291.0 L371.7,288.4 L372.0,285.9 L372.5,283.7 L372.9,281.7 L373.4,279.9 L373.8,278.3 L374.4,276.8 L374.9,275.4 L375.4,274.2 L376.0,273.1 L376.6,272.2 L377.3,271.3 L378.0,270.5 L378.7,269.8 L379.4,269.2 L380.2,268.6 L381.0,268.1 L381.9,267.6 L382.8,267.2 L383.8,266.8 L384.8,266.5 L385.8,266.2 L386.9,265.9 L388.1,265.7 L389.3,265.4 L390.6,265.2 L391.9,265.1 L393.4,264.9 L394.8,264.7 L396.4,264.6 L398.0,264.5 L399.7,264.4 L401.5,264.3 L403.4,264.2 L405.4,264.1 L407.5,264.1 L409.7,264.0 L412.0,263.9 L414.4,263.9 L416.9,263.8 L419.6,263.8 L422.4,263.8 L425.3,263.7 L428.4,263.7 L431.7,263.7 L435.0,263.6 L438.6,263.6 L442.4,263.6 L446.3,263.6 L450.4,263.6 L454.8,263.5 L459.1,263.5 L463.5,263.5 L467.9,263.5 L472.3,263.5 L476.6,263.5 L481.0,263.5 L485.4,263.5 L489.8,263.5 L494.1,263.5 L498.5,263.5 L502.9,263.5 L507.2,263.5 L511.6,263.5 L516.0,263.5 L520.4,263.4 L524.7,263.4 L529.1,263.4 L533.5,263.4 L537.9,263.4 L540.4,263.4" fill="none" stroke="#ff0000" stroke-width="1.0" opacity="0.85"/>
<polygon points="321.7,261.21 324.5,264.01 321.7,266.81 318.9,264.01" fill="#ff0000" stroke="#ff0000" stroke-width="0.90" stroke-linejoin="miter"/>
<polygon points="332.63,261.68 335.44,264.48 332.63,267.28 329.83,264.48" fill="#ff0000" stroke="#ff0000" stroke-width="0.90" stroke-linejoin="miter"/>
<polygon points="343.57,263 346.37,265.8 343.57,268.6 340.77,265.8" fill="#ff0000" stroke="#ff0000" stroke-width="0.90" stroke-linejoin="miter"/>
<polygon points="354.5,269.72 357.31,272.52 354.5,275.32 351.7,272.52" fill="#ff0000" stroke="#ff0000" stroke-width="0.90" stroke-linejoin="miter"/>
<polygon points="365.44,395.83 368.24,398.63 365.44,401.43 362.64,398.63" fill="#ff0000" stroke="#ff0000" stroke-width="0.90" stroke-linejoin="miter"/>
<polygon points="376.38,269.78 379.18,272.58 376.38,275.38 373.57,272.58" fill="#ff0000" stroke="#ff0000" stroke-width="0.90" stroke-linejoin="miter"/>
<polygon points="387.31,263.01 390.11,265.81 387.31,268.61 384.51,265.81" fill="#ff0000" stroke="#ff0000" stroke-width="0.90" stroke-linejoin="miter"/>
<polygon points="398.25,261.68 401.05,264.48 398.25,267.28 395.44,264.48" fill="#ff0000" stroke="#ff0000" stroke-width="0.90" stroke-linejoin="miter"/>
<polygon points="409.18,261.21 411.98,264.01 409.18,266.81 406.38,264.01" fill="#ff0000" stroke="#ff0000" stroke-width="0.90" stroke-linejoin="miter"/>
<polygon points="420.12,260.99 422.92,263.79 420.12,266.59 417.31,263.79" fill="#ff0000" stroke="#ff0000" stroke-width="0.90" stroke-linejoin="miter"/>
<polygon points="431.05,260.87 433.85,263.67 431.05,266.47 428.25,263.67" fill="#ff0000" stroke="#ff0000" stroke-width="0.90" stroke-linejoin="miter"/>
<polygon points="441.99,260.8 444.79,263.6 441.99,266.4 439.19,263.6" fill="#ff0000" stroke="#ff0000" stroke-width="0.90" stroke-linejoin="miter"/>
<polygon points="452.92,260.75 455.72,263.55 452.92,266.35 450.12,263.55" fill="#ff0000" stroke="#ff0000" stroke-width="0.90" stroke-linejoin="miter"/>
<polygon points="463.86,260.72 466.66,263.52 463.86,266.32 461.06,263.52" fill="#ff0000" stroke="#ff0000" stroke-width="0.90" stroke-linejoin="miter"/>
<polygon points="474.79,260.7 477.59,263.5 474.79,266.3 471.99,263.5" fill="#ff0000" stroke="#ff0000" stroke-width="0.90" stroke-linejoin="miter"/>
<polygon points="485.72,260.68 488.52,263.48 485.72,266.28 482.92,263.48" fill="#ff0000" stroke="#ff0000" stroke-width="0.90" stroke-linejoin="miter"/>
<polygon points="496.66,260.67 499.46,263.47 496.66,266.27 493.86,263.47" fill="#ff0000" stroke="#ff0000" stroke-width="0.90" stroke-linejoin="miter"/>
<polygon points="507.59,260.66 510.39,263.46 507.59,266.26 504.79,263.46" fill="#ff0000" stroke="#ff0000" stroke-width="0.90" stroke-linejoin="miter"/>
<polygon points="518.53,260.65 521.33,263.45 518.53,266.25 515.73,263.45" fill="#ff0000" stroke="#ff0000" stroke-width="0.90" stroke-linejoin="miter"/>
<polygon points="529.46,260.64 532.26,263.44 529.46,266.24 526.66,263.44" fill="#ff0000" stroke="#ff0000" stroke-width="0.90" stroke-linejoin="miter"/>
<polygon points="540.4,260.64 543.2,263.44 540.4,266.24 537.6,263.44" fill="#ff0000" stroke="#ff0000" stroke-width="0.90" stroke-linejoin="miter"/>
<path d="M321.7,263.6 L323.6,263.6 L328.0,263.6 L332.4,263.6 L336.7,263.6 L340.9,263.7 L344.8,263.7 L348.5,263.7 L352.1,263.7 L355.5,263.8 L358.7,263.8 L361.8,263.9 L364.8,263.9 L367.5,264.0 L370.2,264.0 L372.7,264.1 L375.2,264.2 L377.5,264.3 L379.6,264.4 L381.7,264.5 L383.7,264.6 L385.6,264.7 L387.4,264.8 L389.1,265.0 L390.8,265.1 L392.3,265.3 L393.8,265.5 L395.2,265.8 L396.6,266.0 L397.8,266.3 L399.1,266.6 L400.2,267.0 L401.3,267.4 L402.4,267.8 L403.4,268.2 L404.3,268.8 L405.2,269.4 L406.1,270.0 L406.9,270.7 L407.7,271.5 L408.5,272.3 L409.2,273.3 L409.9,274.4 L410.5,275.5 L411.1,276.8 L411.7,278.2 L412.3,279.8 L412.8,281.5 L413.3,283.3 L413.8,285.3 L414.2,287.5 L414.7,289.9 L415.1,292.5 L415.5,295.2 L415.9,298.2 L416.2,301.3 L416.6,304.7 L416.9,308.2 L417.2,311.9 L417.5,315.7 L417.8,319.6 L418.1,323.7 L418.3,327.7 L418.6,331.8 L418.8,335.9 L419.0,339.9 L419.2,343.9 L419.4,347.6 L419.6,351.2 L419.8,354.6 L420.0,357.8 L420.1,360.7 L420.3,363.3 L420.4,365.7 L420.6,367.8 L420.7,369.6 L420.9,371.2 L421.0,372.5 L421.1,373.6 L421.2,374.5 L421.3,375.1 L421.4,375.6 L421.5,376.0 L421.6,376.1 L421.7,376.2 L421.7,376.2 L421.8,376.1 L421.9,376.0 L422.0,375.6 L422.1,375.1 L422.2,374.5 L422.3,373.6 L422.4,372.5 L422.5,371.2 L422.7,369.6 L422.8,367.8 L422.9,365.7 L423.1,363.3 L423.2,360.7 L423.4,357.8 L423.6,354.6 L423.8,351.2 L424.0,347.6 L424.2,343.9 L424.4,339.9 L424.6,335.9 L424.8,331.8 L425.1,327.7 L425.3,323.7 L425.6,319.6 L425.9,315.7 L426.2,311.9 L426.5,308.2 L426.8,304.7 L427.1,301.3 L427.5,298.2 L427.9,295.2 L428.3,292.5 L428.7,289.9 L429.1,287.5 L429.6,285.3 L430.1,283.3 L430.6,281.5 L431.1,279.8 L431.7,278.2 L432.3,276.8 L432.9,275.5 L433.5,274.4 L434.2,273.3 L434.9,272.3 L435.7,271.5 L436.4,270.7 L437.3,270.0 L438.1,269.4 L439.0,268.8 L440.0,268.2 L441.0,267.8 L442.1,267.4 L443.2,267.0 L444.3,266.6 L445.5,266.3 L446.8,266.0 L448.2,265.8 L449.6,265.5 L451.1,265.3 L452.6,265.1 L454.3,265.0 L456.0,264.8 L457.8,264.7 L459.7,264.6 L461.7,264.5 L463.7,264.4 L465.9,264.3 L468.2,264.2 L470.6,264.1 L473.2,264.0 L475.8,264.0 L478.6,263.9 L481.6,263.9 L484.6,263.8 L487.9,263.8 L491.3,263.7 L494.8,263.7 L498.6,263.7 L502.5,263.7 L506.7,263.6 L511.0,263.6 L515.4,263.6 L519.7,263.6 L524.1,263.6 L528.5,263.5 L532.9,263.5 L537.2,263.5 L540.4,263.5" fill="none" stroke="#ff0000" stroke-width="1.1" stroke-dasharray="4 2.6" opacity="0.8"/>
<polygon points="321.7,260.67 324.6,263.57 321.7,266.47 318.8,263.57" fill="none" stroke="#ff0000" stroke-width="1.08" stroke-linejoin="miter"/>
<polygon points="332.63,260.71 335.53,263.61 332.63,266.51 329.74,263.61" fill="none" stroke="#ff0000" stroke-width="1.08" stroke-linejoin="miter"/>
<polygon points="343.57,260.78 346.47,263.68 343.57,266.58 340.67,263.68" fill="none" stroke="#ff0000" stroke-width="1.08" stroke-linejoin="miter"/>
<polygon points="354.5,260.88 357.4,263.78 354.5,266.68 351.61,263.78" fill="none" stroke="#ff0000" stroke-width="1.08" stroke-linejoin="miter"/>
<polygon points="365.44,261.03 368.34,263.93 365.44,266.83 362.54,263.93" fill="none" stroke="#ff0000" stroke-width="1.08" stroke-linejoin="miter"/>
<polygon points="376.38,261.32 379.27,264.22 376.38,267.12 373.48,264.22" fill="none" stroke="#ff0000" stroke-width="1.08" stroke-linejoin="miter"/>
<polygon points="387.31,261.92 390.21,264.82 387.31,267.72 384.41,264.82" fill="none" stroke="#ff0000" stroke-width="1.08" stroke-linejoin="miter"/>
<polygon points="398.25,263.51 401.14,266.41 398.25,269.31 395.35,266.41" fill="none" stroke="#ff0000" stroke-width="1.08" stroke-linejoin="miter"/>
<polygon points="409.18,270.4 412.08,273.3 409.18,276.2 406.28,273.3" fill="none" stroke="#ff0000" stroke-width="1.08" stroke-linejoin="miter"/>
<polygon points="420.12,357.33 423.01,360.23 420.12,363.13 417.22,360.23" fill="none" stroke="#ff0000" stroke-width="1.08" stroke-linejoin="miter"/>
<polygon points="431.05,277.06 433.95,279.96 431.05,282.86 428.15,279.96" fill="none" stroke="#ff0000" stroke-width="1.08" stroke-linejoin="miter"/>
<polygon points="441.99,264.48 444.88,267.38 441.99,270.28 439.09,267.38" fill="none" stroke="#ff0000" stroke-width="1.08" stroke-linejoin="miter"/>
<polygon points="452.92,262.22 455.82,265.12 452.92,268.02 450.02,265.12" fill="none" stroke="#ff0000" stroke-width="1.08" stroke-linejoin="miter"/>
<polygon points="463.86,261.45 466.75,264.35 463.86,267.25 460.96,264.35" fill="none" stroke="#ff0000" stroke-width="1.08" stroke-linejoin="miter"/>
<polygon points="474.79,261.1 477.69,264 474.79,266.9 471.89,264" fill="none" stroke="#ff0000" stroke-width="1.08" stroke-linejoin="miter"/>
<polygon points="485.72,260.91 488.62,263.81 485.72,266.71 482.82,263.81" fill="none" stroke="#ff0000" stroke-width="1.08" stroke-linejoin="miter"/>
<polygon points="496.66,260.8 499.56,263.7 496.66,266.6 493.76,263.7" fill="none" stroke="#ff0000" stroke-width="1.08" stroke-linejoin="miter"/>
<polygon points="507.59,260.73 510.49,263.63 507.59,266.53 504.69,263.63" fill="none" stroke="#ff0000" stroke-width="1.08" stroke-linejoin="miter"/>
<polygon points="518.53,260.68 521.43,263.58 518.53,266.48 515.63,263.58" fill="none" stroke="#ff0000" stroke-width="1.08" stroke-linejoin="miter"/>
<polygon points="529.46,260.65 532.36,263.55 529.46,266.45 526.56,263.55" fill="none" stroke="#ff0000" stroke-width="1.08" stroke-linejoin="miter"/>
<polygon points="540.4,260.62 543.3,263.52 540.4,266.42 537.5,263.52" fill="none" stroke="#ff0000" stroke-width="1.08" stroke-linejoin="miter"/>
<path d="M321.7,263.9 L322.3,263.9 L325.1,263.9 L327.7,264.0 L330.3,264.0 L332.7,264.1 L335.0,264.2 L337.2,264.3 L339.2,264.4 L341.2,264.5 L343.1,264.6 L344.9,264.7 L346.6,264.8 L348.3,265.0 L349.8,265.2 L351.3,265.4 L352.7,265.6 L354.1,265.8 L355.3,266.1 L356.6,266.3 L357.7,266.7 L358.8,267.0 L359.9,267.4 L360.9,267.8 L361.8,268.3 L362.8,268.9 L363.6,269.4 L364.4,270.1 L365.2,270.8 L366.0,271.6 L366.7,272.5 L367.4,273.5 L368.0,274.6 L368.6,275.8 L369.2,277.1 L369.8,278.6 L370.3,280.2 L370.8,282.0 L371.3,283.9 L371.8,286.0 L372.2,288.3 L372.6,290.8 L373.0,293.6 L373.4,296.5 L373.7,299.6 L374.1,303.0 L374.4,306.5 L374.7,310.3 L375.0,314.2 L375.3,318.4 L375.6,322.6 L375.8,327.0 L376.1,331.4 L376.3,335.8 L376.5,340.2 L376.7,344.6 L376.9,348.8 L377.1,352.9 L377.3,356.8 L377.5,360.5 L377.7,363.9 L377.8,367.0 L378.0,369.8 L378.1,372.3 L378.2,374.5 L378.4,376.3 L378.5,377.9 L378.6,379.3 L378.7,380.3 L378.8,381.1 L378.9,381.7 L379.0,382.1 L379.1,382.3 L379.2,382.4 L379.2,382.4 L379.3,382.3 L379.4,382.1 L379.5,381.7 L379.6,381.1 L379.7,380.3 L379.8,379.3 L379.9,377.9 L380.0,376.3 L380.2,374.5 L380.3,372.3 L380.4,369.8 L380.6,367.0 L380.8,363.9 L380.9,360.5 L381.1,356.8 L381.3,352.9 L381.5,348.8 L381.7,344.6 L381.9,340.2 L382.1,335.8 L382.3,331.4 L382.6,327.0 L382.8,322.6 L383.1,318.4 L383.4,314.2 L383.7,310.3 L384.0,306.5 L384.3,303.0 L384.7,299.6 L385.0,296.5 L385.4,293.6 L385.8,290.8 L386.2,288.3 L386.6,286.0 L387.1,283.9 L387.6,282.0 L388.1,280.2 L388.6,278.6 L389.2,277.1 L389.8,275.8 L390.4,274.6 L391.0,273.5 L391.7,272.5 L392.4,271.6 L393.2,270.8 L394.0,270.1 L394.8,269.4 L395.6,268.9 L396.6,268.3 L397.5,267.8 L398.5,267.4 L399.6,267.0 L400.7,266.7 L401.8,266.3 L403.1,266.1 L404.3,265.8 L405.7,265.6 L407.1,265.4 L408.6,265.2 L410.1,265.0 L411.8,264.8 L413.5,264.7 L415.3,264.6 L417.2,264.5 L419.2,264.4 L421.2,264.3 L423.4,264.2 L425.7,264.1 L428.2,264.0 L430.7,264.0 L433.3,263.9 L436.1,263.9 L439.1,263.8 L442.2,263.8 L445.4,263.8 L448.8,263.7 L452.4,263.7 L456.1,263.7 L460.0,263.6 L464.2,263.6 L468.5,263.6 L472.9,263.6 L477.2,263.6 L481.6,263.5 L486.0,263.5 L490.4,263.5 L494.7,263.5 L499.1,263.5 L503.5,263.5 L507.9,263.5 L512.2,263.5 L516.6,263.5 L521.0,263.5 L525.4,263.5 L529.7,263.5 L534.1,263.5 L538.5,263.5 L540.4,263.5" fill="none" stroke="#0000ff" stroke-width="1.0" opacity="0.85"/>
<circle cx="321.7" cy="263.87" r="2.4" fill="#0000ff" stroke="#0000ff" stroke-width="0.90"/>
<circle cx="332.63" cy="264.11" r="2.4" fill="#0000ff" stroke="#0000ff" stroke-width="0.90"/>
<circle cx="343.57" cy="264.61" r="2.4" fill="#0000ff" stroke="#0000ff" stroke-width="0.90"/>
<circle cx="354.5" cy="265.88" r="2.4" fill="#0000ff" stroke="#0000ff" stroke-width="0.90"/>
<circle cx="365.44" cy="271.05" r="2.4" fill="#0000ff" stroke="#0000ff" stroke-width="0.90"/>
<circle cx="376.38" cy="337.13" r="2.4" fill="#0000ff" stroke="#0000ff" stroke-width="0.90"/>
<circle cx="387.31" cy="283.05" r="2.4" fill="#0000ff" stroke="#0000ff" stroke-width="0.90"/>
<circle cx="398.25" cy="267.52" r="2.4" fill="#0000ff" stroke="#0000ff" stroke-width="0.90"/>
<circle cx="409.18" cy="265.1" r="2.4" fill="#0000ff" stroke="#0000ff" stroke-width="0.90"/>
<circle cx="420.12" cy="264.32" r="2.4" fill="#0000ff" stroke="#0000ff" stroke-width="0.90"/>
<circle cx="431.05" cy="263.97" r="2.4" fill="#0000ff" stroke="#0000ff" stroke-width="0.90"/>
<circle cx="441.99" cy="263.79" r="2.4" fill="#0000ff" stroke="#0000ff" stroke-width="0.90"/>
<circle cx="452.92" cy="263.68" r="2.4" fill="#0000ff" stroke="#0000ff" stroke-width="0.90"/>
<circle cx="463.86" cy="263.62" r="2.4" fill="#0000ff" stroke="#0000ff" stroke-width="0.90"/>
<circle cx="474.79" cy="263.57" r="2.4" fill="#0000ff" stroke="#0000ff" stroke-width="0.90"/>
<circle cx="485.72" cy="263.54" r="2.4" fill="#0000ff" stroke="#0000ff" stroke-width="0.90"/>
<circle cx="496.66" cy="263.51" r="2.4" fill="#0000ff" stroke="#0000ff" stroke-width="0.90"/>
<circle cx="507.59" cy="263.49" r="2.4" fill="#0000ff" stroke="#0000ff" stroke-width="0.90"/>
<circle cx="518.53" cy="263.48" r="2.4" fill="#0000ff" stroke="#0000ff" stroke-width="0.90"/>
<circle cx="529.46" cy="263.47" r="2.4" fill="#0000ff" stroke="#0000ff" stroke-width="0.90"/>
<circle cx="540.4" cy="263.46" r="2.4" fill="#0000ff" stroke="#0000ff" stroke-width="0.90"/>
<path d="M321.7,263.6 L322.1,263.6 L326.5,263.6 L330.9,263.6 L335.2,263.6 L339.6,263.6 L343.7,263.7 L347.6,263.7 L351.4,263.7 L354.9,263.8 L358.3,263.8 L361.6,263.8 L364.7,263.9 L367.6,263.9 L370.4,264.0 L373.1,264.0 L375.6,264.1 L378.0,264.2 L380.3,264.3 L382.5,264.4 L384.6,264.5 L386.6,264.6 L388.5,264.7 L390.3,264.8 L392.0,265.0 L393.6,265.2 L395.2,265.3 L396.6,265.6 L398.1,265.8 L399.4,266.0 L400.7,266.3 L401.9,266.6 L403.1,267.0 L404.2,267.4 L405.2,267.8 L406.2,268.3 L407.2,268.8 L408.1,269.4 L409.0,270.0 L409.8,270.7 L410.6,271.5 L411.3,272.4 L412.0,273.3 L412.7,274.4 L413.4,275.6 L414.0,276.9 L414.6,278.3 L415.1,279.8 L415.6,281.5 L416.2,283.4 L416.6,285.4 L417.1,287.6 L417.5,290.0 L417.9,292.6 L418.3,295.3 L418.7,298.3 L419.1,301.5 L419.4,304.8 L419.8,308.3 L420.1,312.0 L420.4,315.9 L420.6,319.8 L420.9,323.8 L421.2,327.9 L421.4,332.0 L421.6,336.1 L421.9,340.1 L422.1,344.1 L422.3,347.8 L422.5,351.4 L422.6,354.8 L422.8,358.0 L423.0,360.9 L423.1,363.6 L423.3,365.9 L423.4,368.0 L423.6,369.9 L423.7,371.4 L423.8,372.8 L423.9,373.8 L424.1,374.7 L424.2,375.4 L424.3,375.9 L424.4,376.2 L424.4,376.4 L424.5,376.4 L424.5,376.4 L424.6,376.4 L424.7,376.2 L424.8,375.9 L424.9,375.4 L425.0,374.7 L425.1,373.8 L425.2,372.8 L425.4,371.4 L425.5,369.9 L425.6,368.0 L425.8,365.9 L425.9,363.6 L426.1,360.9 L426.3,358.0 L426.4,354.8 L426.6,351.4 L426.8,347.8 L427.0,344.1 L427.2,340.1 L427.4,336.1 L427.7,332.0 L427.9,327.9 L428.2,323.8 L428.4,319.8 L428.7,315.9 L429.0,312.0 L429.3,308.3 L429.6,304.8 L430.0,301.5 L430.3,298.3 L430.7,295.3 L431.1,292.6 L431.5,290.0 L432.0,287.6 L432.4,285.4 L432.9,283.4 L433.4,281.5 L434.0,279.8 L434.5,278.3 L435.1,276.9 L435.7,275.6 L436.4,274.4 L437.0,273.3 L437.8,272.4 L438.5,271.5 L439.3,270.7 L440.1,270.0 L441.0,269.4 L441.9,268.8 L442.8,268.3 L443.9,267.8 L444.9,267.4 L446.0,267.0 L447.2,266.6 L448.4,266.3 L449.7,266.0 L451.0,265.8 L452.4,265.6 L453.9,265.3 L455.5,265.2 L457.1,265.0 L458.8,264.8 L460.6,264.7 L462.5,264.6 L464.5,264.5 L466.6,264.4 L468.8,264.3 L471.1,264.2 L473.5,264.1 L476.0,264.0 L478.7,264.0 L481.5,263.9 L484.4,263.9 L487.5,263.8 L490.7,263.8 L494.1,263.8 L497.7,263.7 L501.4,263.7 L505.4,263.7 L509.5,263.6 L513.8,263.6 L518.2,263.6 L522.6,263.6 L527.0,263.6 L531.3,263.5 L535.7,263.5 L540.1,263.5 L540.4,263.5" fill="none" stroke="#0000ff" stroke-width="1.1" stroke-dasharray="4 2.6" opacity="0.8"/>
<circle cx="321.7" cy="263.56" r="2.3" fill="none" stroke="#0000ff" stroke-width="1.08"/>
<circle cx="332.63" cy="263.6" r="2.3" fill="none" stroke="#0000ff" stroke-width="1.08"/>
<circle cx="343.57" cy="263.66" r="2.3" fill="none" stroke="#0000ff" stroke-width="1.08"/>
<circle cx="354.5" cy="263.75" r="2.3" fill="none" stroke="#0000ff" stroke-width="1.08"/>
<circle cx="365.44" cy="263.89" r="2.3" fill="none" stroke="#0000ff" stroke-width="1.08"/>
<circle cx="376.38" cy="264.13" r="2.3" fill="none" stroke="#0000ff" stroke-width="1.08"/>
<circle cx="387.31" cy="264.62" r="2.3" fill="none" stroke="#0000ff" stroke-width="1.08"/>
<circle cx="398.25" cy="265.82" r="2.3" fill="none" stroke="#0000ff" stroke-width="1.08"/>
<circle cx="409.18" cy="270.2" r="2.3" fill="none" stroke="#0000ff" stroke-width="1.08"/>
<circle cx="420.12" cy="312.66" r="2.3" fill="none" stroke="#0000ff" stroke-width="1.08"/>
<circle cx="431.05" cy="293.06" r="2.3" fill="none" stroke="#0000ff" stroke-width="1.08"/>
<circle cx="441.99" cy="268.74" r="2.3" fill="none" stroke="#0000ff" stroke-width="1.08"/>
<circle cx="452.92" cy="265.48" r="2.3" fill="none" stroke="#0000ff" stroke-width="1.08"/>
<circle cx="463.86" cy="264.49" r="2.3" fill="none" stroke="#0000ff" stroke-width="1.08"/>
<circle cx="474.79" cy="264.07" r="2.3" fill="none" stroke="#0000ff" stroke-width="1.08"/>
<circle cx="485.72" cy="263.85" r="2.3" fill="none" stroke="#0000ff" stroke-width="1.08"/>
<circle cx="496.66" cy="263.73" r="2.3" fill="none" stroke="#0000ff" stroke-width="1.08"/>
<circle cx="507.59" cy="263.65" r="2.3" fill="none" stroke="#0000ff" stroke-width="1.08"/>
<circle cx="518.53" cy="263.59" r="2.3" fill="none" stroke="#0000ff" stroke-width="1.08"/>
<circle cx="529.46" cy="263.55" r="2.3" fill="none" stroke="#0000ff" stroke-width="1.08"/>
<circle cx="540.4" cy="263.53" r="2.3" fill="none" stroke="#0000ff" stroke-width="1.08"/>
</g>
<text x="321.7" y="464.5" font-size="11" text-anchor="middle" fill="#000">8</text>
<line x1="343.57" y1="451.4" x2="343.57" y2="447.4" stroke="#666" stroke-width="1"/>
<line x1="365.44" y1="451.4" x2="365.44" y2="447.4" stroke="#666" stroke-width="1"/>
<text x="365.44" y="464.5" font-size="11" text-anchor="middle" fill="#000">9</text>
<line x1="387.31" y1="451.4" x2="387.31" y2="447.4" stroke="#666" stroke-width="1"/>
<line x1="409.18" y1="451.4" x2="409.18" y2="447.4" stroke="#666" stroke-width="1"/>
<text x="409.18" y="464.5" font-size="11" text-anchor="middle" fill="#000">10</text>
<line x1="431.05" y1="451.4" x2="431.05" y2="447.4" stroke="#666" stroke-width="1"/>
<line x1="452.92" y1="451.4" x2="452.92" y2="447.4" stroke="#666" stroke-width="1"/>
<text x="452.92" y="464.5" font-size="11" text-anchor="middle" fill="#000">11</text>
<line x1="474.79" y1="451.4" x2="474.79" y2="447.4" stroke="#666" stroke-width="1"/>
<line x1="496.66" y1="451.4" x2="496.66" y2="447.4" stroke="#666" stroke-width="1"/>
<text x="496.66" y="464.5" font-size="11" text-anchor="middle" fill="#000">12</text>
<line x1="518.53" y1="451.4" x2="518.53" y2="447.4" stroke="#666" stroke-width="1"/>
<text x="540.4" y="464.5" font-size="11" text-anchor="middle" fill="#000">13</text>
<text x="316.9" y="266.2" font-size="11" text-anchor="end" fill="#000">0.0</text>
<line x1="321.7" y1="301" x2="325.9" y2="301" stroke="#666" stroke-width="1"/>
<text x="316.9" y="303.8" font-size="11" text-anchor="end" fill="#000">-0.5</text>
<line x1="321.7" y1="338.6" x2="325.9" y2="338.6" stroke="#666" stroke-width="1"/>
<text x="316.9" y="341.4" font-size="11" text-anchor="end" fill="#000">-1.0</text>
<line x1="321.7" y1="376.2" x2="325.9" y2="376.2" stroke="#666" stroke-width="1"/>
<text x="316.9" y="379" font-size="11" text-anchor="end" fill="#000">-1.5</text>
<line x1="321.7" y1="413.8" x2="325.9" y2="413.8" stroke="#666" stroke-width="1"/>
<text x="316.9" y="416.6" font-size="11" text-anchor="end" fill="#000">-2.0</text>
<text x="316.9" y="454.2" font-size="11" text-anchor="end" fill="#000">-2.5</text>
<text x="434.85" y="478.2" font-size="11" text-anchor="middle" fill="#000">Frequency (GHz)</text>
<text transform="translate(293.2,357.4) rotate(-90)" font-size="11" text-anchor="middle" fill="#000">Reflectionon Magnitude (dB)</text>
<text x="430.3" y="497.5" font-size="16.2" text-anchor="middle" fill="#000">(d)</text>
<ellipse cx="362.4" cy="378.8" rx="27.3" ry="7.4" fill="none" stroke="#555" stroke-width="0.9"/>
<line x1="374.7" y1="385.5" x2="378.56" y2="390.07" stroke="#333" stroke-width="0.9"/><polygon points="383.4,395.8 376.57,391.75 380.55,388.39" fill="#000"/>
<text x="381.5" y="410" font-size="11" font-style="italic" text-anchor="start" fill="#000" style="stroke-width:0.05px">TE</text>
<ellipse cx="423.3" cy="341.6" rx="13" ry="5" fill="none" stroke="#555" stroke-width="0.9"/>
<line x1="436" y1="344.6" x2="446.43" y2="351.83" stroke="#333" stroke-width="0.9"/><polygon points="452.6,356.1 444.95,353.97 447.92,349.69" fill="#000"/>
<text x="456.5" y="365.4" font-size="11" font-style="italic" text-anchor="start" fill="#000" style="stroke-width:0.05px">TM</text>
<line x1="416" y1="399.4" x2="434.4" y2="399.4" stroke="#000000" stroke-width="1.1"/>
<polygon points="425,397.82 426.62,400.7 423.38,400.7" fill="#000000" stroke="#000000" stroke-width="0.90" stroke-linejoin="miter"/>
<line x1="443.6" y1="399.4" x2="461.6" y2="399.4" stroke="#000000" stroke-width="1.1" stroke-dasharray="3.2 3.2" opacity="0.8"/>
<polygon points="452.6,397.88 454.16,400.64 451.04,400.64" fill="none" stroke="#000000" stroke-width="0.96" stroke-linejoin="miter"/>
<text x="468" y="403.14" font-size="11" fill="#000"><tspan font-style="italic">r</tspan><tspan font-style="italic" font-size="7.92" dy="3.3">v</tspan><tspan dy="-3.3"> = 0.1 mm</tspan></text>
<line x1="416" y1="415.4" x2="434.4" y2="415.4" stroke="#ff0000" stroke-width="1.1"/>
<polygon points="425,413.72 426.68,415.4 425,417.08 423.32,415.4" fill="#ff0000" stroke="#ff0000" stroke-width="0.90" stroke-linejoin="miter"/>
<line x1="443.6" y1="415.4" x2="461.6" y2="415.4" stroke="#ff0000" stroke-width="1.1" stroke-dasharray="3.2 3.2" opacity="0.8"/>
<polygon points="452.6,413.66 454.34,415.4 452.6,417.14 450.86,415.4" fill="none" stroke="#ff0000" stroke-width="0.96" stroke-linejoin="miter"/>
<text x="468" y="419.14" font-size="11" fill="#000"><tspan font-style="italic">r</tspan><tspan font-style="italic" font-size="7.92" dy="3.3">v</tspan><tspan dy="-3.3"> = 0.15 mm</tspan></text>
<line x1="416" y1="431.4" x2="434.4" y2="431.4" stroke="#0000ff" stroke-width="1.1"/>
<circle cx="425" cy="431.4" r="1.44" fill="#0000ff" stroke="#0000ff" stroke-width="0.90"/>
<line x1="443.6" y1="431.4" x2="461.6" y2="431.4" stroke="#0000ff" stroke-width="1.1" stroke-dasharray="3.2 3.2" opacity="0.8"/>
<circle cx="452.6" cy="431.4" r="1.38" fill="none" stroke="#0000ff" stroke-width="0.96"/>
<text x="468" y="435.14" font-size="11" fill="#000"><tspan font-style="italic">r</tspan><tspan font-style="italic" font-size="7.92" dy="3.3">v</tspan><tspan dy="-3.3"> = 0.2 mm</tspan></text>
</svg>
</body></html>
